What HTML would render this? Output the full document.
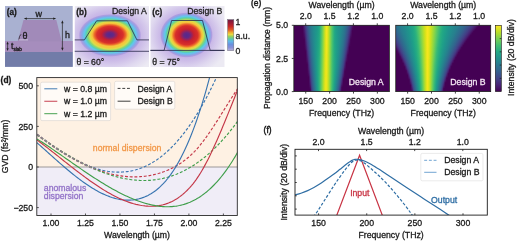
<!DOCTYPE html><html><head><meta charset="utf-8"><title>Figure</title><style>html,body{margin:0;padding:0;background:#fff;width:520px;height:241px;overflow:hidden}svg{display:block}</style></head><body><svg width="520" height="241" viewBox="0 0 520 241"><defs><radialGradient id="bgb" gradientUnits="userSpaceOnUse" cx="0" cy="0" r="1" gradientTransform="translate(110.4 36) scale(52 40)"><stop offset="0" stop-color="#b8a0e2"/><stop offset="0.42" stop-color="#bca6e4"/><stop offset="0.62" stop-color="#ccbce8"/><stop offset="0.82" stop-color="#dfd8ef"/><stop offset="1" stop-color="#eceaf3"/></radialGradient><radialGradient id="mb" gradientUnits="userSpaceOnUse" cx="0" cy="0" r="1" gradientTransform="translate(110.0 35.4) scale(31.5 21.5)"><stop offset="0" stop-color="#f4c83c"/><stop offset="0.58" stop-color="#f4c83c"/><stop offset="0.64" stop-color="#d8e04c"/><stop offset="0.7" stop-color="#8ed470"/><stop offset="0.76" stop-color="#58d0b4"/><stop offset="0.82" stop-color="#62c6ee"/><stop offset="0.89" stop-color="#8aa6e6"/><stop offset="0.95" stop-color="#ac9ce0"/><stop offset="1" stop-color="#b8a0e2" stop-opacity="0"/></radialGradient><radialGradient id="mbi" gradientUnits="userSpaceOnUse" cx="0" cy="0" r="1" gradientTransform="translate(110.0 34.8) scale(19.5 12.4)"><stop offset="0" stop-color="#56288c"/><stop offset="0.18" stop-color="#642884"/><stop offset="0.32" stop-color="#9a2258"/><stop offset="0.44" stop-color="#c8202e"/><stop offset="0.68" stop-color="#d8302a"/><stop offset="0.8" stop-color="#ec6a2a"/><stop offset="0.92" stop-color="#f4c43c"/><stop offset="1" stop-color="#f4c83c" stop-opacity="0"/></radialGradient><clipPath id="cb"><rect x="74.5" y="6.1" width="74.6" height="61"/></clipPath><radialGradient id="bgc" gradientUnits="userSpaceOnUse" cx="0" cy="0" r="1" gradientTransform="translate(186.3 35.5) scale(44 40)"><stop offset="0" stop-color="#b8a0e2"/><stop offset="0.42" stop-color="#bca6e4"/><stop offset="0.62" stop-color="#ccbce8"/><stop offset="0.82" stop-color="#dfd8ef"/><stop offset="1" stop-color="#eceaf3"/></radialGradient><radialGradient id="mc" gradientUnits="userSpaceOnUse" cx="0" cy="0" r="1" gradientTransform="translate(186.5 35.0) scale(26.5 22.8)"><stop offset="0" stop-color="#f4c83c"/><stop offset="0.58" stop-color="#f4c83c"/><stop offset="0.64" stop-color="#d8e04c"/><stop offset="0.7" stop-color="#8ed470"/><stop offset="0.76" stop-color="#58d0b4"/><stop offset="0.82" stop-color="#62c6ee"/><stop offset="0.89" stop-color="#8aa6e6"/><stop offset="0.95" stop-color="#ac9ce0"/><stop offset="1" stop-color="#b8a0e2" stop-opacity="0"/></radialGradient><radialGradient id="mci" gradientUnits="userSpaceOnUse" cx="0" cy="0" r="1" gradientTransform="translate(186.7 35.3) scale(16.5 14)"><stop offset="0" stop-color="#56288c"/><stop offset="0.18" stop-color="#642884"/><stop offset="0.32" stop-color="#9a2258"/><stop offset="0.44" stop-color="#c8202e"/><stop offset="0.68" stop-color="#d8302a"/><stop offset="0.8" stop-color="#ec6a2a"/><stop offset="0.92" stop-color="#f4c43c"/><stop offset="1" stop-color="#f4c83c" stop-opacity="0"/></radialGradient><clipPath id="cc"><rect x="150.3" y="6.1" width="74.4" height="61"/></clipPath><linearGradient id="cbm" x1="0" y1="0" x2="0" y2="1"><stop offset="0" stop-color="#6e1a40"/><stop offset="0.12" stop-color="#a01c34"/><stop offset="0.22" stop-color="#c82828"/><stop offset="0.33" stop-color="#e05a28"/><stop offset="0.42" stop-color="#f0b030"/><stop offset="0.48" stop-color="#e8d840"/><stop offset="0.55" stop-color="#90d060"/><stop offset="0.63" stop-color="#58c8b0"/><stop offset="0.7" stop-color="#60b8e8"/><stop offset="0.8" stop-color="#6890e0"/><stop offset="0.9" stop-color="#8890d8"/><stop offset="1" stop-color="#b8b0dc"/></linearGradient><clipPath id="cd"><rect x="36.8" y="77.6" width="200.5" height="137.9"/></clipPath><clipPath id="hAc"><rect x="293.8" y="25.3" width="95.59999999999997" height="66.3"/></clipPath><linearGradient id="hA0"><stop offset="0.000" stop-color="#440154"/><stop offset="0.078" stop-color="#440154"/><stop offset="0.094" stop-color="#450457"/><stop offset="0.110" stop-color="#482475"/><stop offset="0.126" stop-color="#424086"/><stop offset="0.141" stop-color="#39568c"/><stop offset="0.157" stop-color="#306a8e"/><stop offset="0.173" stop-color="#2a778e"/><stop offset="0.188" stop-color="#26818e"/><stop offset="0.204" stop-color="#23898e"/><stop offset="0.220" stop-color="#218f8d"/><stop offset="0.235" stop-color="#1f958b"/><stop offset="0.251" stop-color="#1e9b8a"/><stop offset="0.267" stop-color="#22a785"/><stop offset="0.282" stop-color="#38b977"/><stop offset="0.298" stop-color="#63cb5f"/><stop offset="0.314" stop-color="#9dd93b"/><stop offset="0.329" stop-color="#d8e219"/><stop offset="0.345" stop-color="#f8e621"/><stop offset="0.361" stop-color="#d0e11c"/><stop offset="0.377" stop-color="#9bd93c"/><stop offset="0.392" stop-color="#67cc5c"/><stop offset="0.408" stop-color="#3fbc73"/><stop offset="0.424" stop-color="#25ac82"/><stop offset="0.439" stop-color="#1f9e89"/><stop offset="0.455" stop-color="#1f988b"/><stop offset="0.471" stop-color="#20928c"/><stop offset="0.486" stop-color="#228d8d"/><stop offset="0.502" stop-color="#23888e"/><stop offset="0.518" stop-color="#27808e"/><stop offset="0.533" stop-color="#2a778e"/><stop offset="0.549" stop-color="#2f6c8e"/><stop offset="0.565" stop-color="#375b8d"/><stop offset="0.581" stop-color="#3f4788"/><stop offset="0.596" stop-color="#472f7d"/><stop offset="0.612" stop-color="#481668"/><stop offset="0.628" stop-color="#440154"/><stop offset="0.988" stop-color="#440154"/></linearGradient><linearGradient id="hA1"><stop offset="0.000" stop-color="#440154"/><stop offset="0.094" stop-color="#440154"/><stop offset="0.110" stop-color="#482173"/><stop offset="0.126" stop-color="#423f85"/><stop offset="0.141" stop-color="#39558c"/><stop offset="0.157" stop-color="#30698e"/><stop offset="0.173" stop-color="#2a768e"/><stop offset="0.188" stop-color="#26818e"/><stop offset="0.204" stop-color="#23898e"/><stop offset="0.220" stop-color="#218f8d"/><stop offset="0.235" stop-color="#1f958b"/><stop offset="0.251" stop-color="#1e9c89"/><stop offset="0.267" stop-color="#22a785"/><stop offset="0.282" stop-color="#3aba76"/><stop offset="0.298" stop-color="#63cb5f"/><stop offset="0.314" stop-color="#9dd93b"/><stop offset="0.329" stop-color="#d8e219"/><stop offset="0.345" stop-color="#f8e621"/><stop offset="0.361" stop-color="#d0e11c"/><stop offset="0.377" stop-color="#98d83e"/><stop offset="0.392" stop-color="#65cb5e"/><stop offset="0.408" stop-color="#3fbc73"/><stop offset="0.424" stop-color="#25ac82"/><stop offset="0.439" stop-color="#1f9e89"/><stop offset="0.455" stop-color="#1f988b"/><stop offset="0.471" stop-color="#20928c"/><stop offset="0.486" stop-color="#228d8d"/><stop offset="0.502" stop-color="#24878e"/><stop offset="0.518" stop-color="#277f8e"/><stop offset="0.533" stop-color="#2a768e"/><stop offset="0.549" stop-color="#2f6b8e"/><stop offset="0.565" stop-color="#38598c"/><stop offset="0.581" stop-color="#404688"/><stop offset="0.596" stop-color="#472d7b"/><stop offset="0.612" stop-color="#471164"/><stop offset="0.628" stop-color="#440154"/><stop offset="0.988" stop-color="#440154"/></linearGradient><linearGradient id="hA2"><stop offset="0.000" stop-color="#440154"/><stop offset="0.094" stop-color="#440154"/><stop offset="0.110" stop-color="#482071"/><stop offset="0.126" stop-color="#433d84"/><stop offset="0.141" stop-color="#3a548c"/><stop offset="0.157" stop-color="#31688e"/><stop offset="0.173" stop-color="#2a768e"/><stop offset="0.188" stop-color="#26818e"/><stop offset="0.204" stop-color="#23898e"/><stop offset="0.220" stop-color="#21908d"/><stop offset="0.235" stop-color="#1f958b"/><stop offset="0.251" stop-color="#1e9c89"/><stop offset="0.267" stop-color="#22a785"/><stop offset="0.282" stop-color="#3aba76"/><stop offset="0.298" stop-color="#65cb5e"/><stop offset="0.314" stop-color="#9dd93b"/><stop offset="0.329" stop-color="#d8e219"/><stop offset="0.345" stop-color="#f8e621"/><stop offset="0.361" stop-color="#d0e11c"/><stop offset="0.377" stop-color="#98d83e"/><stop offset="0.392" stop-color="#65cb5e"/><stop offset="0.408" stop-color="#3fbc73"/><stop offset="0.424" stop-color="#25ac82"/><stop offset="0.439" stop-color="#1f9e89"/><stop offset="0.455" stop-color="#1f988b"/><stop offset="0.471" stop-color="#20928c"/><stop offset="0.486" stop-color="#228d8d"/><stop offset="0.502" stop-color="#24878e"/><stop offset="0.518" stop-color="#277f8e"/><stop offset="0.533" stop-color="#2b758e"/><stop offset="0.549" stop-color="#30698e"/><stop offset="0.565" stop-color="#39568c"/><stop offset="0.581" stop-color="#414487"/><stop offset="0.596" stop-color="#472a7a"/><stop offset="0.612" stop-color="#470e61"/><stop offset="0.628" stop-color="#440154"/><stop offset="0.988" stop-color="#440154"/></linearGradient><linearGradient id="hA3"><stop offset="0.000" stop-color="#440154"/><stop offset="0.094" stop-color="#440154"/><stop offset="0.110" stop-color="#481d6f"/><stop offset="0.126" stop-color="#443b84"/><stop offset="0.141" stop-color="#3b528b"/><stop offset="0.157" stop-color="#31678e"/><stop offset="0.173" stop-color="#2b758e"/><stop offset="0.188" stop-color="#27808e"/><stop offset="0.204" stop-color="#23898e"/><stop offset="0.220" stop-color="#21908d"/><stop offset="0.235" stop-color="#1f968b"/><stop offset="0.251" stop-color="#1e9d89"/><stop offset="0.267" stop-color="#22a785"/><stop offset="0.282" stop-color="#3aba76"/><stop offset="0.298" stop-color="#65cb5e"/><stop offset="0.314" stop-color="#9dd93b"/><stop offset="0.329" stop-color="#d8e219"/><stop offset="0.345" stop-color="#f8e621"/><stop offset="0.361" stop-color="#d0e11c"/><stop offset="0.377" stop-color="#98d83e"/><stop offset="0.392" stop-color="#65cb5e"/><stop offset="0.408" stop-color="#3fbc73"/><stop offset="0.424" stop-color="#25ac82"/><stop offset="0.439" stop-color="#1f9f88"/><stop offset="0.455" stop-color="#1f998a"/><stop offset="0.471" stop-color="#20928c"/><stop offset="0.486" stop-color="#228d8d"/><stop offset="0.502" stop-color="#24878e"/><stop offset="0.518" stop-color="#277e8e"/><stop offset="0.533" stop-color="#2b758e"/><stop offset="0.549" stop-color="#31678e"/><stop offset="0.565" stop-color="#39558c"/><stop offset="0.581" stop-color="#424186"/><stop offset="0.596" stop-color="#482878"/><stop offset="0.612" stop-color="#460a5d"/><stop offset="0.628" stop-color="#440154"/><stop offset="0.988" stop-color="#440154"/></linearGradient><linearGradient id="hA4"><stop offset="0.000" stop-color="#440154"/><stop offset="0.094" stop-color="#440154"/><stop offset="0.110" stop-color="#481b6d"/><stop offset="0.126" stop-color="#443983"/><stop offset="0.141" stop-color="#3b518b"/><stop offset="0.157" stop-color="#31668e"/><stop offset="0.173" stop-color="#2b758e"/><stop offset="0.188" stop-color="#27808e"/><stop offset="0.204" stop-color="#23898e"/><stop offset="0.220" stop-color="#21908d"/><stop offset="0.235" stop-color="#1f968b"/><stop offset="0.251" stop-color="#1e9d89"/><stop offset="0.267" stop-color="#22a884"/><stop offset="0.282" stop-color="#3bbb75"/><stop offset="0.298" stop-color="#65cb5e"/><stop offset="0.314" stop-color="#9dd93b"/><stop offset="0.329" stop-color="#d8e219"/><stop offset="0.345" stop-color="#f8e621"/><stop offset="0.361" stop-color="#d0e11c"/><stop offset="0.377" stop-color="#98d83e"/><stop offset="0.392" stop-color="#65cb5e"/><stop offset="0.408" stop-color="#3fbc73"/><stop offset="0.424" stop-color="#25ac82"/><stop offset="0.439" stop-color="#1f9f88"/><stop offset="0.455" stop-color="#1f998a"/><stop offset="0.471" stop-color="#20928c"/><stop offset="0.486" stop-color="#228d8d"/><stop offset="0.502" stop-color="#24868e"/><stop offset="0.518" stop-color="#277e8e"/><stop offset="0.533" stop-color="#2b748e"/><stop offset="0.549" stop-color="#31668e"/><stop offset="0.565" stop-color="#3a538b"/><stop offset="0.581" stop-color="#423f85"/><stop offset="0.596" stop-color="#482475"/><stop offset="0.612" stop-color="#46075a"/><stop offset="0.628" stop-color="#440154"/><stop offset="0.988" stop-color="#440154"/></linearGradient><linearGradient id="hA5"><stop offset="0.000" stop-color="#440154"/><stop offset="0.094" stop-color="#440154"/><stop offset="0.110" stop-color="#48186a"/><stop offset="0.126" stop-color="#453882"/><stop offset="0.141" stop-color="#3c508b"/><stop offset="0.157" stop-color="#32658e"/><stop offset="0.173" stop-color="#2b748e"/><stop offset="0.188" stop-color="#277f8e"/><stop offset="0.204" stop-color="#23898e"/><stop offset="0.220" stop-color="#21908d"/><stop offset="0.235" stop-color="#1f968b"/><stop offset="0.251" stop-color="#1e9d89"/><stop offset="0.267" stop-color="#22a884"/><stop offset="0.282" stop-color="#3bbb75"/><stop offset="0.298" stop-color="#65cb5e"/><stop offset="0.314" stop-color="#a0da39"/><stop offset="0.329" stop-color="#d8e219"/><stop offset="0.345" stop-color="#f8e621"/><stop offset="0.361" stop-color="#cde11d"/><stop offset="0.377" stop-color="#98d83e"/><stop offset="0.392" stop-color="#65cb5e"/><stop offset="0.408" stop-color="#3fbc73"/><stop offset="0.424" stop-color="#25ac82"/><stop offset="0.439" stop-color="#1f9f88"/><stop offset="0.455" stop-color="#1f998a"/><stop offset="0.471" stop-color="#20928c"/><stop offset="0.486" stop-color="#228d8d"/><stop offset="0.502" stop-color="#24868e"/><stop offset="0.518" stop-color="#287d8e"/><stop offset="0.533" stop-color="#2c738e"/><stop offset="0.549" stop-color="#32648e"/><stop offset="0.565" stop-color="#3b518b"/><stop offset="0.581" stop-color="#433d84"/><stop offset="0.596" stop-color="#482173"/><stop offset="0.612" stop-color="#440256"/><stop offset="0.628" stop-color="#440154"/><stop offset="0.988" stop-color="#440154"/></linearGradient><linearGradient id="hA6"><stop offset="0.000" stop-color="#440154"/><stop offset="0.094" stop-color="#440154"/><stop offset="0.110" stop-color="#481769"/><stop offset="0.126" stop-color="#453581"/><stop offset="0.141" stop-color="#3c4f8a"/><stop offset="0.157" stop-color="#32648e"/><stop offset="0.173" stop-color="#2b748e"/><stop offset="0.188" stop-color="#277f8e"/><stop offset="0.204" stop-color="#23898e"/><stop offset="0.220" stop-color="#21908d"/><stop offset="0.235" stop-color="#1f968b"/><stop offset="0.251" stop-color="#1f9e89"/><stop offset="0.267" stop-color="#22a884"/><stop offset="0.282" stop-color="#3bbb75"/><stop offset="0.298" stop-color="#67cc5c"/><stop offset="0.314" stop-color="#a0da39"/><stop offset="0.329" stop-color="#d8e219"/><stop offset="0.345" stop-color="#f8e621"/><stop offset="0.361" stop-color="#cde11d"/><stop offset="0.377" stop-color="#98d83e"/><stop offset="0.392" stop-color="#65cb5e"/><stop offset="0.408" stop-color="#3dbc74"/><stop offset="0.424" stop-color="#25ab82"/><stop offset="0.439" stop-color="#1fa088"/><stop offset="0.455" stop-color="#1f998a"/><stop offset="0.471" stop-color="#20928c"/><stop offset="0.486" stop-color="#228d8d"/><stop offset="0.502" stop-color="#25858e"/><stop offset="0.518" stop-color="#287c8e"/><stop offset="0.533" stop-color="#2c728e"/><stop offset="0.549" stop-color="#33638d"/><stop offset="0.565" stop-color="#3c508b"/><stop offset="0.581" stop-color="#443983"/><stop offset="0.596" stop-color="#481d6f"/><stop offset="0.612" stop-color="#440154"/><stop offset="0.988" stop-color="#440154"/></linearGradient><linearGradient id="hA7"><stop offset="0.000" stop-color="#440154"/><stop offset="0.094" stop-color="#440154"/><stop offset="0.110" stop-color="#481467"/><stop offset="0.126" stop-color="#463480"/><stop offset="0.141" stop-color="#3d4e8a"/><stop offset="0.157" stop-color="#33638d"/><stop offset="0.173" stop-color="#2c738e"/><stop offset="0.188" stop-color="#277f8e"/><stop offset="0.204" stop-color="#23898e"/><stop offset="0.220" stop-color="#21908d"/><stop offset="0.235" stop-color="#1f978b"/><stop offset="0.251" stop-color="#1f9e89"/><stop offset="0.267" stop-color="#22a884"/><stop offset="0.282" stop-color="#3bbb75"/><stop offset="0.298" stop-color="#67cc5c"/><stop offset="0.314" stop-color="#a0da39"/><stop offset="0.329" stop-color="#dae319"/><stop offset="0.345" stop-color="#f8e621"/><stop offset="0.361" stop-color="#cde11d"/><stop offset="0.377" stop-color="#98d83e"/><stop offset="0.392" stop-color="#65cb5e"/><stop offset="0.408" stop-color="#3dbc74"/><stop offset="0.424" stop-color="#25ab82"/><stop offset="0.439" stop-color="#1fa088"/><stop offset="0.455" stop-color="#1f998a"/><stop offset="0.471" stop-color="#20928c"/><stop offset="0.486" stop-color="#228d8d"/><stop offset="0.502" stop-color="#25858e"/><stop offset="0.518" stop-color="#297b8e"/><stop offset="0.533" stop-color="#2c718e"/><stop offset="0.549" stop-color="#34618d"/><stop offset="0.565" stop-color="#3d4e8a"/><stop offset="0.581" stop-color="#453781"/><stop offset="0.596" stop-color="#481b6d"/><stop offset="0.612" stop-color="#440154"/><stop offset="0.988" stop-color="#440154"/></linearGradient><linearGradient id="hA8"><stop offset="0.000" stop-color="#440154"/><stop offset="0.094" stop-color="#440154"/><stop offset="0.110" stop-color="#471164"/><stop offset="0.126" stop-color="#46327e"/><stop offset="0.141" stop-color="#3d4d8a"/><stop offset="0.157" stop-color="#33628d"/><stop offset="0.173" stop-color="#2c738e"/><stop offset="0.188" stop-color="#277e8e"/><stop offset="0.204" stop-color="#23888e"/><stop offset="0.220" stop-color="#21908d"/><stop offset="0.235" stop-color="#1f978b"/><stop offset="0.251" stop-color="#1f9f88"/><stop offset="0.267" stop-color="#23a983"/><stop offset="0.282" stop-color="#3dbc74"/><stop offset="0.298" stop-color="#67cc5c"/><stop offset="0.314" stop-color="#a0da39"/><stop offset="0.329" stop-color="#dae319"/><stop offset="0.345" stop-color="#f8e621"/><stop offset="0.361" stop-color="#cde11d"/><stop offset="0.377" stop-color="#98d83e"/><stop offset="0.392" stop-color="#65cb5e"/><stop offset="0.408" stop-color="#3dbc74"/><stop offset="0.424" stop-color="#25ab82"/><stop offset="0.439" stop-color="#1fa088"/><stop offset="0.455" stop-color="#1f998a"/><stop offset="0.471" stop-color="#20928c"/><stop offset="0.486" stop-color="#228c8d"/><stop offset="0.502" stop-color="#25848e"/><stop offset="0.518" stop-color="#297b8e"/><stop offset="0.533" stop-color="#2d718e"/><stop offset="0.549" stop-color="#355f8d"/><stop offset="0.565" stop-color="#3e4c8a"/><stop offset="0.581" stop-color="#463480"/><stop offset="0.596" stop-color="#481769"/><stop offset="0.612" stop-color="#440154"/><stop offset="0.988" stop-color="#440154"/></linearGradient><linearGradient id="hA9"><stop offset="0.000" stop-color="#440154"/><stop offset="0.094" stop-color="#440154"/><stop offset="0.110" stop-color="#470e61"/><stop offset="0.126" stop-color="#472f7d"/><stop offset="0.141" stop-color="#3e4c8a"/><stop offset="0.157" stop-color="#34608d"/><stop offset="0.173" stop-color="#2c728e"/><stop offset="0.188" stop-color="#277e8e"/><stop offset="0.204" stop-color="#23888e"/><stop offset="0.220" stop-color="#21908d"/><stop offset="0.235" stop-color="#1f978b"/><stop offset="0.251" stop-color="#1f9f88"/><stop offset="0.267" stop-color="#23a983"/><stop offset="0.282" stop-color="#3dbc74"/><stop offset="0.298" stop-color="#69cd5b"/><stop offset="0.314" stop-color="#a0da39"/><stop offset="0.329" stop-color="#dae319"/><stop offset="0.345" stop-color="#f6e620"/><stop offset="0.361" stop-color="#cde11d"/><stop offset="0.377" stop-color="#95d840"/><stop offset="0.392" stop-color="#65cb5e"/><stop offset="0.408" stop-color="#3dbc74"/><stop offset="0.424" stop-color="#25ab82"/><stop offset="0.439" stop-color="#1fa188"/><stop offset="0.455" stop-color="#1f998a"/><stop offset="0.471" stop-color="#20928c"/><stop offset="0.486" stop-color="#228c8d"/><stop offset="0.502" stop-color="#25838e"/><stop offset="0.518" stop-color="#297a8e"/><stop offset="0.533" stop-color="#2d708e"/><stop offset="0.549" stop-color="#365d8d"/><stop offset="0.565" stop-color="#3e4989"/><stop offset="0.581" stop-color="#46307e"/><stop offset="0.596" stop-color="#481467"/><stop offset="0.612" stop-color="#440154"/><stop offset="0.988" stop-color="#440154"/></linearGradient><linearGradient id="hA10"><stop offset="0.000" stop-color="#440154"/><stop offset="0.094" stop-color="#440154"/><stop offset="0.110" stop-color="#470d60"/><stop offset="0.126" stop-color="#472e7c"/><stop offset="0.141" stop-color="#3e4989"/><stop offset="0.157" stop-color="#355f8d"/><stop offset="0.173" stop-color="#2c728e"/><stop offset="0.188" stop-color="#287d8e"/><stop offset="0.204" stop-color="#23888e"/><stop offset="0.220" stop-color="#21908d"/><stop offset="0.235" stop-color="#1f978b"/><stop offset="0.251" stop-color="#1fa088"/><stop offset="0.267" stop-color="#23a983"/><stop offset="0.282" stop-color="#3dbc74"/><stop offset="0.298" stop-color="#69cd5b"/><stop offset="0.314" stop-color="#a2da37"/><stop offset="0.329" stop-color="#dae319"/><stop offset="0.345" stop-color="#f6e620"/><stop offset="0.361" stop-color="#cde11d"/><stop offset="0.377" stop-color="#95d840"/><stop offset="0.392" stop-color="#65cb5e"/><stop offset="0.408" stop-color="#3dbc74"/><stop offset="0.424" stop-color="#25ab82"/><stop offset="0.439" stop-color="#1fa188"/><stop offset="0.455" stop-color="#1f9a8a"/><stop offset="0.471" stop-color="#20928c"/><stop offset="0.486" stop-color="#228c8d"/><stop offset="0.502" stop-color="#25838e"/><stop offset="0.518" stop-color="#29798e"/><stop offset="0.533" stop-color="#2e6e8e"/><stop offset="0.549" stop-color="#365c8d"/><stop offset="0.565" stop-color="#3f4889"/><stop offset="0.581" stop-color="#472e7c"/><stop offset="0.596" stop-color="#471063"/><stop offset="0.612" stop-color="#440154"/><stop offset="0.988" stop-color="#440154"/></linearGradient><linearGradient id="hA11"><stop offset="0.000" stop-color="#440154"/><stop offset="0.094" stop-color="#440154"/><stop offset="0.110" stop-color="#460a5d"/><stop offset="0.126" stop-color="#472c7a"/><stop offset="0.141" stop-color="#3f4889"/><stop offset="0.157" stop-color="#355e8d"/><stop offset="0.173" stop-color="#2c718e"/><stop offset="0.188" stop-color="#287d8e"/><stop offset="0.204" stop-color="#23888e"/><stop offset="0.220" stop-color="#21908d"/><stop offset="0.235" stop-color="#1f988b"/><stop offset="0.251" stop-color="#1fa088"/><stop offset="0.267" stop-color="#23a983"/><stop offset="0.282" stop-color="#3dbc74"/><stop offset="0.298" stop-color="#69cd5b"/><stop offset="0.314" stop-color="#a2da37"/><stop offset="0.329" stop-color="#dae319"/><stop offset="0.345" stop-color="#f6e620"/><stop offset="0.361" stop-color="#cde11d"/><stop offset="0.377" stop-color="#95d840"/><stop offset="0.392" stop-color="#63cb5f"/><stop offset="0.408" stop-color="#3dbc74"/><stop offset="0.424" stop-color="#25ab82"/><stop offset="0.439" stop-color="#1fa188"/><stop offset="0.455" stop-color="#1f9a8a"/><stop offset="0.471" stop-color="#20928c"/><stop offset="0.486" stop-color="#228c8d"/><stop offset="0.502" stop-color="#26828e"/><stop offset="0.518" stop-color="#2a788e"/><stop offset="0.533" stop-color="#2f6c8e"/><stop offset="0.549" stop-color="#375a8c"/><stop offset="0.565" stop-color="#404688"/><stop offset="0.581" stop-color="#472a7a"/><stop offset="0.596" stop-color="#460b5e"/><stop offset="0.612" stop-color="#440154"/><stop offset="0.988" stop-color="#440154"/></linearGradient><linearGradient id="hA12"><stop offset="0.000" stop-color="#440154"/><stop offset="0.094" stop-color="#440154"/><stop offset="0.110" stop-color="#46075a"/><stop offset="0.126" stop-color="#482979"/><stop offset="0.141" stop-color="#3f4788"/><stop offset="0.157" stop-color="#365d8d"/><stop offset="0.173" stop-color="#2d718e"/><stop offset="0.188" stop-color="#287d8e"/><stop offset="0.204" stop-color="#24878e"/><stop offset="0.220" stop-color="#21908d"/><stop offset="0.235" stop-color="#1f988b"/><stop offset="0.251" stop-color="#1fa088"/><stop offset="0.267" stop-color="#24aa83"/><stop offset="0.282" stop-color="#3fbc73"/><stop offset="0.298" stop-color="#69cd5b"/><stop offset="0.314" stop-color="#a2da37"/><stop offset="0.329" stop-color="#dae319"/><stop offset="0.345" stop-color="#f6e620"/><stop offset="0.361" stop-color="#cde11d"/><stop offset="0.377" stop-color="#95d840"/><stop offset="0.392" stop-color="#63cb5f"/><stop offset="0.408" stop-color="#3dbc74"/><stop offset="0.424" stop-color="#25ab82"/><stop offset="0.439" stop-color="#1fa188"/><stop offset="0.455" stop-color="#1f9a8a"/><stop offset="0.471" stop-color="#20928c"/><stop offset="0.486" stop-color="#228b8d"/><stop offset="0.502" stop-color="#26828e"/><stop offset="0.518" stop-color="#2a778e"/><stop offset="0.533" stop-color="#2f6b8e"/><stop offset="0.549" stop-color="#38588c"/><stop offset="0.565" stop-color="#414487"/><stop offset="0.581" stop-color="#482878"/><stop offset="0.596" stop-color="#46075a"/><stop offset="0.612" stop-color="#440154"/><stop offset="0.988" stop-color="#440154"/></linearGradient><linearGradient id="hA13"><stop offset="0.000" stop-color="#440154"/><stop offset="0.094" stop-color="#440154"/><stop offset="0.110" stop-color="#450457"/><stop offset="0.126" stop-color="#482677"/><stop offset="0.141" stop-color="#404688"/><stop offset="0.157" stop-color="#365c8d"/><stop offset="0.173" stop-color="#2d708e"/><stop offset="0.188" stop-color="#287c8e"/><stop offset="0.204" stop-color="#24878e"/><stop offset="0.220" stop-color="#21908d"/><stop offset="0.235" stop-color="#1f988b"/><stop offset="0.251" stop-color="#1fa188"/><stop offset="0.267" stop-color="#24aa83"/><stop offset="0.282" stop-color="#3fbc73"/><stop offset="0.298" stop-color="#6ccd5a"/><stop offset="0.314" stop-color="#a2da37"/><stop offset="0.329" stop-color="#dae319"/><stop offset="0.345" stop-color="#f6e620"/><stop offset="0.361" stop-color="#cae11f"/><stop offset="0.377" stop-color="#95d840"/><stop offset="0.392" stop-color="#63cb5f"/><stop offset="0.408" stop-color="#3dbc74"/><stop offset="0.424" stop-color="#24aa83"/><stop offset="0.439" stop-color="#1fa187"/><stop offset="0.455" stop-color="#1f9a8a"/><stop offset="0.471" stop-color="#20928c"/><stop offset="0.486" stop-color="#228b8d"/><stop offset="0.502" stop-color="#26828e"/><stop offset="0.518" stop-color="#2a778e"/><stop offset="0.533" stop-color="#30698e"/><stop offset="0.549" stop-color="#39568c"/><stop offset="0.565" stop-color="#424186"/><stop offset="0.581" stop-color="#482475"/><stop offset="0.596" stop-color="#450457"/><stop offset="0.612" stop-color="#440154"/><stop offset="0.988" stop-color="#440154"/></linearGradient><linearGradient id="hA14"><stop offset="0.000" stop-color="#440154"/><stop offset="0.110" stop-color="#440154"/><stop offset="0.126" stop-color="#482576"/><stop offset="0.141" stop-color="#414487"/><stop offset="0.157" stop-color="#375b8d"/><stop offset="0.173" stop-color="#2e6f8e"/><stop offset="0.188" stop-color="#287c8e"/><stop offset="0.204" stop-color="#24878e"/><stop offset="0.220" stop-color="#21908d"/><stop offset="0.235" stop-color="#1f988b"/><stop offset="0.251" stop-color="#1fa188"/><stop offset="0.267" stop-color="#24aa83"/><stop offset="0.282" stop-color="#3fbc73"/><stop offset="0.298" stop-color="#6ccd5a"/><stop offset="0.314" stop-color="#a2da37"/><stop offset="0.329" stop-color="#dde318"/><stop offset="0.345" stop-color="#f6e620"/><stop offset="0.361" stop-color="#cae11f"/><stop offset="0.377" stop-color="#95d840"/><stop offset="0.392" stop-color="#63cb5f"/><stop offset="0.408" stop-color="#3dbc74"/><stop offset="0.424" stop-color="#24aa83"/><stop offset="0.439" stop-color="#1fa187"/><stop offset="0.455" stop-color="#1f9a8a"/><stop offset="0.471" stop-color="#20928c"/><stop offset="0.486" stop-color="#228b8d"/><stop offset="0.502" stop-color="#26818e"/><stop offset="0.518" stop-color="#2a768e"/><stop offset="0.533" stop-color="#31678e"/><stop offset="0.549" stop-color="#3a548c"/><stop offset="0.565" stop-color="#433e85"/><stop offset="0.581" stop-color="#482071"/><stop offset="0.596" stop-color="#440154"/><stop offset="0.988" stop-color="#440154"/></linearGradient><linearGradient id="hA15"><stop offset="0.000" stop-color="#440154"/><stop offset="0.110" stop-color="#440154"/><stop offset="0.126" stop-color="#482374"/><stop offset="0.141" stop-color="#414287"/><stop offset="0.157" stop-color="#375a8c"/><stop offset="0.173" stop-color="#2e6e8e"/><stop offset="0.188" stop-color="#297b8e"/><stop offset="0.204" stop-color="#24868e"/><stop offset="0.220" stop-color="#21908d"/><stop offset="0.235" stop-color="#1f988b"/><stop offset="0.251" stop-color="#1fa188"/><stop offset="0.267" stop-color="#24aa83"/><stop offset="0.282" stop-color="#3fbc73"/><stop offset="0.298" stop-color="#6ccd5a"/><stop offset="0.314" stop-color="#a5db36"/><stop offset="0.329" stop-color="#dde318"/><stop offset="0.345" stop-color="#f6e620"/><stop offset="0.361" stop-color="#cae11f"/><stop offset="0.377" stop-color="#95d840"/><stop offset="0.392" stop-color="#63cb5f"/><stop offset="0.408" stop-color="#3dbc74"/><stop offset="0.424" stop-color="#24aa83"/><stop offset="0.439" stop-color="#1fa187"/><stop offset="0.455" stop-color="#1f9a8a"/><stop offset="0.471" stop-color="#20928c"/><stop offset="0.486" stop-color="#238a8d"/><stop offset="0.502" stop-color="#27808e"/><stop offset="0.518" stop-color="#2b758e"/><stop offset="0.533" stop-color="#31668e"/><stop offset="0.549" stop-color="#3b528b"/><stop offset="0.565" stop-color="#443b84"/><stop offset="0.581" stop-color="#481d6f"/><stop offset="0.596" stop-color="#440154"/><stop offset="0.988" stop-color="#440154"/></linearGradient><linearGradient id="hA16"><stop offset="0.000" stop-color="#440154"/><stop offset="0.110" stop-color="#440154"/><stop offset="0.126" stop-color="#482071"/><stop offset="0.141" stop-color="#424186"/><stop offset="0.157" stop-color="#38588c"/><stop offset="0.173" stop-color="#2e6d8e"/><stop offset="0.188" stop-color="#297a8e"/><stop offset="0.204" stop-color="#24868e"/><stop offset="0.220" stop-color="#21908d"/><stop offset="0.235" stop-color="#1f988b"/><stop offset="0.251" stop-color="#1fa187"/><stop offset="0.267" stop-color="#25ab82"/><stop offset="0.282" stop-color="#40bd72"/><stop offset="0.298" stop-color="#6ccd5a"/><stop offset="0.314" stop-color="#a5db36"/><stop offset="0.329" stop-color="#dde318"/><stop offset="0.345" stop-color="#f6e620"/><stop offset="0.361" stop-color="#cae11f"/><stop offset="0.377" stop-color="#95d840"/><stop offset="0.392" stop-color="#63cb5f"/><stop offset="0.408" stop-color="#3bbb75"/><stop offset="0.424" stop-color="#24aa83"/><stop offset="0.439" stop-color="#1fa187"/><stop offset="0.455" stop-color="#1f9a8a"/><stop offset="0.471" stop-color="#20928c"/><stop offset="0.486" stop-color="#238a8d"/><stop offset="0.502" stop-color="#277f8e"/><stop offset="0.518" stop-color="#2b748e"/><stop offset="0.533" stop-color="#32648e"/><stop offset="0.549" stop-color="#3c508b"/><stop offset="0.565" stop-color="#453882"/><stop offset="0.581" stop-color="#481a6c"/><stop offset="0.596" stop-color="#440154"/><stop offset="0.988" stop-color="#440154"/></linearGradient><linearGradient id="hA17"><stop offset="0.000" stop-color="#440154"/><stop offset="0.110" stop-color="#440154"/><stop offset="0.126" stop-color="#481d6f"/><stop offset="0.141" stop-color="#423f85"/><stop offset="0.157" stop-color="#39568c"/><stop offset="0.173" stop-color="#2f6c8e"/><stop offset="0.188" stop-color="#297a8e"/><stop offset="0.204" stop-color="#24868e"/><stop offset="0.220" stop-color="#21908d"/><stop offset="0.235" stop-color="#1f998a"/><stop offset="0.251" stop-color="#1fa187"/><stop offset="0.267" stop-color="#25ab82"/><stop offset="0.282" stop-color="#40bd72"/><stop offset="0.298" stop-color="#6ece58"/><stop offset="0.314" stop-color="#a5db36"/><stop offset="0.329" stop-color="#dde318"/><stop offset="0.345" stop-color="#f6e620"/><stop offset="0.361" stop-color="#cae11f"/><stop offset="0.377" stop-color="#95d840"/><stop offset="0.392" stop-color="#63cb5f"/><stop offset="0.408" stop-color="#3bbb75"/><stop offset="0.424" stop-color="#24aa83"/><stop offset="0.439" stop-color="#1fa187"/><stop offset="0.455" stop-color="#1f9a8a"/><stop offset="0.471" stop-color="#20928c"/><stop offset="0.486" stop-color="#23898e"/><stop offset="0.502" stop-color="#277f8e"/><stop offset="0.518" stop-color="#2c738e"/><stop offset="0.533" stop-color="#33628d"/><stop offset="0.549" stop-color="#3d4e8a"/><stop offset="0.565" stop-color="#453581"/><stop offset="0.581" stop-color="#481668"/><stop offset="0.596" stop-color="#440154"/><stop offset="0.988" stop-color="#440154"/></linearGradient><linearGradient id="hA18"><stop offset="0.000" stop-color="#440154"/><stop offset="0.110" stop-color="#440154"/><stop offset="0.126" stop-color="#481b6d"/><stop offset="0.141" stop-color="#433d84"/><stop offset="0.157" stop-color="#39558c"/><stop offset="0.173" stop-color="#2f6b8e"/><stop offset="0.188" stop-color="#29798e"/><stop offset="0.204" stop-color="#25858e"/><stop offset="0.220" stop-color="#21908d"/><stop offset="0.235" stop-color="#1f998a"/><stop offset="0.251" stop-color="#1fa187"/><stop offset="0.267" stop-color="#25ab82"/><stop offset="0.282" stop-color="#40bd72"/><stop offset="0.298" stop-color="#6ece58"/><stop offset="0.314" stop-color="#a5db36"/><stop offset="0.329" stop-color="#dde318"/><stop offset="0.345" stop-color="#f6e620"/><stop offset="0.361" stop-color="#cae11f"/><stop offset="0.377" stop-color="#95d840"/><stop offset="0.392" stop-color="#63cb5f"/><stop offset="0.408" stop-color="#3bbb75"/><stop offset="0.424" stop-color="#24aa83"/><stop offset="0.439" stop-color="#1fa187"/><stop offset="0.455" stop-color="#1f9a8a"/><stop offset="0.471" stop-color="#20928c"/><stop offset="0.486" stop-color="#23898e"/><stop offset="0.502" stop-color="#277e8e"/><stop offset="0.518" stop-color="#2c728e"/><stop offset="0.533" stop-color="#34608d"/><stop offset="0.549" stop-color="#3d4d8a"/><stop offset="0.565" stop-color="#46327e"/><stop offset="0.581" stop-color="#471164"/><stop offset="0.596" stop-color="#440154"/><stop offset="0.988" stop-color="#440154"/></linearGradient><linearGradient id="hA19"><stop offset="0.000" stop-color="#440154"/><stop offset="0.110" stop-color="#440154"/><stop offset="0.126" stop-color="#48186a"/><stop offset="0.141" stop-color="#443b84"/><stop offset="0.157" stop-color="#3a548c"/><stop offset="0.173" stop-color="#30698e"/><stop offset="0.188" stop-color="#29798e"/><stop offset="0.204" stop-color="#25858e"/><stop offset="0.220" stop-color="#21908d"/><stop offset="0.235" stop-color="#1f998a"/><stop offset="0.251" stop-color="#1fa287"/><stop offset="0.267" stop-color="#25ab82"/><stop offset="0.282" stop-color="#42be71"/><stop offset="0.298" stop-color="#6ece58"/><stop offset="0.314" stop-color="#a5db36"/><stop offset="0.329" stop-color="#dde318"/><stop offset="0.345" stop-color="#f4e61e"/><stop offset="0.361" stop-color="#cae11f"/><stop offset="0.377" stop-color="#95d840"/><stop offset="0.392" stop-color="#63cb5f"/><stop offset="0.408" stop-color="#3bbb75"/><stop offset="0.424" stop-color="#25ab82"/><stop offset="0.439" stop-color="#1fa287"/><stop offset="0.455" stop-color="#1f998a"/><stop offset="0.471" stop-color="#21918c"/><stop offset="0.486" stop-color="#23888e"/><stop offset="0.502" stop-color="#287d8e"/><stop offset="0.518" stop-color="#2d718e"/><stop offset="0.533" stop-color="#355f8d"/><stop offset="0.549" stop-color="#3e4a89"/><stop offset="0.565" stop-color="#472e7c"/><stop offset="0.581" stop-color="#470d60"/><stop offset="0.596" stop-color="#440154"/><stop offset="0.988" stop-color="#440154"/></linearGradient><linearGradient id="hA20"><stop offset="0.000" stop-color="#440154"/><stop offset="0.110" stop-color="#440154"/><stop offset="0.126" stop-color="#481668"/><stop offset="0.141" stop-color="#443983"/><stop offset="0.157" stop-color="#3a538b"/><stop offset="0.173" stop-color="#31688e"/><stop offset="0.188" stop-color="#2a788e"/><stop offset="0.204" stop-color="#25848e"/><stop offset="0.220" stop-color="#21908d"/><stop offset="0.235" stop-color="#1f998a"/><stop offset="0.251" stop-color="#1fa287"/><stop offset="0.267" stop-color="#25ac82"/><stop offset="0.282" stop-color="#42be71"/><stop offset="0.298" stop-color="#6ece58"/><stop offset="0.314" stop-color="#a8db34"/><stop offset="0.329" stop-color="#dde318"/><stop offset="0.345" stop-color="#f4e61e"/><stop offset="0.361" stop-color="#c8e020"/><stop offset="0.377" stop-color="#93d741"/><stop offset="0.392" stop-color="#63cb5f"/><stop offset="0.408" stop-color="#3bbb75"/><stop offset="0.424" stop-color="#25ab82"/><stop offset="0.439" stop-color="#1fa287"/><stop offset="0.455" stop-color="#1f998a"/><stop offset="0.471" stop-color="#21918c"/><stop offset="0.486" stop-color="#24878e"/><stop offset="0.502" stop-color="#287c8e"/><stop offset="0.518" stop-color="#2d708e"/><stop offset="0.533" stop-color="#365d8d"/><stop offset="0.549" stop-color="#3f4889"/><stop offset="0.565" stop-color="#472c7a"/><stop offset="0.581" stop-color="#46085c"/><stop offset="0.596" stop-color="#440154"/><stop offset="0.988" stop-color="#440154"/></linearGradient><linearGradient id="hA21"><stop offset="0.000" stop-color="#440154"/><stop offset="0.110" stop-color="#440154"/><stop offset="0.126" stop-color="#471365"/><stop offset="0.141" stop-color="#453781"/><stop offset="0.157" stop-color="#3b528b"/><stop offset="0.173" stop-color="#31678e"/><stop offset="0.188" stop-color="#2a788e"/><stop offset="0.204" stop-color="#25848e"/><stop offset="0.220" stop-color="#21908d"/><stop offset="0.235" stop-color="#1f998a"/><stop offset="0.251" stop-color="#1fa287"/><stop offset="0.267" stop-color="#25ac82"/><stop offset="0.282" stop-color="#42be71"/><stop offset="0.298" stop-color="#70cf57"/><stop offset="0.314" stop-color="#a8db34"/><stop offset="0.329" stop-color="#dde318"/><stop offset="0.345" stop-color="#f4e61e"/><stop offset="0.361" stop-color="#c8e020"/><stop offset="0.377" stop-color="#93d741"/><stop offset="0.392" stop-color="#63cb5f"/><stop offset="0.408" stop-color="#3bbb75"/><stop offset="0.424" stop-color="#25ab82"/><stop offset="0.439" stop-color="#1fa287"/><stop offset="0.455" stop-color="#1f998a"/><stop offset="0.471" stop-color="#21918c"/><stop offset="0.486" stop-color="#24868e"/><stop offset="0.502" stop-color="#297b8e"/><stop offset="0.518" stop-color="#2e6e8e"/><stop offset="0.533" stop-color="#375b8d"/><stop offset="0.549" stop-color="#404688"/><stop offset="0.565" stop-color="#482878"/><stop offset="0.581" stop-color="#450457"/><stop offset="0.596" stop-color="#440154"/><stop offset="0.988" stop-color="#440154"/></linearGradient><linearGradient id="hA22"><stop offset="0.000" stop-color="#440154"/><stop offset="0.110" stop-color="#440154"/><stop offset="0.126" stop-color="#471063"/><stop offset="0.141" stop-color="#463480"/><stop offset="0.157" stop-color="#3c508b"/><stop offset="0.173" stop-color="#31668e"/><stop offset="0.188" stop-color="#2a778e"/><stop offset="0.204" stop-color="#25848e"/><stop offset="0.220" stop-color="#21908d"/><stop offset="0.235" stop-color="#1f998a"/><stop offset="0.251" stop-color="#1fa287"/><stop offset="0.267" stop-color="#26ad81"/><stop offset="0.282" stop-color="#42be71"/><stop offset="0.298" stop-color="#70cf57"/><stop offset="0.314" stop-color="#a8db34"/><stop offset="0.329" stop-color="#dfe318"/><stop offset="0.345" stop-color="#f4e61e"/><stop offset="0.361" stop-color="#c8e020"/><stop offset="0.377" stop-color="#93d741"/><stop offset="0.392" stop-color="#60ca60"/><stop offset="0.408" stop-color="#3bbb75"/><stop offset="0.424" stop-color="#25ab82"/><stop offset="0.439" stop-color="#1fa287"/><stop offset="0.455" stop-color="#1f998a"/><stop offset="0.471" stop-color="#21908d"/><stop offset="0.486" stop-color="#24868e"/><stop offset="0.502" stop-color="#297a8e"/><stop offset="0.518" stop-color="#2f6c8e"/><stop offset="0.533" stop-color="#38598c"/><stop offset="0.549" stop-color="#414287"/><stop offset="0.565" stop-color="#482475"/><stop offset="0.581" stop-color="#440154"/><stop offset="0.988" stop-color="#440154"/></linearGradient><linearGradient id="hA23"><stop offset="0.000" stop-color="#440154"/><stop offset="0.110" stop-color="#440154"/><stop offset="0.126" stop-color="#470d60"/><stop offset="0.141" stop-color="#46327e"/><stop offset="0.157" stop-color="#3c4f8a"/><stop offset="0.173" stop-color="#32658e"/><stop offset="0.188" stop-color="#2a768e"/><stop offset="0.204" stop-color="#25838e"/><stop offset="0.220" stop-color="#218f8d"/><stop offset="0.235" stop-color="#1f998a"/><stop offset="0.251" stop-color="#20a386"/><stop offset="0.267" stop-color="#26ad81"/><stop offset="0.282" stop-color="#44bf70"/><stop offset="0.298" stop-color="#70cf57"/><stop offset="0.314" stop-color="#a8db34"/><stop offset="0.329" stop-color="#dfe318"/><stop offset="0.345" stop-color="#f4e61e"/><stop offset="0.361" stop-color="#c8e020"/><stop offset="0.377" stop-color="#93d741"/><stop offset="0.392" stop-color="#60ca60"/><stop offset="0.408" stop-color="#3bbb75"/><stop offset="0.424" stop-color="#25ac82"/><stop offset="0.439" stop-color="#1fa287"/><stop offset="0.455" stop-color="#1f998a"/><stop offset="0.471" stop-color="#21908d"/><stop offset="0.486" stop-color="#25858e"/><stop offset="0.502" stop-color="#29798e"/><stop offset="0.518" stop-color="#2f6b8e"/><stop offset="0.533" stop-color="#39568c"/><stop offset="0.549" stop-color="#424086"/><stop offset="0.565" stop-color="#482071"/><stop offset="0.581" stop-color="#440154"/><stop offset="0.988" stop-color="#440154"/></linearGradient><linearGradient id="hA24"><stop offset="0.000" stop-color="#440154"/><stop offset="0.110" stop-color="#440154"/><stop offset="0.126" stop-color="#460a5d"/><stop offset="0.141" stop-color="#472f7d"/><stop offset="0.157" stop-color="#3d4e8a"/><stop offset="0.173" stop-color="#32648e"/><stop offset="0.188" stop-color="#2a768e"/><stop offset="0.204" stop-color="#25838e"/><stop offset="0.220" stop-color="#218f8d"/><stop offset="0.235" stop-color="#1f998a"/><stop offset="0.251" stop-color="#20a386"/><stop offset="0.267" stop-color="#27ad81"/><stop offset="0.282" stop-color="#44bf70"/><stop offset="0.298" stop-color="#70cf57"/><stop offset="0.314" stop-color="#aadc32"/><stop offset="0.329" stop-color="#dfe318"/><stop offset="0.345" stop-color="#f4e61e"/><stop offset="0.361" stop-color="#c8e020"/><stop offset="0.377" stop-color="#93d741"/><stop offset="0.392" stop-color="#60ca60"/><stop offset="0.408" stop-color="#3aba76"/><stop offset="0.424" stop-color="#25ac82"/><stop offset="0.439" stop-color="#1fa287"/><stop offset="0.455" stop-color="#1f998a"/><stop offset="0.471" stop-color="#21908d"/><stop offset="0.486" stop-color="#25848e"/><stop offset="0.502" stop-color="#2a788e"/><stop offset="0.518" stop-color="#30698e"/><stop offset="0.533" stop-color="#3a548c"/><stop offset="0.549" stop-color="#433e85"/><stop offset="0.565" stop-color="#481c6e"/><stop offset="0.581" stop-color="#440154"/><stop offset="0.988" stop-color="#440154"/></linearGradient><linearGradient id="hA25"><stop offset="0.000" stop-color="#440154"/><stop offset="0.110" stop-color="#440154"/><stop offset="0.126" stop-color="#450559"/><stop offset="0.141" stop-color="#472d7b"/><stop offset="0.157" stop-color="#3d4d8a"/><stop offset="0.173" stop-color="#33638d"/><stop offset="0.188" stop-color="#2b758e"/><stop offset="0.204" stop-color="#26828e"/><stop offset="0.220" stop-color="#218f8d"/><stop offset="0.235" stop-color="#1f998a"/><stop offset="0.251" stop-color="#20a386"/><stop offset="0.267" stop-color="#27ad81"/><stop offset="0.282" stop-color="#44bf70"/><stop offset="0.298" stop-color="#73d056"/><stop offset="0.314" stop-color="#aadc32"/><stop offset="0.329" stop-color="#dfe318"/><stop offset="0.345" stop-color="#f4e61e"/><stop offset="0.361" stop-color="#c8e020"/><stop offset="0.377" stop-color="#93d741"/><stop offset="0.392" stop-color="#60ca60"/><stop offset="0.408" stop-color="#3aba76"/><stop offset="0.424" stop-color="#25ac82"/><stop offset="0.439" stop-color="#1fa287"/><stop offset="0.455" stop-color="#1f988b"/><stop offset="0.471" stop-color="#218f8d"/><stop offset="0.486" stop-color="#25838e"/><stop offset="0.502" stop-color="#2a778e"/><stop offset="0.518" stop-color="#31678e"/><stop offset="0.533" stop-color="#3a538b"/><stop offset="0.549" stop-color="#443a83"/><stop offset="0.565" stop-color="#481769"/><stop offset="0.581" stop-color="#440154"/><stop offset="0.988" stop-color="#440154"/></linearGradient><linearGradient id="hA26"><stop offset="0.000" stop-color="#440154"/><stop offset="0.110" stop-color="#440154"/><stop offset="0.126" stop-color="#440256"/><stop offset="0.141" stop-color="#472a7a"/><stop offset="0.157" stop-color="#3e4a89"/><stop offset="0.173" stop-color="#34618d"/><stop offset="0.188" stop-color="#2b748e"/><stop offset="0.204" stop-color="#26828e"/><stop offset="0.220" stop-color="#218f8d"/><stop offset="0.235" stop-color="#1f998a"/><stop offset="0.251" stop-color="#20a386"/><stop offset="0.267" stop-color="#28ae80"/><stop offset="0.282" stop-color="#44bf70"/><stop offset="0.298" stop-color="#73d056"/><stop offset="0.314" stop-color="#aadc32"/><stop offset="0.329" stop-color="#dfe318"/><stop offset="0.345" stop-color="#f4e61e"/><stop offset="0.361" stop-color="#c8e020"/><stop offset="0.377" stop-color="#93d741"/><stop offset="0.392" stop-color="#60ca60"/><stop offset="0.408" stop-color="#3aba76"/><stop offset="0.424" stop-color="#25ac82"/><stop offset="0.439" stop-color="#1fa287"/><stop offset="0.455" stop-color="#1f988b"/><stop offset="0.471" stop-color="#218f8d"/><stop offset="0.486" stop-color="#26828e"/><stop offset="0.502" stop-color="#2a768e"/><stop offset="0.518" stop-color="#32658e"/><stop offset="0.533" stop-color="#3b518b"/><stop offset="0.549" stop-color="#453781"/><stop offset="0.565" stop-color="#471365"/><stop offset="0.581" stop-color="#440154"/><stop offset="0.988" stop-color="#440154"/></linearGradient><linearGradient id="hA27"><stop offset="0.000" stop-color="#440154"/><stop offset="0.126" stop-color="#440154"/><stop offset="0.141" stop-color="#482878"/><stop offset="0.157" stop-color="#3e4989"/><stop offset="0.173" stop-color="#34608d"/><stop offset="0.188" stop-color="#2c738e"/><stop offset="0.204" stop-color="#26828e"/><stop offset="0.220" stop-color="#218f8d"/><stop offset="0.235" stop-color="#1f998a"/><stop offset="0.251" stop-color="#20a486"/><stop offset="0.267" stop-color="#28ae80"/><stop offset="0.282" stop-color="#46c06f"/><stop offset="0.298" stop-color="#73d056"/><stop offset="0.314" stop-color="#aadc32"/><stop offset="0.329" stop-color="#dfe318"/><stop offset="0.345" stop-color="#f4e61e"/><stop offset="0.361" stop-color="#c5e021"/><stop offset="0.377" stop-color="#93d741"/><stop offset="0.392" stop-color="#60ca60"/><stop offset="0.408" stop-color="#3aba76"/><stop offset="0.424" stop-color="#25ac82"/><stop offset="0.439" stop-color="#1fa187"/><stop offset="0.455" stop-color="#1f988b"/><stop offset="0.471" stop-color="#218e8d"/><stop offset="0.486" stop-color="#26828e"/><stop offset="0.502" stop-color="#2b758e"/><stop offset="0.518" stop-color="#33638d"/><stop offset="0.533" stop-color="#3c4f8a"/><stop offset="0.549" stop-color="#46337f"/><stop offset="0.565" stop-color="#470e61"/><stop offset="0.581" stop-color="#440154"/><stop offset="0.988" stop-color="#440154"/></linearGradient><linearGradient id="hA28"><stop offset="0.000" stop-color="#440154"/><stop offset="0.126" stop-color="#440154"/><stop offset="0.141" stop-color="#482576"/><stop offset="0.157" stop-color="#3f4889"/><stop offset="0.173" stop-color="#355f8d"/><stop offset="0.188" stop-color="#2c738e"/><stop offset="0.204" stop-color="#26828e"/><stop offset="0.220" stop-color="#218e8d"/><stop offset="0.235" stop-color="#1f998a"/><stop offset="0.251" stop-color="#20a486"/><stop offset="0.267" stop-color="#28ae80"/><stop offset="0.282" stop-color="#46c06f"/><stop offset="0.298" stop-color="#73d056"/><stop offset="0.314" stop-color="#aadc32"/><stop offset="0.329" stop-color="#dfe318"/><stop offset="0.345" stop-color="#f4e61e"/><stop offset="0.361" stop-color="#c5e021"/><stop offset="0.377" stop-color="#93d741"/><stop offset="0.392" stop-color="#60ca60"/><stop offset="0.408" stop-color="#3aba76"/><stop offset="0.424" stop-color="#25ac82"/><stop offset="0.439" stop-color="#1fa187"/><stop offset="0.455" stop-color="#1f978b"/><stop offset="0.471" stop-color="#228d8d"/><stop offset="0.486" stop-color="#26818e"/><stop offset="0.502" stop-color="#2c738e"/><stop offset="0.518" stop-color="#33628d"/><stop offset="0.533" stop-color="#3d4d8a"/><stop offset="0.549" stop-color="#472f7d"/><stop offset="0.565" stop-color="#460a5d"/><stop offset="0.581" stop-color="#440154"/><stop offset="0.988" stop-color="#440154"/></linearGradient><linearGradient id="hA29"><stop offset="0.000" stop-color="#440154"/><stop offset="0.126" stop-color="#440154"/><stop offset="0.141" stop-color="#482374"/><stop offset="0.157" stop-color="#404688"/><stop offset="0.173" stop-color="#355e8d"/><stop offset="0.188" stop-color="#2c728e"/><stop offset="0.204" stop-color="#26818e"/><stop offset="0.220" stop-color="#218e8d"/><stop offset="0.235" stop-color="#1f998a"/><stop offset="0.251" stop-color="#20a486"/><stop offset="0.267" stop-color="#29af7f"/><stop offset="0.282" stop-color="#46c06f"/><stop offset="0.298" stop-color="#75d054"/><stop offset="0.314" stop-color="#addc30"/><stop offset="0.329" stop-color="#e2e418"/><stop offset="0.345" stop-color="#f1e51d"/><stop offset="0.361" stop-color="#c5e021"/><stop offset="0.377" stop-color="#93d741"/><stop offset="0.392" stop-color="#60ca60"/><stop offset="0.408" stop-color="#3aba76"/><stop offset="0.424" stop-color="#25ac82"/><stop offset="0.439" stop-color="#1fa187"/><stop offset="0.455" stop-color="#1f978b"/><stop offset="0.471" stop-color="#228d8d"/><stop offset="0.486" stop-color="#27808e"/><stop offset="0.502" stop-color="#2c728e"/><stop offset="0.518" stop-color="#34608d"/><stop offset="0.533" stop-color="#3e4a89"/><stop offset="0.549" stop-color="#472c7a"/><stop offset="0.565" stop-color="#450457"/><stop offset="0.581" stop-color="#440154"/><stop offset="0.988" stop-color="#440154"/></linearGradient><linearGradient id="hA30"><stop offset="0.000" stop-color="#440154"/><stop offset="0.126" stop-color="#440154"/><stop offset="0.141" stop-color="#482071"/><stop offset="0.157" stop-color="#404588"/><stop offset="0.173" stop-color="#365d8d"/><stop offset="0.188" stop-color="#2c718e"/><stop offset="0.204" stop-color="#27808e"/><stop offset="0.220" stop-color="#218e8d"/><stop offset="0.235" stop-color="#1f998a"/><stop offset="0.251" stop-color="#20a486"/><stop offset="0.267" stop-color="#29af7f"/><stop offset="0.282" stop-color="#46c06f"/><stop offset="0.298" stop-color="#75d054"/><stop offset="0.314" stop-color="#addc30"/><stop offset="0.329" stop-color="#e2e418"/><stop offset="0.345" stop-color="#f1e51d"/><stop offset="0.361" stop-color="#c5e021"/><stop offset="0.377" stop-color="#93d741"/><stop offset="0.392" stop-color="#60ca60"/><stop offset="0.408" stop-color="#38b977"/><stop offset="0.424" stop-color="#25ac82"/><stop offset="0.439" stop-color="#1fa187"/><stop offset="0.455" stop-color="#1f978b"/><stop offset="0.471" stop-color="#228c8d"/><stop offset="0.486" stop-color="#277f8e"/><stop offset="0.502" stop-color="#2c718e"/><stop offset="0.518" stop-color="#355e8d"/><stop offset="0.533" stop-color="#3f4889"/><stop offset="0.549" stop-color="#482677"/><stop offset="0.565" stop-color="#440154"/><stop offset="0.988" stop-color="#440154"/></linearGradient><linearGradient id="hA31"><stop offset="0.000" stop-color="#440154"/><stop offset="0.126" stop-color="#440154"/><stop offset="0.141" stop-color="#481d6f"/><stop offset="0.157" stop-color="#414287"/><stop offset="0.173" stop-color="#375b8d"/><stop offset="0.188" stop-color="#2d718e"/><stop offset="0.204" stop-color="#27808e"/><stop offset="0.220" stop-color="#228d8d"/><stop offset="0.235" stop-color="#1f998a"/><stop offset="0.251" stop-color="#20a486"/><stop offset="0.267" stop-color="#2ab07f"/><stop offset="0.282" stop-color="#48c16e"/><stop offset="0.298" stop-color="#75d054"/><stop offset="0.314" stop-color="#addc30"/><stop offset="0.329" stop-color="#e2e418"/><stop offset="0.345" stop-color="#f1e51d"/><stop offset="0.361" stop-color="#c5e021"/><stop offset="0.377" stop-color="#93d741"/><stop offset="0.392" stop-color="#60ca60"/><stop offset="0.408" stop-color="#38b977"/><stop offset="0.424" stop-color="#26ad81"/><stop offset="0.439" stop-color="#1fa187"/><stop offset="0.455" stop-color="#1f968b"/><stop offset="0.471" stop-color="#228b8d"/><stop offset="0.486" stop-color="#277e8e"/><stop offset="0.502" stop-color="#2d708e"/><stop offset="0.518" stop-color="#365c8d"/><stop offset="0.533" stop-color="#404588"/><stop offset="0.549" stop-color="#482374"/><stop offset="0.565" stop-color="#440154"/><stop offset="0.988" stop-color="#440154"/></linearGradient><linearGradient id="hA32"><stop offset="0.000" stop-color="#440154"/><stop offset="0.126" stop-color="#440154"/><stop offset="0.141" stop-color="#481a6c"/><stop offset="0.157" stop-color="#424186"/><stop offset="0.173" stop-color="#375a8c"/><stop offset="0.188" stop-color="#2d708e"/><stop offset="0.204" stop-color="#277f8e"/><stop offset="0.220" stop-color="#228d8d"/><stop offset="0.235" stop-color="#1f998a"/><stop offset="0.251" stop-color="#20a486"/><stop offset="0.267" stop-color="#2ab07f"/><stop offset="0.282" stop-color="#48c16e"/><stop offset="0.298" stop-color="#75d054"/><stop offset="0.314" stop-color="#addc30"/><stop offset="0.329" stop-color="#e2e418"/><stop offset="0.345" stop-color="#f1e51d"/><stop offset="0.361" stop-color="#c5e021"/><stop offset="0.377" stop-color="#90d743"/><stop offset="0.392" stop-color="#5ec962"/><stop offset="0.408" stop-color="#38b977"/><stop offset="0.424" stop-color="#26ad81"/><stop offset="0.439" stop-color="#1fa187"/><stop offset="0.455" stop-color="#1f968b"/><stop offset="0.471" stop-color="#238a8d"/><stop offset="0.486" stop-color="#287d8e"/><stop offset="0.502" stop-color="#2e6e8e"/><stop offset="0.518" stop-color="#375a8c"/><stop offset="0.533" stop-color="#414287"/><stop offset="0.549" stop-color="#481f70"/><stop offset="0.565" stop-color="#440154"/><stop offset="0.988" stop-color="#440154"/></linearGradient><linearGradient id="hA33"><stop offset="0.000" stop-color="#440154"/><stop offset="0.126" stop-color="#440154"/><stop offset="0.141" stop-color="#481769"/><stop offset="0.157" stop-color="#423f85"/><stop offset="0.173" stop-color="#38598c"/><stop offset="0.188" stop-color="#2e6e8e"/><stop offset="0.204" stop-color="#277e8e"/><stop offset="0.220" stop-color="#228d8d"/><stop offset="0.235" stop-color="#1f998a"/><stop offset="0.251" stop-color="#21a585"/><stop offset="0.267" stop-color="#2ab07f"/><stop offset="0.282" stop-color="#48c16e"/><stop offset="0.298" stop-color="#77d153"/><stop offset="0.314" stop-color="#b0dd2f"/><stop offset="0.329" stop-color="#e2e418"/><stop offset="0.345" stop-color="#f1e51d"/><stop offset="0.361" stop-color="#c5e021"/><stop offset="0.377" stop-color="#90d743"/><stop offset="0.392" stop-color="#5ec962"/><stop offset="0.408" stop-color="#38b977"/><stop offset="0.424" stop-color="#26ad81"/><stop offset="0.439" stop-color="#1fa188"/><stop offset="0.455" stop-color="#1f958b"/><stop offset="0.471" stop-color="#238a8d"/><stop offset="0.486" stop-color="#287c8e"/><stop offset="0.502" stop-color="#2f6c8e"/><stop offset="0.518" stop-color="#38588c"/><stop offset="0.533" stop-color="#423f85"/><stop offset="0.549" stop-color="#481a6c"/><stop offset="0.565" stop-color="#440154"/><stop offset="0.988" stop-color="#440154"/></linearGradient><linearGradient id="hA34"><stop offset="0.000" stop-color="#440154"/><stop offset="0.126" stop-color="#440154"/><stop offset="0.141" stop-color="#481467"/><stop offset="0.157" stop-color="#433d84"/><stop offset="0.173" stop-color="#38588c"/><stop offset="0.188" stop-color="#2e6d8e"/><stop offset="0.204" stop-color="#277e8e"/><stop offset="0.220" stop-color="#228c8d"/><stop offset="0.235" stop-color="#1f998a"/><stop offset="0.251" stop-color="#21a585"/><stop offset="0.267" stop-color="#2cb17e"/><stop offset="0.282" stop-color="#48c16e"/><stop offset="0.298" stop-color="#77d153"/><stop offset="0.314" stop-color="#b0dd2f"/><stop offset="0.329" stop-color="#e2e418"/><stop offset="0.345" stop-color="#f1e51d"/><stop offset="0.361" stop-color="#c5e021"/><stop offset="0.377" stop-color="#90d743"/><stop offset="0.392" stop-color="#5ec962"/><stop offset="0.408" stop-color="#38b977"/><stop offset="0.424" stop-color="#26ad81"/><stop offset="0.439" stop-color="#1fa188"/><stop offset="0.455" stop-color="#1f958b"/><stop offset="0.471" stop-color="#23898e"/><stop offset="0.486" stop-color="#297b8e"/><stop offset="0.502" stop-color="#306a8e"/><stop offset="0.518" stop-color="#39558c"/><stop offset="0.533" stop-color="#443b84"/><stop offset="0.549" stop-color="#481668"/><stop offset="0.565" stop-color="#440154"/><stop offset="0.988" stop-color="#440154"/></linearGradient><linearGradient id="hA35"><stop offset="0.000" stop-color="#440154"/><stop offset="0.126" stop-color="#440154"/><stop offset="0.141" stop-color="#471063"/><stop offset="0.157" stop-color="#443a83"/><stop offset="0.173" stop-color="#39558c"/><stop offset="0.188" stop-color="#2f6c8e"/><stop offset="0.204" stop-color="#287d8e"/><stop offset="0.220" stop-color="#228c8d"/><stop offset="0.235" stop-color="#1f988b"/><stop offset="0.251" stop-color="#21a585"/><stop offset="0.267" stop-color="#2cb17e"/><stop offset="0.282" stop-color="#4ac16d"/><stop offset="0.298" stop-color="#77d153"/><stop offset="0.314" stop-color="#b0dd2f"/><stop offset="0.329" stop-color="#e2e418"/><stop offset="0.345" stop-color="#f1e51d"/><stop offset="0.361" stop-color="#c5e021"/><stop offset="0.377" stop-color="#90d743"/><stop offset="0.392" stop-color="#5ec962"/><stop offset="0.408" stop-color="#37b878"/><stop offset="0.424" stop-color="#25ac82"/><stop offset="0.439" stop-color="#1fa188"/><stop offset="0.455" stop-color="#1f948c"/><stop offset="0.471" stop-color="#23888e"/><stop offset="0.486" stop-color="#297a8e"/><stop offset="0.502" stop-color="#30698e"/><stop offset="0.518" stop-color="#3a538b"/><stop offset="0.533" stop-color="#453882"/><stop offset="0.549" stop-color="#471063"/><stop offset="0.565" stop-color="#440154"/><stop offset="0.988" stop-color="#440154"/></linearGradient><linearGradient id="hA36"><stop offset="0.000" stop-color="#440154"/><stop offset="0.126" stop-color="#440154"/><stop offset="0.141" stop-color="#470d60"/><stop offset="0.157" stop-color="#453882"/><stop offset="0.173" stop-color="#3a548c"/><stop offset="0.188" stop-color="#2f6b8e"/><stop offset="0.204" stop-color="#287c8e"/><stop offset="0.220" stop-color="#228b8d"/><stop offset="0.235" stop-color="#1f988b"/><stop offset="0.251" stop-color="#21a585"/><stop offset="0.267" stop-color="#2cb17e"/><stop offset="0.282" stop-color="#4ac16d"/><stop offset="0.298" stop-color="#7ad151"/><stop offset="0.314" stop-color="#b0dd2f"/><stop offset="0.329" stop-color="#e2e418"/><stop offset="0.345" stop-color="#f1e51d"/><stop offset="0.361" stop-color="#c2df23"/><stop offset="0.377" stop-color="#90d743"/><stop offset="0.392" stop-color="#5ec962"/><stop offset="0.408" stop-color="#37b878"/><stop offset="0.424" stop-color="#25ac82"/><stop offset="0.439" stop-color="#1fa088"/><stop offset="0.455" stop-color="#1f948c"/><stop offset="0.471" stop-color="#24878e"/><stop offset="0.486" stop-color="#2a788e"/><stop offset="0.502" stop-color="#31678e"/><stop offset="0.518" stop-color="#3b518b"/><stop offset="0.533" stop-color="#46337f"/><stop offset="0.549" stop-color="#460a5d"/><stop offset="0.565" stop-color="#440154"/><stop offset="0.988" stop-color="#440154"/></linearGradient><linearGradient id="hA37"><stop offset="0.000" stop-color="#440154"/><stop offset="0.126" stop-color="#440154"/><stop offset="0.141" stop-color="#46085c"/><stop offset="0.157" stop-color="#463480"/><stop offset="0.173" stop-color="#3a538b"/><stop offset="0.188" stop-color="#306a8e"/><stop offset="0.204" stop-color="#287c8e"/><stop offset="0.220" stop-color="#228b8d"/><stop offset="0.235" stop-color="#1f988b"/><stop offset="0.251" stop-color="#21a585"/><stop offset="0.267" stop-color="#2db27d"/><stop offset="0.282" stop-color="#4ac16d"/><stop offset="0.298" stop-color="#7ad151"/><stop offset="0.314" stop-color="#b0dd2f"/><stop offset="0.329" stop-color="#e5e419"/><stop offset="0.345" stop-color="#f1e51d"/><stop offset="0.361" stop-color="#c2df23"/><stop offset="0.377" stop-color="#90d743"/><stop offset="0.392" stop-color="#5ec962"/><stop offset="0.408" stop-color="#37b878"/><stop offset="0.424" stop-color="#25ac82"/><stop offset="0.439" stop-color="#1fa088"/><stop offset="0.455" stop-color="#20938c"/><stop offset="0.471" stop-color="#24868e"/><stop offset="0.486" stop-color="#2a778e"/><stop offset="0.502" stop-color="#32658e"/><stop offset="0.518" stop-color="#3c4f8a"/><stop offset="0.533" stop-color="#472f7d"/><stop offset="0.549" stop-color="#450457"/><stop offset="0.565" stop-color="#440154"/><stop offset="0.988" stop-color="#440154"/></linearGradient><linearGradient id="hA38"><stop offset="0.000" stop-color="#440154"/><stop offset="0.126" stop-color="#440154"/><stop offset="0.141" stop-color="#450559"/><stop offset="0.157" stop-color="#46327e"/><stop offset="0.173" stop-color="#3b528b"/><stop offset="0.188" stop-color="#31688e"/><stop offset="0.204" stop-color="#297b8e"/><stop offset="0.220" stop-color="#238a8d"/><stop offset="0.235" stop-color="#1f988b"/><stop offset="0.251" stop-color="#21a585"/><stop offset="0.267" stop-color="#2db27d"/><stop offset="0.282" stop-color="#4ac16d"/><stop offset="0.298" stop-color="#7ad151"/><stop offset="0.314" stop-color="#b2dd2d"/><stop offset="0.329" stop-color="#e5e419"/><stop offset="0.345" stop-color="#f1e51d"/><stop offset="0.361" stop-color="#c2df23"/><stop offset="0.377" stop-color="#90d743"/><stop offset="0.392" stop-color="#5ec962"/><stop offset="0.408" stop-color="#37b878"/><stop offset="0.424" stop-color="#25ac82"/><stop offset="0.439" stop-color="#1fa088"/><stop offset="0.455" stop-color="#20928c"/><stop offset="0.471" stop-color="#25858e"/><stop offset="0.486" stop-color="#2a768e"/><stop offset="0.502" stop-color="#33638d"/><stop offset="0.518" stop-color="#3d4d8a"/><stop offset="0.533" stop-color="#472a7a"/><stop offset="0.549" stop-color="#440154"/><stop offset="0.988" stop-color="#440154"/></linearGradient><linearGradient id="hA39"><stop offset="0.000" stop-color="#440154"/><stop offset="0.141" stop-color="#440154"/><stop offset="0.157" stop-color="#472f7d"/><stop offset="0.173" stop-color="#3c508b"/><stop offset="0.188" stop-color="#31678e"/><stop offset="0.204" stop-color="#297a8e"/><stop offset="0.220" stop-color="#238a8d"/><stop offset="0.235" stop-color="#1f988b"/><stop offset="0.251" stop-color="#21a585"/><stop offset="0.267" stop-color="#2db27d"/><stop offset="0.282" stop-color="#4cc26c"/><stop offset="0.298" stop-color="#7ad151"/><stop offset="0.314" stop-color="#b2dd2d"/><stop offset="0.329" stop-color="#e5e419"/><stop offset="0.345" stop-color="#f1e51d"/><stop offset="0.361" stop-color="#c2df23"/><stop offset="0.377" stop-color="#90d743"/><stop offset="0.392" stop-color="#5cc863"/><stop offset="0.408" stop-color="#37b878"/><stop offset="0.424" stop-color="#25ac82"/><stop offset="0.439" stop-color="#1f9f88"/><stop offset="0.455" stop-color="#20928c"/><stop offset="0.471" stop-color="#25838e"/><stop offset="0.486" stop-color="#2b748e"/><stop offset="0.502" stop-color="#34618d"/><stop offset="0.518" stop-color="#3e4a89"/><stop offset="0.533" stop-color="#482677"/><stop offset="0.549" stop-color="#440154"/><stop offset="0.988" stop-color="#440154"/></linearGradient><linearGradient id="hA40"><stop offset="0.000" stop-color="#440154"/><stop offset="0.141" stop-color="#440154"/><stop offset="0.157" stop-color="#472c7a"/><stop offset="0.173" stop-color="#3c4f8a"/><stop offset="0.188" stop-color="#31668e"/><stop offset="0.204" stop-color="#29798e"/><stop offset="0.220" stop-color="#23898e"/><stop offset="0.235" stop-color="#1f978b"/><stop offset="0.251" stop-color="#21a585"/><stop offset="0.267" stop-color="#2eb37c"/><stop offset="0.282" stop-color="#4cc26c"/><stop offset="0.298" stop-color="#7cd250"/><stop offset="0.314" stop-color="#b2dd2d"/><stop offset="0.329" stop-color="#e5e419"/><stop offset="0.345" stop-color="#efe51c"/><stop offset="0.361" stop-color="#c2df23"/><stop offset="0.377" stop-color="#8ed645"/><stop offset="0.392" stop-color="#5cc863"/><stop offset="0.408" stop-color="#37b878"/><stop offset="0.424" stop-color="#25ac82"/><stop offset="0.439" stop-color="#1f9f88"/><stop offset="0.455" stop-color="#20928c"/><stop offset="0.471" stop-color="#26828e"/><stop offset="0.486" stop-color="#2c738e"/><stop offset="0.502" stop-color="#355f8d"/><stop offset="0.518" stop-color="#3f4788"/><stop offset="0.533" stop-color="#482173"/><stop offset="0.549" stop-color="#440154"/><stop offset="0.988" stop-color="#440154"/></linearGradient><linearGradient id="hA41"><stop offset="0.000" stop-color="#440154"/><stop offset="0.141" stop-color="#440154"/><stop offset="0.157" stop-color="#482979"/><stop offset="0.173" stop-color="#3d4e8a"/><stop offset="0.188" stop-color="#32658e"/><stop offset="0.204" stop-color="#2a788e"/><stop offset="0.220" stop-color="#23898e"/><stop offset="0.235" stop-color="#1f978b"/><stop offset="0.251" stop-color="#21a585"/><stop offset="0.267" stop-color="#2eb37c"/><stop offset="0.282" stop-color="#4cc26c"/><stop offset="0.298" stop-color="#7cd250"/><stop offset="0.314" stop-color="#b2dd2d"/><stop offset="0.329" stop-color="#e5e419"/><stop offset="0.345" stop-color="#efe51c"/><stop offset="0.361" stop-color="#c2df23"/><stop offset="0.377" stop-color="#8ed645"/><stop offset="0.392" stop-color="#5cc863"/><stop offset="0.408" stop-color="#37b878"/><stop offset="0.424" stop-color="#25ac82"/><stop offset="0.439" stop-color="#1f9e89"/><stop offset="0.455" stop-color="#21918c"/><stop offset="0.471" stop-color="#26828e"/><stop offset="0.486" stop-color="#2c718e"/><stop offset="0.502" stop-color="#365d8d"/><stop offset="0.518" stop-color="#404588"/><stop offset="0.533" stop-color="#481c6e"/><stop offset="0.549" stop-color="#440154"/><stop offset="0.988" stop-color="#440154"/></linearGradient><linearGradient id="hA42"><stop offset="0.000" stop-color="#440154"/><stop offset="0.141" stop-color="#440154"/><stop offset="0.157" stop-color="#482677"/><stop offset="0.173" stop-color="#3e4c8a"/><stop offset="0.188" stop-color="#32648e"/><stop offset="0.204" stop-color="#2a778e"/><stop offset="0.220" stop-color="#23888e"/><stop offset="0.235" stop-color="#1f978b"/><stop offset="0.251" stop-color="#21a585"/><stop offset="0.267" stop-color="#2eb37c"/><stop offset="0.282" stop-color="#4cc26c"/><stop offset="0.298" stop-color="#7cd250"/><stop offset="0.314" stop-color="#b5de2b"/><stop offset="0.329" stop-color="#e5e419"/><stop offset="0.345" stop-color="#efe51c"/><stop offset="0.361" stop-color="#c2df23"/><stop offset="0.377" stop-color="#8ed645"/><stop offset="0.392" stop-color="#5cc863"/><stop offset="0.408" stop-color="#37b878"/><stop offset="0.424" stop-color="#25ab82"/><stop offset="0.439" stop-color="#1f9e89"/><stop offset="0.455" stop-color="#21908d"/><stop offset="0.471" stop-color="#26818e"/><stop offset="0.486" stop-color="#2d708e"/><stop offset="0.502" stop-color="#375b8d"/><stop offset="0.518" stop-color="#424186"/><stop offset="0.533" stop-color="#481769"/><stop offset="0.549" stop-color="#440154"/><stop offset="0.988" stop-color="#440154"/></linearGradient><linearGradient id="hA43"><stop offset="0.000" stop-color="#440154"/><stop offset="0.141" stop-color="#440154"/><stop offset="0.157" stop-color="#482374"/><stop offset="0.173" stop-color="#3e4a89"/><stop offset="0.188" stop-color="#33628d"/><stop offset="0.204" stop-color="#2a778e"/><stop offset="0.220" stop-color="#24878e"/><stop offset="0.235" stop-color="#1f978b"/><stop offset="0.251" stop-color="#21a585"/><stop offset="0.267" stop-color="#2eb37c"/><stop offset="0.282" stop-color="#4ec36b"/><stop offset="0.298" stop-color="#7cd250"/><stop offset="0.314" stop-color="#b5de2b"/><stop offset="0.329" stop-color="#e5e419"/><stop offset="0.345" stop-color="#efe51c"/><stop offset="0.361" stop-color="#c2df23"/><stop offset="0.377" stop-color="#8ed645"/><stop offset="0.392" stop-color="#5cc863"/><stop offset="0.408" stop-color="#37b878"/><stop offset="0.424" stop-color="#25ab82"/><stop offset="0.439" stop-color="#1e9d89"/><stop offset="0.455" stop-color="#218f8d"/><stop offset="0.471" stop-color="#27808e"/><stop offset="0.486" stop-color="#2e6e8e"/><stop offset="0.502" stop-color="#38598c"/><stop offset="0.518" stop-color="#433d84"/><stop offset="0.533" stop-color="#471164"/><stop offset="0.549" stop-color="#440154"/><stop offset="0.988" stop-color="#440154"/></linearGradient><linearGradient id="hA44"><stop offset="0.000" stop-color="#440154"/><stop offset="0.141" stop-color="#440154"/><stop offset="0.157" stop-color="#482071"/><stop offset="0.173" stop-color="#3f4889"/><stop offset="0.188" stop-color="#34618d"/><stop offset="0.204" stop-color="#2a768e"/><stop offset="0.220" stop-color="#24878e"/><stop offset="0.235" stop-color="#1f968b"/><stop offset="0.251" stop-color="#21a585"/><stop offset="0.267" stop-color="#2eb37c"/><stop offset="0.282" stop-color="#4ec36b"/><stop offset="0.298" stop-color="#7fd34e"/><stop offset="0.314" stop-color="#b5de2b"/><stop offset="0.329" stop-color="#e5e419"/><stop offset="0.345" stop-color="#efe51c"/><stop offset="0.361" stop-color="#c2df23"/><stop offset="0.377" stop-color="#8ed645"/><stop offset="0.392" stop-color="#5cc863"/><stop offset="0.408" stop-color="#37b878"/><stop offset="0.424" stop-color="#25ab82"/><stop offset="0.439" stop-color="#1e9c89"/><stop offset="0.455" stop-color="#218e8d"/><stop offset="0.471" stop-color="#277e8e"/><stop offset="0.486" stop-color="#2f6c8e"/><stop offset="0.502" stop-color="#39558c"/><stop offset="0.518" stop-color="#443983"/><stop offset="0.533" stop-color="#460b5e"/><stop offset="0.549" stop-color="#440154"/><stop offset="0.988" stop-color="#440154"/></linearGradient><linearGradient id="hA45"><stop offset="0.000" stop-color="#440154"/><stop offset="0.141" stop-color="#440154"/><stop offset="0.157" stop-color="#481c6e"/><stop offset="0.173" stop-color="#3f4788"/><stop offset="0.188" stop-color="#34608d"/><stop offset="0.204" stop-color="#2b758e"/><stop offset="0.220" stop-color="#24868e"/><stop offset="0.235" stop-color="#1f968b"/><stop offset="0.251" stop-color="#21a585"/><stop offset="0.267" stop-color="#2fb47c"/><stop offset="0.282" stop-color="#4ec36b"/><stop offset="0.298" stop-color="#7fd34e"/><stop offset="0.314" stop-color="#b5de2b"/><stop offset="0.329" stop-color="#e7e419"/><stop offset="0.345" stop-color="#efe51c"/><stop offset="0.361" stop-color="#c2df23"/><stop offset="0.377" stop-color="#8ed645"/><stop offset="0.392" stop-color="#5ac864"/><stop offset="0.408" stop-color="#37b878"/><stop offset="0.424" stop-color="#24aa83"/><stop offset="0.439" stop-color="#1e9c89"/><stop offset="0.455" stop-color="#228d8d"/><stop offset="0.471" stop-color="#287d8e"/><stop offset="0.486" stop-color="#306a8e"/><stop offset="0.502" stop-color="#3a538b"/><stop offset="0.518" stop-color="#463480"/><stop offset="0.533" stop-color="#450559"/><stop offset="0.549" stop-color="#440154"/><stop offset="0.988" stop-color="#440154"/></linearGradient><linearGradient id="hA46"><stop offset="0.000" stop-color="#440154"/><stop offset="0.141" stop-color="#440154"/><stop offset="0.157" stop-color="#48186a"/><stop offset="0.173" stop-color="#404588"/><stop offset="0.188" stop-color="#355e8d"/><stop offset="0.204" stop-color="#2b748e"/><stop offset="0.220" stop-color="#25858e"/><stop offset="0.235" stop-color="#1f958b"/><stop offset="0.251" stop-color="#21a585"/><stop offset="0.267" stop-color="#2fb47c"/><stop offset="0.282" stop-color="#4ec36b"/><stop offset="0.298" stop-color="#7fd34e"/><stop offset="0.314" stop-color="#b8de29"/><stop offset="0.329" stop-color="#e7e419"/><stop offset="0.345" stop-color="#efe51c"/><stop offset="0.361" stop-color="#c2df23"/><stop offset="0.377" stop-color="#8ed645"/><stop offset="0.392" stop-color="#5ac864"/><stop offset="0.408" stop-color="#37b878"/><stop offset="0.424" stop-color="#24aa83"/><stop offset="0.439" stop-color="#1e9b8a"/><stop offset="0.455" stop-color="#228c8d"/><stop offset="0.471" stop-color="#297b8e"/><stop offset="0.486" stop-color="#31688e"/><stop offset="0.502" stop-color="#3b518b"/><stop offset="0.518" stop-color="#472f7d"/><stop offset="0.533" stop-color="#440154"/><stop offset="0.988" stop-color="#440154"/></linearGradient><linearGradient id="hA47"><stop offset="0.000" stop-color="#440154"/><stop offset="0.141" stop-color="#440154"/><stop offset="0.157" stop-color="#481668"/><stop offset="0.173" stop-color="#414287"/><stop offset="0.188" stop-color="#365d8d"/><stop offset="0.204" stop-color="#2c738e"/><stop offset="0.220" stop-color="#25858e"/><stop offset="0.235" stop-color="#1f958b"/><stop offset="0.251" stop-color="#21a585"/><stop offset="0.267" stop-color="#2fb47c"/><stop offset="0.282" stop-color="#50c46a"/><stop offset="0.298" stop-color="#81d34d"/><stop offset="0.314" stop-color="#b8de29"/><stop offset="0.329" stop-color="#e7e419"/><stop offset="0.345" stop-color="#efe51c"/><stop offset="0.361" stop-color="#c2df23"/><stop offset="0.377" stop-color="#8bd646"/><stop offset="0.392" stop-color="#5ac864"/><stop offset="0.408" stop-color="#35b779"/><stop offset="0.424" stop-color="#23a983"/><stop offset="0.439" stop-color="#1f9a8a"/><stop offset="0.455" stop-color="#228b8d"/><stop offset="0.471" stop-color="#297a8e"/><stop offset="0.486" stop-color="#31668e"/><stop offset="0.502" stop-color="#3c4f8a"/><stop offset="0.518" stop-color="#472a7a"/><stop offset="0.533" stop-color="#440154"/><stop offset="0.988" stop-color="#440154"/></linearGradient><linearGradient id="hA48"><stop offset="0.000" stop-color="#440154"/><stop offset="0.141" stop-color="#440154"/><stop offset="0.157" stop-color="#471164"/><stop offset="0.173" stop-color="#424086"/><stop offset="0.188" stop-color="#365c8d"/><stop offset="0.204" stop-color="#2c728e"/><stop offset="0.220" stop-color="#25848e"/><stop offset="0.235" stop-color="#1f958b"/><stop offset="0.251" stop-color="#20a486"/><stop offset="0.267" stop-color="#2fb47c"/><stop offset="0.282" stop-color="#50c46a"/><stop offset="0.298" stop-color="#81d34d"/><stop offset="0.314" stop-color="#b8de29"/><stop offset="0.329" stop-color="#e7e419"/><stop offset="0.345" stop-color="#efe51c"/><stop offset="0.361" stop-color="#c0df25"/><stop offset="0.377" stop-color="#8bd646"/><stop offset="0.392" stop-color="#5ac864"/><stop offset="0.408" stop-color="#35b779"/><stop offset="0.424" stop-color="#23a983"/><stop offset="0.439" stop-color="#1f9a8a"/><stop offset="0.455" stop-color="#238a8d"/><stop offset="0.471" stop-color="#2a788e"/><stop offset="0.486" stop-color="#32648e"/><stop offset="0.502" stop-color="#3d4d8a"/><stop offset="0.518" stop-color="#482576"/><stop offset="0.533" stop-color="#440154"/><stop offset="0.988" stop-color="#440154"/></linearGradient><linearGradient id="hA49"><stop offset="0.000" stop-color="#440154"/><stop offset="0.141" stop-color="#440154"/><stop offset="0.157" stop-color="#470d60"/><stop offset="0.173" stop-color="#433d84"/><stop offset="0.188" stop-color="#375a8c"/><stop offset="0.204" stop-color="#2d718e"/><stop offset="0.220" stop-color="#25838e"/><stop offset="0.235" stop-color="#1f948c"/><stop offset="0.251" stop-color="#20a486"/><stop offset="0.267" stop-color="#2fb47c"/><stop offset="0.282" stop-color="#50c46a"/><stop offset="0.298" stop-color="#81d34d"/><stop offset="0.314" stop-color="#b8de29"/><stop offset="0.329" stop-color="#e7e419"/><stop offset="0.345" stop-color="#efe51c"/><stop offset="0.361" stop-color="#c0df25"/><stop offset="0.377" stop-color="#8bd646"/><stop offset="0.392" stop-color="#5ac864"/><stop offset="0.408" stop-color="#35b779"/><stop offset="0.424" stop-color="#22a884"/><stop offset="0.439" stop-color="#1f998a"/><stop offset="0.455" stop-color="#23888e"/><stop offset="0.471" stop-color="#2a778e"/><stop offset="0.486" stop-color="#33628d"/><stop offset="0.502" stop-color="#3e4989"/><stop offset="0.518" stop-color="#481f70"/><stop offset="0.533" stop-color="#440154"/><stop offset="0.988" stop-color="#440154"/></linearGradient><linearGradient id="hA50"><stop offset="0.000" stop-color="#440154"/><stop offset="0.141" stop-color="#440154"/><stop offset="0.157" stop-color="#46085c"/><stop offset="0.173" stop-color="#443a83"/><stop offset="0.188" stop-color="#38598c"/><stop offset="0.204" stop-color="#2d708e"/><stop offset="0.220" stop-color="#26828e"/><stop offset="0.235" stop-color="#1f948c"/><stop offset="0.251" stop-color="#20a486"/><stop offset="0.267" stop-color="#2fb47c"/><stop offset="0.282" stop-color="#50c46a"/><stop offset="0.298" stop-color="#81d34d"/><stop offset="0.314" stop-color="#bade28"/><stop offset="0.329" stop-color="#e7e419"/><stop offset="0.345" stop-color="#ece51b"/><stop offset="0.361" stop-color="#c0df25"/><stop offset="0.377" stop-color="#8bd646"/><stop offset="0.392" stop-color="#58c765"/><stop offset="0.408" stop-color="#35b779"/><stop offset="0.424" stop-color="#22a884"/><stop offset="0.439" stop-color="#1f988b"/><stop offset="0.455" stop-color="#24878e"/><stop offset="0.471" stop-color="#2b758e"/><stop offset="0.486" stop-color="#34608d"/><stop offset="0.502" stop-color="#3f4788"/><stop offset="0.518" stop-color="#481a6c"/><stop offset="0.533" stop-color="#440154"/><stop offset="0.988" stop-color="#440154"/></linearGradient><linearGradient id="hA51"><stop offset="0.000" stop-color="#440154"/><stop offset="0.141" stop-color="#440154"/><stop offset="0.157" stop-color="#450457"/><stop offset="0.173" stop-color="#453781"/><stop offset="0.188" stop-color="#38588c"/><stop offset="0.204" stop-color="#2e6f8e"/><stop offset="0.220" stop-color="#26828e"/><stop offset="0.235" stop-color="#20938c"/><stop offset="0.251" stop-color="#20a486"/><stop offset="0.267" stop-color="#31b57b"/><stop offset="0.282" stop-color="#50c46a"/><stop offset="0.298" stop-color="#84d44b"/><stop offset="0.314" stop-color="#bade28"/><stop offset="0.329" stop-color="#e7e419"/><stop offset="0.345" stop-color="#ece51b"/><stop offset="0.361" stop-color="#c0df25"/><stop offset="0.377" stop-color="#8bd646"/><stop offset="0.392" stop-color="#58c765"/><stop offset="0.408" stop-color="#35b779"/><stop offset="0.424" stop-color="#22a785"/><stop offset="0.439" stop-color="#1f978b"/><stop offset="0.455" stop-color="#24868e"/><stop offset="0.471" stop-color="#2c738e"/><stop offset="0.486" stop-color="#355e8d"/><stop offset="0.502" stop-color="#414287"/><stop offset="0.518" stop-color="#481467"/><stop offset="0.533" stop-color="#440154"/><stop offset="0.988" stop-color="#440154"/></linearGradient><linearGradient id="hA52"><stop offset="0.000" stop-color="#440154"/><stop offset="0.157" stop-color="#440154"/><stop offset="0.173" stop-color="#463480"/><stop offset="0.188" stop-color="#39558c"/><stop offset="0.204" stop-color="#2e6e8e"/><stop offset="0.220" stop-color="#26828e"/><stop offset="0.235" stop-color="#20938c"/><stop offset="0.251" stop-color="#20a486"/><stop offset="0.267" stop-color="#31b57b"/><stop offset="0.282" stop-color="#52c569"/><stop offset="0.298" stop-color="#84d44b"/><stop offset="0.314" stop-color="#bade28"/><stop offset="0.329" stop-color="#eae51a"/><stop offset="0.345" stop-color="#ece51b"/><stop offset="0.361" stop-color="#c0df25"/><stop offset="0.377" stop-color="#8bd646"/><stop offset="0.392" stop-color="#58c765"/><stop offset="0.408" stop-color="#34b679"/><stop offset="0.424" stop-color="#22a785"/><stop offset="0.439" stop-color="#1f968b"/><stop offset="0.455" stop-color="#25848e"/><stop offset="0.471" stop-color="#2c718e"/><stop offset="0.486" stop-color="#375b8d"/><stop offset="0.502" stop-color="#433e85"/><stop offset="0.518" stop-color="#470d60"/><stop offset="0.533" stop-color="#440154"/><stop offset="0.988" stop-color="#440154"/></linearGradient><linearGradient id="hA53"><stop offset="0.000" stop-color="#440154"/><stop offset="0.157" stop-color="#440154"/><stop offset="0.173" stop-color="#46307e"/><stop offset="0.188" stop-color="#3a548c"/><stop offset="0.204" stop-color="#2f6c8e"/><stop offset="0.220" stop-color="#26818e"/><stop offset="0.235" stop-color="#20928c"/><stop offset="0.251" stop-color="#20a386"/><stop offset="0.267" stop-color="#31b57b"/><stop offset="0.282" stop-color="#52c569"/><stop offset="0.298" stop-color="#84d44b"/><stop offset="0.314" stop-color="#bade28"/><stop offset="0.329" stop-color="#eae51a"/><stop offset="0.345" stop-color="#ece51b"/><stop offset="0.361" stop-color="#c0df25"/><stop offset="0.377" stop-color="#8bd646"/><stop offset="0.392" stop-color="#58c765"/><stop offset="0.408" stop-color="#34b679"/><stop offset="0.424" stop-color="#21a685"/><stop offset="0.439" stop-color="#1f958b"/><stop offset="0.455" stop-color="#25838e"/><stop offset="0.471" stop-color="#2d708e"/><stop offset="0.486" stop-color="#38598c"/><stop offset="0.502" stop-color="#443983"/><stop offset="0.518" stop-color="#450559"/><stop offset="0.533" stop-color="#440154"/><stop offset="0.988" stop-color="#440154"/></linearGradient><linearGradient id="hA54"><stop offset="0.000" stop-color="#440154"/><stop offset="0.157" stop-color="#440154"/><stop offset="0.173" stop-color="#472d7b"/><stop offset="0.188" stop-color="#3a538b"/><stop offset="0.204" stop-color="#2f6b8e"/><stop offset="0.220" stop-color="#27808e"/><stop offset="0.235" stop-color="#20928c"/><stop offset="0.251" stop-color="#20a386"/><stop offset="0.267" stop-color="#31b57b"/><stop offset="0.282" stop-color="#52c569"/><stop offset="0.298" stop-color="#84d44b"/><stop offset="0.314" stop-color="#bddf26"/><stop offset="0.329" stop-color="#eae51a"/><stop offset="0.345" stop-color="#ece51b"/><stop offset="0.361" stop-color="#c0df25"/><stop offset="0.377" stop-color="#89d548"/><stop offset="0.392" stop-color="#56c667"/><stop offset="0.408" stop-color="#34b679"/><stop offset="0.424" stop-color="#21a585"/><stop offset="0.439" stop-color="#1f948c"/><stop offset="0.455" stop-color="#26828e"/><stop offset="0.471" stop-color="#2e6e8e"/><stop offset="0.486" stop-color="#39568c"/><stop offset="0.502" stop-color="#463480"/><stop offset="0.518" stop-color="#440154"/><stop offset="0.988" stop-color="#440154"/></linearGradient><linearGradient id="hA55"><stop offset="0.000" stop-color="#440154"/><stop offset="0.157" stop-color="#440154"/><stop offset="0.173" stop-color="#482979"/><stop offset="0.188" stop-color="#3b518b"/><stop offset="0.204" stop-color="#306a8e"/><stop offset="0.220" stop-color="#277f8e"/><stop offset="0.235" stop-color="#20928c"/><stop offset="0.251" stop-color="#20a386"/><stop offset="0.267" stop-color="#31b57b"/><stop offset="0.282" stop-color="#52c569"/><stop offset="0.298" stop-color="#86d549"/><stop offset="0.314" stop-color="#bddf26"/><stop offset="0.329" stop-color="#eae51a"/><stop offset="0.345" stop-color="#ece51b"/><stop offset="0.361" stop-color="#c0df25"/><stop offset="0.377" stop-color="#89d548"/><stop offset="0.392" stop-color="#56c667"/><stop offset="0.408" stop-color="#32b67a"/><stop offset="0.424" stop-color="#21a585"/><stop offset="0.439" stop-color="#20938c"/><stop offset="0.455" stop-color="#26818e"/><stop offset="0.471" stop-color="#2f6c8e"/><stop offset="0.486" stop-color="#3a538b"/><stop offset="0.502" stop-color="#472e7c"/><stop offset="0.518" stop-color="#440154"/><stop offset="0.988" stop-color="#440154"/></linearGradient><linearGradient id="hA56"><stop offset="0.000" stop-color="#440154"/><stop offset="0.157" stop-color="#440154"/><stop offset="0.173" stop-color="#482677"/><stop offset="0.188" stop-color="#3c508b"/><stop offset="0.204" stop-color="#31688e"/><stop offset="0.220" stop-color="#277e8e"/><stop offset="0.235" stop-color="#21918c"/><stop offset="0.251" stop-color="#20a386"/><stop offset="0.267" stop-color="#31b57b"/><stop offset="0.282" stop-color="#54c568"/><stop offset="0.298" stop-color="#86d549"/><stop offset="0.314" stop-color="#bddf26"/><stop offset="0.329" stop-color="#eae51a"/><stop offset="0.345" stop-color="#ece51b"/><stop offset="0.361" stop-color="#c0df25"/><stop offset="0.377" stop-color="#89d548"/><stop offset="0.392" stop-color="#56c667"/><stop offset="0.408" stop-color="#32b67a"/><stop offset="0.424" stop-color="#20a486"/><stop offset="0.439" stop-color="#20928c"/><stop offset="0.455" stop-color="#277f8e"/><stop offset="0.471" stop-color="#306a8e"/><stop offset="0.486" stop-color="#3b518b"/><stop offset="0.502" stop-color="#482979"/><stop offset="0.518" stop-color="#440154"/><stop offset="0.988" stop-color="#440154"/></linearGradient><linearGradient id="hA57"><stop offset="0.000" stop-color="#440154"/><stop offset="0.157" stop-color="#440154"/><stop offset="0.173" stop-color="#482374"/><stop offset="0.188" stop-color="#3d4e8a"/><stop offset="0.204" stop-color="#31678e"/><stop offset="0.220" stop-color="#287d8e"/><stop offset="0.235" stop-color="#21918c"/><stop offset="0.251" stop-color="#1fa287"/><stop offset="0.267" stop-color="#31b57b"/><stop offset="0.282" stop-color="#54c568"/><stop offset="0.298" stop-color="#86d549"/><stop offset="0.314" stop-color="#bddf26"/><stop offset="0.329" stop-color="#eae51a"/><stop offset="0.345" stop-color="#ece51b"/><stop offset="0.361" stop-color="#c0df25"/><stop offset="0.377" stop-color="#89d548"/><stop offset="0.392" stop-color="#56c667"/><stop offset="0.408" stop-color="#31b57b"/><stop offset="0.424" stop-color="#20a386"/><stop offset="0.439" stop-color="#21918c"/><stop offset="0.455" stop-color="#287d8e"/><stop offset="0.471" stop-color="#31688e"/><stop offset="0.486" stop-color="#3c4f8a"/><stop offset="0.502" stop-color="#482374"/><stop offset="0.518" stop-color="#440154"/><stop offset="0.988" stop-color="#440154"/></linearGradient><linearGradient id="hA58"><stop offset="0.000" stop-color="#440154"/><stop offset="0.157" stop-color="#440154"/><stop offset="0.173" stop-color="#481f70"/><stop offset="0.188" stop-color="#3d4d8a"/><stop offset="0.204" stop-color="#31668e"/><stop offset="0.220" stop-color="#287c8e"/><stop offset="0.235" stop-color="#21908d"/><stop offset="0.251" stop-color="#1fa287"/><stop offset="0.267" stop-color="#31b57b"/><stop offset="0.282" stop-color="#54c568"/><stop offset="0.298" stop-color="#86d549"/><stop offset="0.314" stop-color="#c0df25"/><stop offset="0.329" stop-color="#eae51a"/><stop offset="0.345" stop-color="#ece51b"/><stop offset="0.361" stop-color="#c0df25"/><stop offset="0.377" stop-color="#89d548"/><stop offset="0.392" stop-color="#54c568"/><stop offset="0.408" stop-color="#31b57b"/><stop offset="0.424" stop-color="#1fa287"/><stop offset="0.439" stop-color="#21908d"/><stop offset="0.455" stop-color="#287c8e"/><stop offset="0.471" stop-color="#32658e"/><stop offset="0.486" stop-color="#3e4c8a"/><stop offset="0.502" stop-color="#481c6e"/><stop offset="0.518" stop-color="#440154"/><stop offset="0.988" stop-color="#440154"/></linearGradient><linearGradient id="hA59"><stop offset="0.000" stop-color="#440154"/><stop offset="0.157" stop-color="#440154"/><stop offset="0.173" stop-color="#481b6d"/><stop offset="0.188" stop-color="#3e4a89"/><stop offset="0.204" stop-color="#32648e"/><stop offset="0.220" stop-color="#297b8e"/><stop offset="0.235" stop-color="#218f8d"/><stop offset="0.251" stop-color="#1fa287"/><stop offset="0.267" stop-color="#31b57b"/><stop offset="0.282" stop-color="#54c568"/><stop offset="0.298" stop-color="#89d548"/><stop offset="0.314" stop-color="#c0df25"/><stop offset="0.329" stop-color="#eae51a"/><stop offset="0.345" stop-color="#ece51b"/><stop offset="0.361" stop-color="#c0df25"/><stop offset="0.377" stop-color="#89d548"/><stop offset="0.392" stop-color="#54c568"/><stop offset="0.408" stop-color="#2fb47c"/><stop offset="0.424" stop-color="#1fa187"/><stop offset="0.439" stop-color="#218e8d"/><stop offset="0.455" stop-color="#297a8e"/><stop offset="0.471" stop-color="#33638d"/><stop offset="0.486" stop-color="#3e4989"/><stop offset="0.502" stop-color="#481668"/><stop offset="0.518" stop-color="#440154"/><stop offset="0.988" stop-color="#440154"/></linearGradient><linearGradient id="hA60"><stop offset="0.000" stop-color="#440154"/><stop offset="0.157" stop-color="#440154"/><stop offset="0.173" stop-color="#481668"/><stop offset="0.188" stop-color="#3e4989"/><stop offset="0.204" stop-color="#33638d"/><stop offset="0.220" stop-color="#297a8e"/><stop offset="0.235" stop-color="#218f8d"/><stop offset="0.251" stop-color="#1fa187"/><stop offset="0.267" stop-color="#31b57b"/><stop offset="0.282" stop-color="#54c568"/><stop offset="0.298" stop-color="#89d548"/><stop offset="0.314" stop-color="#c0df25"/><stop offset="0.329" stop-color="#ece51b"/><stop offset="0.345" stop-color="#ece51b"/><stop offset="0.361" stop-color="#c0df25"/><stop offset="0.377" stop-color="#86d549"/><stop offset="0.392" stop-color="#54c568"/><stop offset="0.408" stop-color="#2fb47c"/><stop offset="0.424" stop-color="#1fa188"/><stop offset="0.439" stop-color="#228d8d"/><stop offset="0.455" stop-color="#2a788e"/><stop offset="0.471" stop-color="#34618d"/><stop offset="0.486" stop-color="#404588"/><stop offset="0.502" stop-color="#470e61"/><stop offset="0.518" stop-color="#440154"/><stop offset="0.988" stop-color="#440154"/></linearGradient><linearGradient id="hA61"><stop offset="0.000" stop-color="#440154"/><stop offset="0.157" stop-color="#440154"/><stop offset="0.173" stop-color="#471164"/><stop offset="0.188" stop-color="#3f4788"/><stop offset="0.204" stop-color="#33628d"/><stop offset="0.220" stop-color="#29798e"/><stop offset="0.235" stop-color="#218e8d"/><stop offset="0.251" stop-color="#1fa187"/><stop offset="0.267" stop-color="#31b57b"/><stop offset="0.282" stop-color="#56c667"/><stop offset="0.298" stop-color="#89d548"/><stop offset="0.314" stop-color="#c0df25"/><stop offset="0.329" stop-color="#ece51b"/><stop offset="0.345" stop-color="#eae51a"/><stop offset="0.361" stop-color="#c0df25"/><stop offset="0.377" stop-color="#86d549"/><stop offset="0.392" stop-color="#52c569"/><stop offset="0.408" stop-color="#2eb37c"/><stop offset="0.424" stop-color="#1fa088"/><stop offset="0.439" stop-color="#228b8d"/><stop offset="0.455" stop-color="#2a768e"/><stop offset="0.471" stop-color="#355e8d"/><stop offset="0.486" stop-color="#423f85"/><stop offset="0.502" stop-color="#46075a"/><stop offset="0.518" stop-color="#440154"/><stop offset="0.988" stop-color="#440154"/></linearGradient><linearGradient id="hA62"><stop offset="0.000" stop-color="#440154"/><stop offset="0.157" stop-color="#440154"/><stop offset="0.173" stop-color="#470d60"/><stop offset="0.188" stop-color="#414487"/><stop offset="0.204" stop-color="#34608d"/><stop offset="0.220" stop-color="#2a778e"/><stop offset="0.235" stop-color="#228d8d"/><stop offset="0.251" stop-color="#1fa188"/><stop offset="0.267" stop-color="#31b57b"/><stop offset="0.282" stop-color="#56c667"/><stop offset="0.298" stop-color="#89d548"/><stop offset="0.314" stop-color="#c2df23"/><stop offset="0.329" stop-color="#ece51b"/><stop offset="0.345" stop-color="#eae51a"/><stop offset="0.361" stop-color="#c0df25"/><stop offset="0.377" stop-color="#86d549"/><stop offset="0.392" stop-color="#52c569"/><stop offset="0.408" stop-color="#2db27d"/><stop offset="0.424" stop-color="#1f9f88"/><stop offset="0.439" stop-color="#238a8d"/><stop offset="0.455" stop-color="#2b748e"/><stop offset="0.471" stop-color="#365c8d"/><stop offset="0.486" stop-color="#443a83"/><stop offset="0.502" stop-color="#440154"/><stop offset="0.988" stop-color="#440154"/></linearGradient><linearGradient id="hA63"><stop offset="0.000" stop-color="#440154"/><stop offset="0.157" stop-color="#440154"/><stop offset="0.173" stop-color="#46075a"/><stop offset="0.188" stop-color="#424086"/><stop offset="0.204" stop-color="#355f8d"/><stop offset="0.220" stop-color="#2a768e"/><stop offset="0.235" stop-color="#228c8d"/><stop offset="0.251" stop-color="#1fa188"/><stop offset="0.267" stop-color="#2fb47c"/><stop offset="0.282" stop-color="#56c667"/><stop offset="0.298" stop-color="#8bd646"/><stop offset="0.314" stop-color="#c2df23"/><stop offset="0.329" stop-color="#ece51b"/><stop offset="0.345" stop-color="#eae51a"/><stop offset="0.361" stop-color="#c0df25"/><stop offset="0.377" stop-color="#86d549"/><stop offset="0.392" stop-color="#52c569"/><stop offset="0.408" stop-color="#2db27d"/><stop offset="0.424" stop-color="#1f9e89"/><stop offset="0.439" stop-color="#23888e"/><stop offset="0.455" stop-color="#2c718e"/><stop offset="0.471" stop-color="#38598c"/><stop offset="0.486" stop-color="#463480"/><stop offset="0.502" stop-color="#440154"/><stop offset="0.988" stop-color="#440154"/></linearGradient><linearGradient id="hA64"><stop offset="0.000" stop-color="#440154"/><stop offset="0.157" stop-color="#440154"/><stop offset="0.173" stop-color="#440256"/><stop offset="0.188" stop-color="#433d84"/><stop offset="0.204" stop-color="#365d8d"/><stop offset="0.220" stop-color="#2b758e"/><stop offset="0.235" stop-color="#228b8d"/><stop offset="0.251" stop-color="#1fa088"/><stop offset="0.267" stop-color="#2fb47c"/><stop offset="0.282" stop-color="#56c667"/><stop offset="0.298" stop-color="#8bd646"/><stop offset="0.314" stop-color="#c2df23"/><stop offset="0.329" stop-color="#ece51b"/><stop offset="0.345" stop-color="#eae51a"/><stop offset="0.361" stop-color="#c0df25"/><stop offset="0.377" stop-color="#86d549"/><stop offset="0.392" stop-color="#50c46a"/><stop offset="0.408" stop-color="#2cb17e"/><stop offset="0.424" stop-color="#1e9c89"/><stop offset="0.439" stop-color="#24878e"/><stop offset="0.455" stop-color="#2d708e"/><stop offset="0.471" stop-color="#39568c"/><stop offset="0.486" stop-color="#472e7c"/><stop offset="0.502" stop-color="#440154"/><stop offset="0.988" stop-color="#440154"/></linearGradient><linearGradient id="hA65"><stop offset="0.000" stop-color="#440154"/><stop offset="0.173" stop-color="#440154"/><stop offset="0.188" stop-color="#443983"/><stop offset="0.204" stop-color="#365c8d"/><stop offset="0.220" stop-color="#2b748e"/><stop offset="0.235" stop-color="#238a8d"/><stop offset="0.251" stop-color="#1fa088"/><stop offset="0.267" stop-color="#2fb47c"/><stop offset="0.282" stop-color="#58c765"/><stop offset="0.298" stop-color="#8bd646"/><stop offset="0.314" stop-color="#c2df23"/><stop offset="0.329" stop-color="#ece51b"/><stop offset="0.345" stop-color="#eae51a"/><stop offset="0.361" stop-color="#c0df25"/><stop offset="0.377" stop-color="#84d44b"/><stop offset="0.392" stop-color="#50c46a"/><stop offset="0.408" stop-color="#2ab07f"/><stop offset="0.424" stop-color="#1e9b8a"/><stop offset="0.439" stop-color="#25858e"/><stop offset="0.455" stop-color="#2e6e8e"/><stop offset="0.471" stop-color="#3a538b"/><stop offset="0.486" stop-color="#482677"/><stop offset="0.502" stop-color="#440154"/><stop offset="0.988" stop-color="#440154"/></linearGradient><linearGradient id="hA66"><stop offset="0.000" stop-color="#440154"/><stop offset="0.173" stop-color="#440154"/><stop offset="0.188" stop-color="#453581"/><stop offset="0.204" stop-color="#375a8c"/><stop offset="0.220" stop-color="#2c728e"/><stop offset="0.235" stop-color="#23898e"/><stop offset="0.251" stop-color="#1f9f88"/><stop offset="0.267" stop-color="#2fb47c"/><stop offset="0.282" stop-color="#58c765"/><stop offset="0.298" stop-color="#8bd646"/><stop offset="0.314" stop-color="#c5e021"/><stop offset="0.329" stop-color="#ece51b"/><stop offset="0.345" stop-color="#eae51a"/><stop offset="0.361" stop-color="#c0df25"/><stop offset="0.377" stop-color="#84d44b"/><stop offset="0.392" stop-color="#50c46a"/><stop offset="0.408" stop-color="#29af7f"/><stop offset="0.424" stop-color="#1f9a8a"/><stop offset="0.439" stop-color="#25838e"/><stop offset="0.455" stop-color="#2f6b8e"/><stop offset="0.471" stop-color="#3b518b"/><stop offset="0.486" stop-color="#482071"/><stop offset="0.502" stop-color="#440154"/><stop offset="0.988" stop-color="#440154"/></linearGradient><clipPath id="hBc"><rect x="395.7" y="25.3" width="95.0" height="66.3"/></clipPath><linearGradient id="hB0"><stop offset="0.000" stop-color="#2e6f8e"/><stop offset="0.016" stop-color="#2b748e"/><stop offset="0.032" stop-color="#297b8e"/><stop offset="0.047" stop-color="#27808e"/><stop offset="0.063" stop-color="#25838e"/><stop offset="0.079" stop-color="#23888e"/><stop offset="0.095" stop-color="#228c8d"/><stop offset="0.111" stop-color="#21908d"/><stop offset="0.126" stop-color="#1f958b"/><stop offset="0.142" stop-color="#1f9a8a"/><stop offset="0.158" stop-color="#1f9f88"/><stop offset="0.174" stop-color="#20a486"/><stop offset="0.189" stop-color="#24aa83"/><stop offset="0.205" stop-color="#31b57b"/><stop offset="0.221" stop-color="#42be71"/><stop offset="0.237" stop-color="#58c765"/><stop offset="0.253" stop-color="#73d056"/><stop offset="0.268" stop-color="#8ed645"/><stop offset="0.284" stop-color="#aadc32"/><stop offset="0.300" stop-color="#c8e020"/><stop offset="0.316" stop-color="#e2e418"/><stop offset="0.332" stop-color="#f8e621"/><stop offset="0.347" stop-color="#efe51c"/><stop offset="0.363" stop-color="#dae319"/><stop offset="0.379" stop-color="#c0df25"/><stop offset="0.395" stop-color="#a5db36"/><stop offset="0.411" stop-color="#8bd646"/><stop offset="0.426" stop-color="#70cf57"/><stop offset="0.442" stop-color="#5ac864"/><stop offset="0.458" stop-color="#46c06f"/><stop offset="0.474" stop-color="#34b679"/><stop offset="0.489" stop-color="#27ad81"/><stop offset="0.505" stop-color="#21a685"/><stop offset="0.521" stop-color="#1fa187"/><stop offset="0.537" stop-color="#1e9d89"/><stop offset="0.553" stop-color="#1f988b"/><stop offset="0.568" stop-color="#20938c"/><stop offset="0.584" stop-color="#218f8d"/><stop offset="0.600" stop-color="#228b8d"/><stop offset="0.616" stop-color="#24878e"/><stop offset="0.632" stop-color="#25838e"/><stop offset="0.647" stop-color="#27808e"/><stop offset="0.663" stop-color="#287c8e"/><stop offset="0.679" stop-color="#2a768e"/><stop offset="0.695" stop-color="#2d718e"/><stop offset="0.711" stop-color="#2f6b8e"/><stop offset="0.726" stop-color="#32658e"/><stop offset="0.742" stop-color="#355e8d"/><stop offset="0.758" stop-color="#39558c"/><stop offset="0.774" stop-color="#3d4d8a"/><stop offset="0.789" stop-color="#414487"/><stop offset="0.805" stop-color="#443a83"/><stop offset="0.821" stop-color="#472f7d"/><stop offset="0.837" stop-color="#482475"/><stop offset="0.853" stop-color="#481769"/><stop offset="0.868" stop-color="#46075a"/><stop offset="0.884" stop-color="#440154"/><stop offset="0.995" stop-color="#440154"/></linearGradient><linearGradient id="hB1"><stop offset="0.000" stop-color="#2e6d8e"/><stop offset="0.016" stop-color="#2c728e"/><stop offset="0.032" stop-color="#29798e"/><stop offset="0.047" stop-color="#277f8e"/><stop offset="0.063" stop-color="#26828e"/><stop offset="0.079" stop-color="#24878e"/><stop offset="0.095" stop-color="#228b8d"/><stop offset="0.111" stop-color="#21908d"/><stop offset="0.126" stop-color="#1f948c"/><stop offset="0.142" stop-color="#1f998a"/><stop offset="0.158" stop-color="#1f9f88"/><stop offset="0.174" stop-color="#20a486"/><stop offset="0.189" stop-color="#23a983"/><stop offset="0.205" stop-color="#2fb47c"/><stop offset="0.221" stop-color="#40bd72"/><stop offset="0.237" stop-color="#58c765"/><stop offset="0.253" stop-color="#70cf57"/><stop offset="0.268" stop-color="#8bd646"/><stop offset="0.284" stop-color="#aadc32"/><stop offset="0.300" stop-color="#c8e020"/><stop offset="0.316" stop-color="#e2e418"/><stop offset="0.332" stop-color="#f8e621"/><stop offset="0.347" stop-color="#efe51c"/><stop offset="0.363" stop-color="#dae319"/><stop offset="0.379" stop-color="#c0df25"/><stop offset="0.395" stop-color="#a5db36"/><stop offset="0.411" stop-color="#89d548"/><stop offset="0.426" stop-color="#70cf57"/><stop offset="0.442" stop-color="#58c765"/><stop offset="0.458" stop-color="#44bf70"/><stop offset="0.474" stop-color="#32b67a"/><stop offset="0.489" stop-color="#25ac82"/><stop offset="0.505" stop-color="#21a585"/><stop offset="0.521" stop-color="#1fa188"/><stop offset="0.537" stop-color="#1e9c89"/><stop offset="0.553" stop-color="#1f978b"/><stop offset="0.568" stop-color="#20928c"/><stop offset="0.584" stop-color="#218f8d"/><stop offset="0.600" stop-color="#238a8d"/><stop offset="0.616" stop-color="#24868e"/><stop offset="0.632" stop-color="#26828e"/><stop offset="0.647" stop-color="#277f8e"/><stop offset="0.663" stop-color="#297a8e"/><stop offset="0.679" stop-color="#2b748e"/><stop offset="0.695" stop-color="#2e6e8e"/><stop offset="0.711" stop-color="#31688e"/><stop offset="0.726" stop-color="#33628d"/><stop offset="0.742" stop-color="#375b8d"/><stop offset="0.758" stop-color="#3b528b"/><stop offset="0.774" stop-color="#3e4989"/><stop offset="0.789" stop-color="#423f85"/><stop offset="0.805" stop-color="#453581"/><stop offset="0.821" stop-color="#482979"/><stop offset="0.837" stop-color="#481d6f"/><stop offset="0.853" stop-color="#470e61"/><stop offset="0.868" stop-color="#440154"/><stop offset="0.995" stop-color="#440154"/></linearGradient><linearGradient id="hB2"><stop offset="0.000" stop-color="#2f6b8e"/><stop offset="0.016" stop-color="#2d718e"/><stop offset="0.032" stop-color="#2a778e"/><stop offset="0.047" stop-color="#277e8e"/><stop offset="0.063" stop-color="#26828e"/><stop offset="0.079" stop-color="#24868e"/><stop offset="0.095" stop-color="#228b8d"/><stop offset="0.111" stop-color="#218f8d"/><stop offset="0.126" stop-color="#20938c"/><stop offset="0.142" stop-color="#1f998a"/><stop offset="0.158" stop-color="#1f9f88"/><stop offset="0.174" stop-color="#20a386"/><stop offset="0.189" stop-color="#23a983"/><stop offset="0.205" stop-color="#2eb37c"/><stop offset="0.221" stop-color="#3fbc73"/><stop offset="0.237" stop-color="#56c667"/><stop offset="0.253" stop-color="#70cf57"/><stop offset="0.268" stop-color="#8bd646"/><stop offset="0.284" stop-color="#a8db34"/><stop offset="0.300" stop-color="#c8e020"/><stop offset="0.316" stop-color="#e2e418"/><stop offset="0.332" stop-color="#f8e621"/><stop offset="0.347" stop-color="#efe51c"/><stop offset="0.363" stop-color="#d8e219"/><stop offset="0.379" stop-color="#c0df25"/><stop offset="0.395" stop-color="#a2da37"/><stop offset="0.411" stop-color="#89d548"/><stop offset="0.426" stop-color="#6ece58"/><stop offset="0.442" stop-color="#58c765"/><stop offset="0.458" stop-color="#42be71"/><stop offset="0.474" stop-color="#31b57b"/><stop offset="0.489" stop-color="#25ab82"/><stop offset="0.505" stop-color="#21a585"/><stop offset="0.521" stop-color="#1fa188"/><stop offset="0.537" stop-color="#1e9c89"/><stop offset="0.553" stop-color="#1f968b"/><stop offset="0.568" stop-color="#20928c"/><stop offset="0.584" stop-color="#218e8d"/><stop offset="0.600" stop-color="#238a8d"/><stop offset="0.616" stop-color="#25858e"/><stop offset="0.632" stop-color="#26828e"/><stop offset="0.647" stop-color="#277e8e"/><stop offset="0.663" stop-color="#2a788e"/><stop offset="0.679" stop-color="#2c728e"/><stop offset="0.695" stop-color="#2f6c8e"/><stop offset="0.711" stop-color="#31668e"/><stop offset="0.726" stop-color="#34608d"/><stop offset="0.742" stop-color="#39568c"/><stop offset="0.758" stop-color="#3d4e8a"/><stop offset="0.774" stop-color="#404588"/><stop offset="0.789" stop-color="#443a83"/><stop offset="0.805" stop-color="#472f7d"/><stop offset="0.821" stop-color="#482374"/><stop offset="0.837" stop-color="#481668"/><stop offset="0.853" stop-color="#450457"/><stop offset="0.868" stop-color="#440154"/><stop offset="0.995" stop-color="#440154"/></linearGradient><linearGradient id="hB3"><stop offset="0.000" stop-color="#31688e"/><stop offset="0.016" stop-color="#2e6f8e"/><stop offset="0.032" stop-color="#2b758e"/><stop offset="0.047" stop-color="#287c8e"/><stop offset="0.063" stop-color="#26818e"/><stop offset="0.079" stop-color="#25858e"/><stop offset="0.095" stop-color="#238a8d"/><stop offset="0.111" stop-color="#218f8d"/><stop offset="0.126" stop-color="#20928c"/><stop offset="0.142" stop-color="#1f988b"/><stop offset="0.158" stop-color="#1f9e89"/><stop offset="0.174" stop-color="#20a386"/><stop offset="0.189" stop-color="#23a983"/><stop offset="0.205" stop-color="#2db27d"/><stop offset="0.221" stop-color="#3fbc73"/><stop offset="0.237" stop-color="#54c568"/><stop offset="0.253" stop-color="#6ece58"/><stop offset="0.268" stop-color="#8bd646"/><stop offset="0.284" stop-color="#a8db34"/><stop offset="0.300" stop-color="#c8e020"/><stop offset="0.316" stop-color="#dfe318"/><stop offset="0.332" stop-color="#f8e621"/><stop offset="0.347" stop-color="#efe51c"/><stop offset="0.363" stop-color="#d8e219"/><stop offset="0.379" stop-color="#c0df25"/><stop offset="0.395" stop-color="#a2da37"/><stop offset="0.411" stop-color="#86d549"/><stop offset="0.426" stop-color="#6ece58"/><stop offset="0.442" stop-color="#56c667"/><stop offset="0.458" stop-color="#40bd72"/><stop offset="0.474" stop-color="#2fb47c"/><stop offset="0.489" stop-color="#24aa83"/><stop offset="0.505" stop-color="#21a585"/><stop offset="0.521" stop-color="#1fa088"/><stop offset="0.537" stop-color="#1e9b8a"/><stop offset="0.553" stop-color="#1f968b"/><stop offset="0.568" stop-color="#20928c"/><stop offset="0.584" stop-color="#228d8d"/><stop offset="0.600" stop-color="#23898e"/><stop offset="0.616" stop-color="#25848e"/><stop offset="0.632" stop-color="#26818e"/><stop offset="0.647" stop-color="#287c8e"/><stop offset="0.663" stop-color="#2a768e"/><stop offset="0.679" stop-color="#2d708e"/><stop offset="0.695" stop-color="#306a8e"/><stop offset="0.711" stop-color="#32648e"/><stop offset="0.726" stop-color="#365c8d"/><stop offset="0.742" stop-color="#3a538b"/><stop offset="0.758" stop-color="#3e4989"/><stop offset="0.774" stop-color="#424086"/><stop offset="0.789" stop-color="#453581"/><stop offset="0.805" stop-color="#482979"/><stop offset="0.821" stop-color="#481c6e"/><stop offset="0.837" stop-color="#470d60"/><stop offset="0.853" stop-color="#440154"/><stop offset="0.995" stop-color="#440154"/></linearGradient><linearGradient id="hB4"><stop offset="0.000" stop-color="#31668e"/><stop offset="0.016" stop-color="#2e6d8e"/><stop offset="0.032" stop-color="#2c738e"/><stop offset="0.047" stop-color="#297a8e"/><stop offset="0.063" stop-color="#27808e"/><stop offset="0.079" stop-color="#25848e"/><stop offset="0.095" stop-color="#23898e"/><stop offset="0.111" stop-color="#218e8d"/><stop offset="0.126" stop-color="#20928c"/><stop offset="0.142" stop-color="#1f988b"/><stop offset="0.158" stop-color="#1f9e89"/><stop offset="0.174" stop-color="#1fa287"/><stop offset="0.189" stop-color="#22a884"/><stop offset="0.205" stop-color="#2cb17e"/><stop offset="0.221" stop-color="#3dbc74"/><stop offset="0.237" stop-color="#54c568"/><stop offset="0.253" stop-color="#6ccd5a"/><stop offset="0.268" stop-color="#89d548"/><stop offset="0.284" stop-color="#a8db34"/><stop offset="0.300" stop-color="#c5e021"/><stop offset="0.316" stop-color="#dfe318"/><stop offset="0.332" stop-color="#f8e621"/><stop offset="0.347" stop-color="#efe51c"/><stop offset="0.363" stop-color="#d8e219"/><stop offset="0.379" stop-color="#bddf26"/><stop offset="0.395" stop-color="#a0da39"/><stop offset="0.411" stop-color="#86d549"/><stop offset="0.426" stop-color="#6ccd5a"/><stop offset="0.442" stop-color="#54c568"/><stop offset="0.458" stop-color="#3fbc73"/><stop offset="0.474" stop-color="#2eb37c"/><stop offset="0.489" stop-color="#24aa83"/><stop offset="0.505" stop-color="#20a486"/><stop offset="0.521" stop-color="#1fa088"/><stop offset="0.537" stop-color="#1f9a8a"/><stop offset="0.553" stop-color="#1f958b"/><stop offset="0.568" stop-color="#21918c"/><stop offset="0.584" stop-color="#228c8d"/><stop offset="0.600" stop-color="#23888e"/><stop offset="0.616" stop-color="#25838e"/><stop offset="0.632" stop-color="#27808e"/><stop offset="0.647" stop-color="#297a8e"/><stop offset="0.663" stop-color="#2b748e"/><stop offset="0.679" stop-color="#2e6e8e"/><stop offset="0.695" stop-color="#31688e"/><stop offset="0.711" stop-color="#34618d"/><stop offset="0.726" stop-color="#38598c"/><stop offset="0.742" stop-color="#3c4f8a"/><stop offset="0.758" stop-color="#404688"/><stop offset="0.774" stop-color="#443b84"/><stop offset="0.789" stop-color="#472f7d"/><stop offset="0.805" stop-color="#482374"/><stop offset="0.821" stop-color="#481467"/><stop offset="0.837" stop-color="#440256"/><stop offset="0.853" stop-color="#440154"/><stop offset="0.995" stop-color="#440154"/></linearGradient><linearGradient id="hB5"><stop offset="0.000" stop-color="#32648e"/><stop offset="0.016" stop-color="#2f6b8e"/><stop offset="0.032" stop-color="#2c718e"/><stop offset="0.047" stop-color="#2a788e"/><stop offset="0.063" stop-color="#277f8e"/><stop offset="0.079" stop-color="#25838e"/><stop offset="0.095" stop-color="#23888e"/><stop offset="0.111" stop-color="#228d8d"/><stop offset="0.126" stop-color="#20928c"/><stop offset="0.142" stop-color="#1f978b"/><stop offset="0.158" stop-color="#1e9d89"/><stop offset="0.174" stop-color="#1fa287"/><stop offset="0.189" stop-color="#22a884"/><stop offset="0.205" stop-color="#2ab07f"/><stop offset="0.221" stop-color="#3bbb75"/><stop offset="0.237" stop-color="#52c569"/><stop offset="0.253" stop-color="#6ccd5a"/><stop offset="0.268" stop-color="#89d548"/><stop offset="0.284" stop-color="#a5db36"/><stop offset="0.300" stop-color="#c5e021"/><stop offset="0.316" stop-color="#dfe318"/><stop offset="0.332" stop-color="#f8e621"/><stop offset="0.347" stop-color="#efe51c"/><stop offset="0.363" stop-color="#d8e219"/><stop offset="0.379" stop-color="#bddf26"/><stop offset="0.395" stop-color="#a0da39"/><stop offset="0.411" stop-color="#84d44b"/><stop offset="0.426" stop-color="#69cd5b"/><stop offset="0.442" stop-color="#52c569"/><stop offset="0.458" stop-color="#3dbc74"/><stop offset="0.474" stop-color="#2db27d"/><stop offset="0.489" stop-color="#24aa83"/><stop offset="0.505" stop-color="#20a486"/><stop offset="0.521" stop-color="#1f9f88"/><stop offset="0.537" stop-color="#1f9a8a"/><stop offset="0.553" stop-color="#1f948c"/><stop offset="0.568" stop-color="#21908d"/><stop offset="0.584" stop-color="#228c8d"/><stop offset="0.600" stop-color="#24878e"/><stop offset="0.616" stop-color="#26828e"/><stop offset="0.632" stop-color="#277f8e"/><stop offset="0.647" stop-color="#2a788e"/><stop offset="0.663" stop-color="#2c728e"/><stop offset="0.679" stop-color="#2f6c8e"/><stop offset="0.695" stop-color="#32658e"/><stop offset="0.711" stop-color="#355e8d"/><stop offset="0.726" stop-color="#3a548c"/><stop offset="0.742" stop-color="#3e4a89"/><stop offset="0.758" stop-color="#424186"/><stop offset="0.774" stop-color="#453581"/><stop offset="0.789" stop-color="#482979"/><stop offset="0.805" stop-color="#481b6d"/><stop offset="0.821" stop-color="#460a5d"/><stop offset="0.837" stop-color="#440154"/><stop offset="0.995" stop-color="#440154"/></linearGradient><linearGradient id="hB6"><stop offset="0.000" stop-color="#34618d"/><stop offset="0.016" stop-color="#30698e"/><stop offset="0.032" stop-color="#2d708e"/><stop offset="0.047" stop-color="#2a778e"/><stop offset="0.063" stop-color="#277e8e"/><stop offset="0.079" stop-color="#26828e"/><stop offset="0.095" stop-color="#24878e"/><stop offset="0.111" stop-color="#228c8d"/><stop offset="0.126" stop-color="#20928c"/><stop offset="0.142" stop-color="#1f968b"/><stop offset="0.158" stop-color="#1e9c89"/><stop offset="0.174" stop-color="#1fa287"/><stop offset="0.189" stop-color="#22a884"/><stop offset="0.205" stop-color="#29af7f"/><stop offset="0.221" stop-color="#3aba76"/><stop offset="0.237" stop-color="#50c46a"/><stop offset="0.253" stop-color="#69cd5b"/><stop offset="0.268" stop-color="#86d549"/><stop offset="0.284" stop-color="#a5db36"/><stop offset="0.300" stop-color="#c5e021"/><stop offset="0.316" stop-color="#dfe318"/><stop offset="0.332" stop-color="#f8e621"/><stop offset="0.347" stop-color="#efe51c"/><stop offset="0.363" stop-color="#d8e219"/><stop offset="0.379" stop-color="#bddf26"/><stop offset="0.395" stop-color="#a0da39"/><stop offset="0.411" stop-color="#84d44b"/><stop offset="0.426" stop-color="#67cc5c"/><stop offset="0.442" stop-color="#50c46a"/><stop offset="0.458" stop-color="#3bbb75"/><stop offset="0.474" stop-color="#2cb17e"/><stop offset="0.489" stop-color="#23a983"/><stop offset="0.505" stop-color="#20a486"/><stop offset="0.521" stop-color="#1f9f88"/><stop offset="0.537" stop-color="#1f998a"/><stop offset="0.553" stop-color="#20938c"/><stop offset="0.568" stop-color="#218f8d"/><stop offset="0.584" stop-color="#228b8d"/><stop offset="0.600" stop-color="#24868e"/><stop offset="0.616" stop-color="#26828e"/><stop offset="0.632" stop-color="#287d8e"/><stop offset="0.647" stop-color="#2a768e"/><stop offset="0.663" stop-color="#2d708e"/><stop offset="0.679" stop-color="#30698e"/><stop offset="0.695" stop-color="#33638d"/><stop offset="0.711" stop-color="#375a8c"/><stop offset="0.726" stop-color="#3c508b"/><stop offset="0.742" stop-color="#3f4788"/><stop offset="0.758" stop-color="#433d84"/><stop offset="0.774" stop-color="#472f7d"/><stop offset="0.789" stop-color="#482374"/><stop offset="0.805" stop-color="#471365"/><stop offset="0.821" stop-color="#440154"/><stop offset="0.995" stop-color="#440154"/></linearGradient><linearGradient id="hB7"><stop offset="0.000" stop-color="#355f8d"/><stop offset="0.016" stop-color="#31678e"/><stop offset="0.032" stop-color="#2e6e8e"/><stop offset="0.047" stop-color="#2b758e"/><stop offset="0.063" stop-color="#287c8e"/><stop offset="0.079" stop-color="#26828e"/><stop offset="0.095" stop-color="#24868e"/><stop offset="0.111" stop-color="#228c8d"/><stop offset="0.126" stop-color="#21918c"/><stop offset="0.142" stop-color="#1f968b"/><stop offset="0.158" stop-color="#1e9c89"/><stop offset="0.174" stop-color="#1fa187"/><stop offset="0.189" stop-color="#22a884"/><stop offset="0.205" stop-color="#28ae80"/><stop offset="0.221" stop-color="#38b977"/><stop offset="0.237" stop-color="#4ec36b"/><stop offset="0.253" stop-color="#69cd5b"/><stop offset="0.268" stop-color="#86d549"/><stop offset="0.284" stop-color="#a5db36"/><stop offset="0.300" stop-color="#c2df23"/><stop offset="0.316" stop-color="#dfe318"/><stop offset="0.332" stop-color="#f8e621"/><stop offset="0.347" stop-color="#efe51c"/><stop offset="0.363" stop-color="#d8e219"/><stop offset="0.379" stop-color="#bade28"/><stop offset="0.395" stop-color="#9dd93b"/><stop offset="0.411" stop-color="#81d34d"/><stop offset="0.426" stop-color="#67cc5c"/><stop offset="0.442" stop-color="#4ec36b"/><stop offset="0.458" stop-color="#3aba76"/><stop offset="0.474" stop-color="#2ab07f"/><stop offset="0.489" stop-color="#23a983"/><stop offset="0.505" stop-color="#20a386"/><stop offset="0.521" stop-color="#1f9e89"/><stop offset="0.537" stop-color="#1f988b"/><stop offset="0.553" stop-color="#20928c"/><stop offset="0.568" stop-color="#218f8d"/><stop offset="0.584" stop-color="#238a8d"/><stop offset="0.600" stop-color="#25858e"/><stop offset="0.616" stop-color="#26818e"/><stop offset="0.632" stop-color="#297b8e"/><stop offset="0.647" stop-color="#2b748e"/><stop offset="0.663" stop-color="#2e6e8e"/><stop offset="0.679" stop-color="#31678e"/><stop offset="0.695" stop-color="#34608d"/><stop offset="0.711" stop-color="#39568c"/><stop offset="0.726" stop-color="#3d4d8a"/><stop offset="0.742" stop-color="#414287"/><stop offset="0.758" stop-color="#453781"/><stop offset="0.774" stop-color="#482979"/><stop offset="0.789" stop-color="#481b6d"/><stop offset="0.805" stop-color="#46085c"/><stop offset="0.821" stop-color="#440154"/><stop offset="0.995" stop-color="#440154"/></linearGradient><linearGradient id="hB8"><stop offset="0.000" stop-color="#375b8d"/><stop offset="0.016" stop-color="#32648e"/><stop offset="0.032" stop-color="#2f6c8e"/><stop offset="0.047" stop-color="#2c728e"/><stop offset="0.063" stop-color="#297a8e"/><stop offset="0.079" stop-color="#26818e"/><stop offset="0.095" stop-color="#25858e"/><stop offset="0.111" stop-color="#228b8d"/><stop offset="0.126" stop-color="#21908d"/><stop offset="0.142" stop-color="#1f958b"/><stop offset="0.158" stop-color="#1e9b8a"/><stop offset="0.174" stop-color="#1fa187"/><stop offset="0.189" stop-color="#22a785"/><stop offset="0.205" stop-color="#27ad81"/><stop offset="0.221" stop-color="#37b878"/><stop offset="0.237" stop-color="#4ec36b"/><stop offset="0.253" stop-color="#67cc5c"/><stop offset="0.268" stop-color="#84d44b"/><stop offset="0.284" stop-color="#a2da37"/><stop offset="0.300" stop-color="#c2df23"/><stop offset="0.316" stop-color="#dfe318"/><stop offset="0.332" stop-color="#f8e621"/><stop offset="0.347" stop-color="#efe51c"/><stop offset="0.363" stop-color="#d5e21a"/><stop offset="0.379" stop-color="#bade28"/><stop offset="0.395" stop-color="#9dd93b"/><stop offset="0.411" stop-color="#81d34d"/><stop offset="0.426" stop-color="#65cb5e"/><stop offset="0.442" stop-color="#4ec36b"/><stop offset="0.458" stop-color="#38b977"/><stop offset="0.474" stop-color="#28ae80"/><stop offset="0.489" stop-color="#22a884"/><stop offset="0.505" stop-color="#1fa287"/><stop offset="0.521" stop-color="#1e9d89"/><stop offset="0.537" stop-color="#1f978b"/><stop offset="0.553" stop-color="#20928c"/><stop offset="0.568" stop-color="#218e8d"/><stop offset="0.584" stop-color="#23898e"/><stop offset="0.600" stop-color="#25848e"/><stop offset="0.616" stop-color="#27808e"/><stop offset="0.632" stop-color="#29798e"/><stop offset="0.647" stop-color="#2c728e"/><stop offset="0.663" stop-color="#2f6c8e"/><stop offset="0.679" stop-color="#32648e"/><stop offset="0.695" stop-color="#365c8d"/><stop offset="0.711" stop-color="#3b528b"/><stop offset="0.726" stop-color="#3f4889"/><stop offset="0.742" stop-color="#433e85"/><stop offset="0.758" stop-color="#46307e"/><stop offset="0.774" stop-color="#482374"/><stop offset="0.789" stop-color="#471365"/><stop offset="0.805" stop-color="#440154"/><stop offset="0.995" stop-color="#440154"/></linearGradient><linearGradient id="hB9"><stop offset="0.000" stop-color="#38588c"/><stop offset="0.016" stop-color="#33628d"/><stop offset="0.032" stop-color="#306a8e"/><stop offset="0.047" stop-color="#2d718e"/><stop offset="0.063" stop-color="#2a788e"/><stop offset="0.079" stop-color="#27808e"/><stop offset="0.095" stop-color="#25848e"/><stop offset="0.111" stop-color="#238a8d"/><stop offset="0.126" stop-color="#218f8d"/><stop offset="0.142" stop-color="#1f948c"/><stop offset="0.158" stop-color="#1e9b8a"/><stop offset="0.174" stop-color="#1fa188"/><stop offset="0.189" stop-color="#22a785"/><stop offset="0.205" stop-color="#26ad81"/><stop offset="0.221" stop-color="#35b779"/><stop offset="0.237" stop-color="#4cc26c"/><stop offset="0.253" stop-color="#65cb5e"/><stop offset="0.268" stop-color="#84d44b"/><stop offset="0.284" stop-color="#a2da37"/><stop offset="0.300" stop-color="#c2df23"/><stop offset="0.316" stop-color="#dfe318"/><stop offset="0.332" stop-color="#f8e621"/><stop offset="0.347" stop-color="#efe51c"/><stop offset="0.363" stop-color="#d5e21a"/><stop offset="0.379" stop-color="#b8de29"/><stop offset="0.395" stop-color="#9bd93c"/><stop offset="0.411" stop-color="#7fd34e"/><stop offset="0.426" stop-color="#63cb5f"/><stop offset="0.442" stop-color="#4cc26c"/><stop offset="0.458" stop-color="#37b878"/><stop offset="0.474" stop-color="#27ad81"/><stop offset="0.489" stop-color="#22a884"/><stop offset="0.505" stop-color="#1fa287"/><stop offset="0.521" stop-color="#1e9d89"/><stop offset="0.537" stop-color="#1f978b"/><stop offset="0.553" stop-color="#20928c"/><stop offset="0.568" stop-color="#228d8d"/><stop offset="0.584" stop-color="#23888e"/><stop offset="0.600" stop-color="#25838e"/><stop offset="0.616" stop-color="#277e8e"/><stop offset="0.632" stop-color="#2a778e"/><stop offset="0.647" stop-color="#2d708e"/><stop offset="0.663" stop-color="#30698e"/><stop offset="0.679" stop-color="#33628d"/><stop offset="0.695" stop-color="#38598c"/><stop offset="0.711" stop-color="#3d4e8a"/><stop offset="0.726" stop-color="#414487"/><stop offset="0.742" stop-color="#453882"/><stop offset="0.758" stop-color="#472a7a"/><stop offset="0.774" stop-color="#481b6d"/><stop offset="0.789" stop-color="#46085c"/><stop offset="0.805" stop-color="#440154"/><stop offset="0.995" stop-color="#440154"/></linearGradient><linearGradient id="hB10"><stop offset="0.000" stop-color="#3a538b"/><stop offset="0.016" stop-color="#355f8d"/><stop offset="0.032" stop-color="#31678e"/><stop offset="0.047" stop-color="#2e6f8e"/><stop offset="0.063" stop-color="#2a768e"/><stop offset="0.079" stop-color="#277e8e"/><stop offset="0.095" stop-color="#25838e"/><stop offset="0.111" stop-color="#23898e"/><stop offset="0.126" stop-color="#218f8d"/><stop offset="0.142" stop-color="#20938c"/><stop offset="0.158" stop-color="#1f9a8a"/><stop offset="0.174" stop-color="#1fa188"/><stop offset="0.189" stop-color="#21a685"/><stop offset="0.205" stop-color="#26ad81"/><stop offset="0.221" stop-color="#34b679"/><stop offset="0.237" stop-color="#4ac16d"/><stop offset="0.253" stop-color="#65cb5e"/><stop offset="0.268" stop-color="#81d34d"/><stop offset="0.284" stop-color="#a0da39"/><stop offset="0.300" stop-color="#c2df23"/><stop offset="0.316" stop-color="#dfe318"/><stop offset="0.332" stop-color="#f8e621"/><stop offset="0.347" stop-color="#efe51c"/><stop offset="0.363" stop-color="#d5e21a"/><stop offset="0.379" stop-color="#b8de29"/><stop offset="0.395" stop-color="#9bd93c"/><stop offset="0.411" stop-color="#7cd250"/><stop offset="0.426" stop-color="#63cb5f"/><stop offset="0.442" stop-color="#4ac16d"/><stop offset="0.458" stop-color="#35b779"/><stop offset="0.474" stop-color="#27ad81"/><stop offset="0.489" stop-color="#22a884"/><stop offset="0.505" stop-color="#1fa187"/><stop offset="0.521" stop-color="#1e9c89"/><stop offset="0.537" stop-color="#1f968b"/><stop offset="0.553" stop-color="#21918c"/><stop offset="0.568" stop-color="#228c8d"/><stop offset="0.584" stop-color="#24878e"/><stop offset="0.600" stop-color="#26828e"/><stop offset="0.616" stop-color="#287c8e"/><stop offset="0.632" stop-color="#2b748e"/><stop offset="0.647" stop-color="#2e6e8e"/><stop offset="0.663" stop-color="#31678e"/><stop offset="0.679" stop-color="#355e8d"/><stop offset="0.695" stop-color="#3a548c"/><stop offset="0.711" stop-color="#3e4989"/><stop offset="0.726" stop-color="#423f85"/><stop offset="0.742" stop-color="#46327e"/><stop offset="0.758" stop-color="#482374"/><stop offset="0.774" stop-color="#471164"/><stop offset="0.789" stop-color="#440154"/><stop offset="0.995" stop-color="#440154"/></linearGradient><linearGradient id="hB11"><stop offset="0.000" stop-color="#3c508b"/><stop offset="0.016" stop-color="#375b8d"/><stop offset="0.032" stop-color="#32658e"/><stop offset="0.047" stop-color="#2e6d8e"/><stop offset="0.063" stop-color="#2b748e"/><stop offset="0.079" stop-color="#287c8e"/><stop offset="0.095" stop-color="#26828e"/><stop offset="0.111" stop-color="#23888e"/><stop offset="0.126" stop-color="#218e8d"/><stop offset="0.142" stop-color="#20938c"/><stop offset="0.158" stop-color="#1f998a"/><stop offset="0.174" stop-color="#1fa088"/><stop offset="0.189" stop-color="#21a685"/><stop offset="0.205" stop-color="#26ad81"/><stop offset="0.221" stop-color="#32b67a"/><stop offset="0.237" stop-color="#48c16e"/><stop offset="0.253" stop-color="#63cb5f"/><stop offset="0.268" stop-color="#81d34d"/><stop offset="0.284" stop-color="#a0da39"/><stop offset="0.300" stop-color="#c0df25"/><stop offset="0.316" stop-color="#dde318"/><stop offset="0.332" stop-color="#f8e621"/><stop offset="0.347" stop-color="#ece51b"/><stop offset="0.363" stop-color="#d5e21a"/><stop offset="0.379" stop-color="#b8de29"/><stop offset="0.395" stop-color="#98d83e"/><stop offset="0.411" stop-color="#7cd250"/><stop offset="0.426" stop-color="#60ca60"/><stop offset="0.442" stop-color="#48c16e"/><stop offset="0.458" stop-color="#34b679"/><stop offset="0.474" stop-color="#27ad81"/><stop offset="0.489" stop-color="#22a785"/><stop offset="0.505" stop-color="#1fa187"/><stop offset="0.521" stop-color="#1e9b8a"/><stop offset="0.537" stop-color="#1f958b"/><stop offset="0.553" stop-color="#21908d"/><stop offset="0.568" stop-color="#228b8d"/><stop offset="0.584" stop-color="#25858e"/><stop offset="0.600" stop-color="#26818e"/><stop offset="0.616" stop-color="#297a8e"/><stop offset="0.632" stop-color="#2c728e"/><stop offset="0.647" stop-color="#2f6b8e"/><stop offset="0.663" stop-color="#32648e"/><stop offset="0.679" stop-color="#375b8d"/><stop offset="0.695" stop-color="#3c508b"/><stop offset="0.711" stop-color="#404588"/><stop offset="0.726" stop-color="#443a83"/><stop offset="0.742" stop-color="#472a7a"/><stop offset="0.758" stop-color="#481b6d"/><stop offset="0.774" stop-color="#46075a"/><stop offset="0.789" stop-color="#440154"/><stop offset="0.995" stop-color="#440154"/></linearGradient><linearGradient id="hB12"><stop offset="0.000" stop-color="#3e4c8a"/><stop offset="0.016" stop-color="#38588c"/><stop offset="0.032" stop-color="#33628d"/><stop offset="0.047" stop-color="#2f6b8e"/><stop offset="0.063" stop-color="#2c728e"/><stop offset="0.079" stop-color="#297a8e"/><stop offset="0.095" stop-color="#26828e"/><stop offset="0.111" stop-color="#24878e"/><stop offset="0.126" stop-color="#228d8d"/><stop offset="0.142" stop-color="#20928c"/><stop offset="0.158" stop-color="#1f988b"/><stop offset="0.174" stop-color="#1f9f88"/><stop offset="0.189" stop-color="#21a585"/><stop offset="0.205" stop-color="#25ac82"/><stop offset="0.221" stop-color="#31b57b"/><stop offset="0.237" stop-color="#46c06f"/><stop offset="0.253" stop-color="#60ca60"/><stop offset="0.268" stop-color="#7fd34e"/><stop offset="0.284" stop-color="#a0da39"/><stop offset="0.300" stop-color="#c0df25"/><stop offset="0.316" stop-color="#dde318"/><stop offset="0.332" stop-color="#f8e621"/><stop offset="0.347" stop-color="#ece51b"/><stop offset="0.363" stop-color="#d5e21a"/><stop offset="0.379" stop-color="#b5de2b"/><stop offset="0.395" stop-color="#98d83e"/><stop offset="0.411" stop-color="#7ad151"/><stop offset="0.426" stop-color="#5ec962"/><stop offset="0.442" stop-color="#46c06f"/><stop offset="0.458" stop-color="#32b67a"/><stop offset="0.474" stop-color="#26ad81"/><stop offset="0.489" stop-color="#21a685"/><stop offset="0.505" stop-color="#1fa188"/><stop offset="0.521" stop-color="#1f9a8a"/><stop offset="0.537" stop-color="#1f948c"/><stop offset="0.553" stop-color="#218f8d"/><stop offset="0.568" stop-color="#238a8d"/><stop offset="0.584" stop-color="#25848e"/><stop offset="0.600" stop-color="#277f8e"/><stop offset="0.616" stop-color="#2a778e"/><stop offset="0.632" stop-color="#2d718e"/><stop offset="0.647" stop-color="#30698e"/><stop offset="0.663" stop-color="#34618d"/><stop offset="0.679" stop-color="#39568c"/><stop offset="0.695" stop-color="#3e4c8a"/><stop offset="0.711" stop-color="#424086"/><stop offset="0.726" stop-color="#46337f"/><stop offset="0.742" stop-color="#482475"/><stop offset="0.758" stop-color="#471164"/><stop offset="0.774" stop-color="#440154"/><stop offset="0.995" stop-color="#440154"/></linearGradient><linearGradient id="hB13"><stop offset="0.000" stop-color="#3f4889"/><stop offset="0.016" stop-color="#3a538b"/><stop offset="0.032" stop-color="#355f8d"/><stop offset="0.047" stop-color="#31688e"/><stop offset="0.063" stop-color="#2d718e"/><stop offset="0.079" stop-color="#2a788e"/><stop offset="0.095" stop-color="#27808e"/><stop offset="0.111" stop-color="#24868e"/><stop offset="0.126" stop-color="#228c8d"/><stop offset="0.142" stop-color="#20928c"/><stop offset="0.158" stop-color="#1f978b"/><stop offset="0.174" stop-color="#1f9f88"/><stop offset="0.189" stop-color="#21a585"/><stop offset="0.205" stop-color="#25ac82"/><stop offset="0.221" stop-color="#2fb47c"/><stop offset="0.237" stop-color="#44bf70"/><stop offset="0.253" stop-color="#60ca60"/><stop offset="0.268" stop-color="#7fd34e"/><stop offset="0.284" stop-color="#9dd93b"/><stop offset="0.300" stop-color="#c0df25"/><stop offset="0.316" stop-color="#dde318"/><stop offset="0.332" stop-color="#f8e621"/><stop offset="0.347" stop-color="#ece51b"/><stop offset="0.363" stop-color="#d2e21b"/><stop offset="0.379" stop-color="#b5de2b"/><stop offset="0.395" stop-color="#95d840"/><stop offset="0.411" stop-color="#7ad151"/><stop offset="0.426" stop-color="#5cc863"/><stop offset="0.442" stop-color="#44bf70"/><stop offset="0.458" stop-color="#31b57b"/><stop offset="0.474" stop-color="#26ad81"/><stop offset="0.489" stop-color="#21a685"/><stop offset="0.505" stop-color="#1fa088"/><stop offset="0.521" stop-color="#1f998a"/><stop offset="0.537" stop-color="#20938c"/><stop offset="0.553" stop-color="#218e8d"/><stop offset="0.568" stop-color="#23898e"/><stop offset="0.584" stop-color="#25838e"/><stop offset="0.600" stop-color="#287d8e"/><stop offset="0.616" stop-color="#2b758e"/><stop offset="0.632" stop-color="#2e6e8e"/><stop offset="0.647" stop-color="#31668e"/><stop offset="0.663" stop-color="#365d8d"/><stop offset="0.679" stop-color="#3b528b"/><stop offset="0.695" stop-color="#3f4788"/><stop offset="0.711" stop-color="#443b84"/><stop offset="0.726" stop-color="#472d7b"/><stop offset="0.742" stop-color="#481c6e"/><stop offset="0.758" stop-color="#46075a"/><stop offset="0.774" stop-color="#440154"/><stop offset="0.995" stop-color="#440154"/></linearGradient><linearGradient id="hB14"><stop offset="0.000" stop-color="#414487"/><stop offset="0.016" stop-color="#3c508b"/><stop offset="0.032" stop-color="#365c8d"/><stop offset="0.047" stop-color="#31668e"/><stop offset="0.063" stop-color="#2e6e8e"/><stop offset="0.079" stop-color="#2a768e"/><stop offset="0.095" stop-color="#277e8e"/><stop offset="0.111" stop-color="#25858e"/><stop offset="0.126" stop-color="#228b8d"/><stop offset="0.142" stop-color="#21918c"/><stop offset="0.158" stop-color="#1f968b"/><stop offset="0.174" stop-color="#1f9e89"/><stop offset="0.189" stop-color="#20a486"/><stop offset="0.205" stop-color="#25ac82"/><stop offset="0.221" stop-color="#2eb37c"/><stop offset="0.237" stop-color="#44bf70"/><stop offset="0.253" stop-color="#5ec962"/><stop offset="0.268" stop-color="#7cd250"/><stop offset="0.284" stop-color="#9dd93b"/><stop offset="0.300" stop-color="#bddf26"/><stop offset="0.316" stop-color="#dde318"/><stop offset="0.332" stop-color="#f8e621"/><stop offset="0.347" stop-color="#ece51b"/><stop offset="0.363" stop-color="#d2e21b"/><stop offset="0.379" stop-color="#b5de2b"/><stop offset="0.395" stop-color="#95d840"/><stop offset="0.411" stop-color="#77d153"/><stop offset="0.426" stop-color="#5ac864"/><stop offset="0.442" stop-color="#42be71"/><stop offset="0.458" stop-color="#2eb37c"/><stop offset="0.474" stop-color="#25ac82"/><stop offset="0.489" stop-color="#21a585"/><stop offset="0.505" stop-color="#1f9f88"/><stop offset="0.521" stop-color="#1f988b"/><stop offset="0.537" stop-color="#20928c"/><stop offset="0.553" stop-color="#228d8d"/><stop offset="0.568" stop-color="#24878e"/><stop offset="0.584" stop-color="#26828e"/><stop offset="0.600" stop-color="#297b8e"/><stop offset="0.616" stop-color="#2c738e"/><stop offset="0.632" stop-color="#2f6c8e"/><stop offset="0.647" stop-color="#32648e"/><stop offset="0.663" stop-color="#375a8c"/><stop offset="0.679" stop-color="#3c4f8a"/><stop offset="0.695" stop-color="#414287"/><stop offset="0.711" stop-color="#453581"/><stop offset="0.726" stop-color="#482576"/><stop offset="0.742" stop-color="#471365"/><stop offset="0.758" stop-color="#440154"/><stop offset="0.995" stop-color="#440154"/></linearGradient><linearGradient id="hB15"><stop offset="0.000" stop-color="#423f85"/><stop offset="0.016" stop-color="#3e4c8a"/><stop offset="0.032" stop-color="#38588c"/><stop offset="0.047" stop-color="#33638d"/><stop offset="0.063" stop-color="#2f6c8e"/><stop offset="0.079" stop-color="#2b748e"/><stop offset="0.095" stop-color="#287d8e"/><stop offset="0.111" stop-color="#25838e"/><stop offset="0.126" stop-color="#238a8d"/><stop offset="0.142" stop-color="#21908d"/><stop offset="0.158" stop-color="#1f968b"/><stop offset="0.174" stop-color="#1e9d89"/><stop offset="0.189" stop-color="#20a486"/><stop offset="0.205" stop-color="#25ab82"/><stop offset="0.221" stop-color="#2db27d"/><stop offset="0.237" stop-color="#42be71"/><stop offset="0.253" stop-color="#5cc863"/><stop offset="0.268" stop-color="#7cd250"/><stop offset="0.284" stop-color="#9bd93c"/><stop offset="0.300" stop-color="#bddf26"/><stop offset="0.316" stop-color="#dde318"/><stop offset="0.332" stop-color="#f8e621"/><stop offset="0.347" stop-color="#ece51b"/><stop offset="0.363" stop-color="#d2e21b"/><stop offset="0.379" stop-color="#b2dd2d"/><stop offset="0.395" stop-color="#93d741"/><stop offset="0.411" stop-color="#75d054"/><stop offset="0.426" stop-color="#5ac864"/><stop offset="0.442" stop-color="#40bd72"/><stop offset="0.458" stop-color="#2db27d"/><stop offset="0.474" stop-color="#25ac82"/><stop offset="0.489" stop-color="#21a585"/><stop offset="0.505" stop-color="#1f9e89"/><stop offset="0.521" stop-color="#1f978b"/><stop offset="0.537" stop-color="#20928c"/><stop offset="0.553" stop-color="#228c8d"/><stop offset="0.568" stop-color="#24868e"/><stop offset="0.584" stop-color="#26818e"/><stop offset="0.600" stop-color="#29798e"/><stop offset="0.616" stop-color="#2d718e"/><stop offset="0.632" stop-color="#30698e"/><stop offset="0.647" stop-color="#34608d"/><stop offset="0.663" stop-color="#39558c"/><stop offset="0.679" stop-color="#3e4a89"/><stop offset="0.695" stop-color="#433e85"/><stop offset="0.711" stop-color="#472e7c"/><stop offset="0.726" stop-color="#481d6f"/><stop offset="0.742" stop-color="#46085c"/><stop offset="0.758" stop-color="#440154"/><stop offset="0.995" stop-color="#440154"/></linearGradient><linearGradient id="hB16"><stop offset="0.000" stop-color="#443a83"/><stop offset="0.016" stop-color="#3f4788"/><stop offset="0.032" stop-color="#3a548c"/><stop offset="0.047" stop-color="#34608d"/><stop offset="0.063" stop-color="#30698e"/><stop offset="0.079" stop-color="#2c728e"/><stop offset="0.095" stop-color="#297a8e"/><stop offset="0.111" stop-color="#26828e"/><stop offset="0.126" stop-color="#23898e"/><stop offset="0.142" stop-color="#218f8d"/><stop offset="0.158" stop-color="#1f958b"/><stop offset="0.174" stop-color="#1e9c89"/><stop offset="0.189" stop-color="#20a386"/><stop offset="0.205" stop-color="#25ab82"/><stop offset="0.221" stop-color="#2cb17e"/><stop offset="0.237" stop-color="#40bd72"/><stop offset="0.253" stop-color="#5ac864"/><stop offset="0.268" stop-color="#7ad151"/><stop offset="0.284" stop-color="#9bd93c"/><stop offset="0.300" stop-color="#bddf26"/><stop offset="0.316" stop-color="#dde318"/><stop offset="0.332" stop-color="#f8e621"/><stop offset="0.347" stop-color="#ece51b"/><stop offset="0.363" stop-color="#d2e21b"/><stop offset="0.379" stop-color="#b2dd2d"/><stop offset="0.395" stop-color="#93d741"/><stop offset="0.411" stop-color="#75d054"/><stop offset="0.426" stop-color="#58c765"/><stop offset="0.442" stop-color="#3fbc73"/><stop offset="0.458" stop-color="#2cb17e"/><stop offset="0.474" stop-color="#25ab82"/><stop offset="0.489" stop-color="#20a486"/><stop offset="0.505" stop-color="#1f9e89"/><stop offset="0.521" stop-color="#1f978b"/><stop offset="0.537" stop-color="#21918c"/><stop offset="0.553" stop-color="#228b8d"/><stop offset="0.568" stop-color="#25858e"/><stop offset="0.584" stop-color="#277f8e"/><stop offset="0.600" stop-color="#2a768e"/><stop offset="0.616" stop-color="#2e6f8e"/><stop offset="0.632" stop-color="#31668e"/><stop offset="0.647" stop-color="#365d8d"/><stop offset="0.663" stop-color="#3b518b"/><stop offset="0.679" stop-color="#404688"/><stop offset="0.695" stop-color="#453882"/><stop offset="0.711" stop-color="#482677"/><stop offset="0.726" stop-color="#481467"/><stop offset="0.742" stop-color="#440154"/><stop offset="0.995" stop-color="#440154"/></linearGradient><linearGradient id="hB17"><stop offset="0.000" stop-color="#463480"/><stop offset="0.016" stop-color="#414487"/><stop offset="0.032" stop-color="#3c508b"/><stop offset="0.047" stop-color="#365d8d"/><stop offset="0.063" stop-color="#31678e"/><stop offset="0.079" stop-color="#2d708e"/><stop offset="0.095" stop-color="#2a788e"/><stop offset="0.111" stop-color="#26818e"/><stop offset="0.126" stop-color="#24878e"/><stop offset="0.142" stop-color="#218e8d"/><stop offset="0.158" stop-color="#1f948c"/><stop offset="0.174" stop-color="#1e9b8a"/><stop offset="0.189" stop-color="#1fa287"/><stop offset="0.205" stop-color="#24aa83"/><stop offset="0.221" stop-color="#2cb17e"/><stop offset="0.237" stop-color="#3fbc73"/><stop offset="0.253" stop-color="#5ac864"/><stop offset="0.268" stop-color="#77d153"/><stop offset="0.284" stop-color="#9bd93c"/><stop offset="0.300" stop-color="#bddf26"/><stop offset="0.316" stop-color="#dde318"/><stop offset="0.332" stop-color="#f8e621"/><stop offset="0.347" stop-color="#ece51b"/><stop offset="0.363" stop-color="#d2e21b"/><stop offset="0.379" stop-color="#b2dd2d"/><stop offset="0.395" stop-color="#93d741"/><stop offset="0.411" stop-color="#73d056"/><stop offset="0.426" stop-color="#56c667"/><stop offset="0.442" stop-color="#3dbc74"/><stop offset="0.458" stop-color="#2cb17e"/><stop offset="0.474" stop-color="#25ab82"/><stop offset="0.489" stop-color="#20a386"/><stop offset="0.505" stop-color="#1e9d89"/><stop offset="0.521" stop-color="#1f968b"/><stop offset="0.537" stop-color="#21908d"/><stop offset="0.553" stop-color="#238a8d"/><stop offset="0.568" stop-color="#25838e"/><stop offset="0.584" stop-color="#287c8e"/><stop offset="0.600" stop-color="#2b748e"/><stop offset="0.616" stop-color="#2f6c8e"/><stop offset="0.632" stop-color="#33638d"/><stop offset="0.647" stop-color="#38598c"/><stop offset="0.663" stop-color="#3d4d8a"/><stop offset="0.679" stop-color="#424086"/><stop offset="0.695" stop-color="#46307e"/><stop offset="0.711" stop-color="#481f70"/><stop offset="0.726" stop-color="#460a5d"/><stop offset="0.742" stop-color="#440154"/><stop offset="0.995" stop-color="#440154"/></linearGradient><linearGradient id="hB18"><stop offset="0.000" stop-color="#472d7b"/><stop offset="0.016" stop-color="#423f85"/><stop offset="0.032" stop-color="#3e4c8a"/><stop offset="0.047" stop-color="#38598c"/><stop offset="0.063" stop-color="#32648e"/><stop offset="0.079" stop-color="#2e6e8e"/><stop offset="0.095" stop-color="#2a768e"/><stop offset="0.111" stop-color="#277f8e"/><stop offset="0.126" stop-color="#24868e"/><stop offset="0.142" stop-color="#228d8d"/><stop offset="0.158" stop-color="#20938c"/><stop offset="0.174" stop-color="#1f9a8a"/><stop offset="0.189" stop-color="#1fa287"/><stop offset="0.205" stop-color="#24aa83"/><stop offset="0.221" stop-color="#2cb17e"/><stop offset="0.237" stop-color="#3dbc74"/><stop offset="0.253" stop-color="#58c765"/><stop offset="0.268" stop-color="#77d153"/><stop offset="0.284" stop-color="#98d83e"/><stop offset="0.300" stop-color="#bade28"/><stop offset="0.316" stop-color="#dde318"/><stop offset="0.332" stop-color="#f8e621"/><stop offset="0.347" stop-color="#ece51b"/><stop offset="0.363" stop-color="#d0e11c"/><stop offset="0.379" stop-color="#b0dd2f"/><stop offset="0.395" stop-color="#90d743"/><stop offset="0.411" stop-color="#70cf57"/><stop offset="0.426" stop-color="#54c568"/><stop offset="0.442" stop-color="#3bbb75"/><stop offset="0.458" stop-color="#2cb17e"/><stop offset="0.474" stop-color="#24aa83"/><stop offset="0.489" stop-color="#1fa287"/><stop offset="0.505" stop-color="#1e9c89"/><stop offset="0.521" stop-color="#1f958b"/><stop offset="0.537" stop-color="#218f8d"/><stop offset="0.553" stop-color="#23888e"/><stop offset="0.568" stop-color="#26828e"/><stop offset="0.584" stop-color="#297a8e"/><stop offset="0.600" stop-color="#2c718e"/><stop offset="0.616" stop-color="#30698e"/><stop offset="0.632" stop-color="#34608d"/><stop offset="0.647" stop-color="#3a548c"/><stop offset="0.663" stop-color="#3f4889"/><stop offset="0.679" stop-color="#443b84"/><stop offset="0.695" stop-color="#482979"/><stop offset="0.711" stop-color="#481769"/><stop offset="0.726" stop-color="#440154"/><stop offset="0.995" stop-color="#440154"/></linearGradient><linearGradient id="hB19"><stop offset="0.000" stop-color="#482576"/><stop offset="0.016" stop-color="#443983"/><stop offset="0.032" stop-color="#3f4889"/><stop offset="0.047" stop-color="#39558c"/><stop offset="0.063" stop-color="#34618d"/><stop offset="0.079" stop-color="#2f6b8e"/><stop offset="0.095" stop-color="#2b748e"/><stop offset="0.111" stop-color="#287d8e"/><stop offset="0.126" stop-color="#25858e"/><stop offset="0.142" stop-color="#228c8d"/><stop offset="0.158" stop-color="#20928c"/><stop offset="0.174" stop-color="#1f9a8a"/><stop offset="0.189" stop-color="#1fa187"/><stop offset="0.205" stop-color="#23a983"/><stop offset="0.221" stop-color="#2ab07f"/><stop offset="0.237" stop-color="#3bbb75"/><stop offset="0.253" stop-color="#56c667"/><stop offset="0.268" stop-color="#75d054"/><stop offset="0.284" stop-color="#98d83e"/><stop offset="0.300" stop-color="#bade28"/><stop offset="0.316" stop-color="#dae319"/><stop offset="0.332" stop-color="#f8e621"/><stop offset="0.347" stop-color="#ece51b"/><stop offset="0.363" stop-color="#d0e11c"/><stop offset="0.379" stop-color="#b0dd2f"/><stop offset="0.395" stop-color="#90d743"/><stop offset="0.411" stop-color="#6ece58"/><stop offset="0.426" stop-color="#52c569"/><stop offset="0.442" stop-color="#3aba76"/><stop offset="0.458" stop-color="#2ab07f"/><stop offset="0.474" stop-color="#23a983"/><stop offset="0.489" stop-color="#1fa187"/><stop offset="0.505" stop-color="#1e9b8a"/><stop offset="0.521" stop-color="#1f948c"/><stop offset="0.537" stop-color="#218e8d"/><stop offset="0.553" stop-color="#24878e"/><stop offset="0.568" stop-color="#26818e"/><stop offset="0.584" stop-color="#2a788e"/><stop offset="0.600" stop-color="#2d708e"/><stop offset="0.616" stop-color="#31678e"/><stop offset="0.632" stop-color="#365c8d"/><stop offset="0.647" stop-color="#3c508b"/><stop offset="0.663" stop-color="#414487"/><stop offset="0.679" stop-color="#463480"/><stop offset="0.695" stop-color="#482173"/><stop offset="0.711" stop-color="#460b5e"/><stop offset="0.726" stop-color="#440154"/><stop offset="0.995" stop-color="#440154"/></linearGradient><linearGradient id="hB20"><stop offset="0.000" stop-color="#481d6f"/><stop offset="0.016" stop-color="#46337f"/><stop offset="0.032" stop-color="#414487"/><stop offset="0.047" stop-color="#3b518b"/><stop offset="0.063" stop-color="#355e8d"/><stop offset="0.079" stop-color="#30698e"/><stop offset="0.095" stop-color="#2c728e"/><stop offset="0.111" stop-color="#297b8e"/><stop offset="0.126" stop-color="#25838e"/><stop offset="0.142" stop-color="#228b8d"/><stop offset="0.158" stop-color="#20928c"/><stop offset="0.174" stop-color="#1f998a"/><stop offset="0.189" stop-color="#1fa188"/><stop offset="0.205" stop-color="#22a884"/><stop offset="0.221" stop-color="#2ab07f"/><stop offset="0.237" stop-color="#3aba76"/><stop offset="0.253" stop-color="#54c568"/><stop offset="0.268" stop-color="#75d054"/><stop offset="0.284" stop-color="#98d83e"/><stop offset="0.300" stop-color="#bade28"/><stop offset="0.316" stop-color="#dae319"/><stop offset="0.332" stop-color="#f8e621"/><stop offset="0.347" stop-color="#ece51b"/><stop offset="0.363" stop-color="#d0e11c"/><stop offset="0.379" stop-color="#b0dd2f"/><stop offset="0.395" stop-color="#8ed645"/><stop offset="0.411" stop-color="#6ece58"/><stop offset="0.426" stop-color="#50c46a"/><stop offset="0.442" stop-color="#38b977"/><stop offset="0.458" stop-color="#2ab07f"/><stop offset="0.474" stop-color="#23a983"/><stop offset="0.489" stop-color="#1fa187"/><stop offset="0.505" stop-color="#1f9a8a"/><stop offset="0.521" stop-color="#20938c"/><stop offset="0.537" stop-color="#228d8d"/><stop offset="0.553" stop-color="#25858e"/><stop offset="0.568" stop-color="#277e8e"/><stop offset="0.584" stop-color="#2b758e"/><stop offset="0.600" stop-color="#2e6d8e"/><stop offset="0.616" stop-color="#32648e"/><stop offset="0.632" stop-color="#38598c"/><stop offset="0.647" stop-color="#3e4c8a"/><stop offset="0.663" stop-color="#423f85"/><stop offset="0.679" stop-color="#472d7b"/><stop offset="0.695" stop-color="#481a6c"/><stop offset="0.711" stop-color="#440154"/><stop offset="0.995" stop-color="#440154"/></linearGradient><linearGradient id="hB21"><stop offset="0.000" stop-color="#481668"/><stop offset="0.016" stop-color="#472c7a"/><stop offset="0.032" stop-color="#423f85"/><stop offset="0.047" stop-color="#3d4d8a"/><stop offset="0.063" stop-color="#375a8c"/><stop offset="0.079" stop-color="#31668e"/><stop offset="0.095" stop-color="#2d708e"/><stop offset="0.111" stop-color="#29798e"/><stop offset="0.126" stop-color="#26828e"/><stop offset="0.142" stop-color="#238a8d"/><stop offset="0.158" stop-color="#21918c"/><stop offset="0.174" stop-color="#1f988b"/><stop offset="0.189" stop-color="#1fa088"/><stop offset="0.205" stop-color="#22a884"/><stop offset="0.221" stop-color="#29af7f"/><stop offset="0.237" stop-color="#38b977"/><stop offset="0.253" stop-color="#54c568"/><stop offset="0.268" stop-color="#73d056"/><stop offset="0.284" stop-color="#95d840"/><stop offset="0.300" stop-color="#b8de29"/><stop offset="0.316" stop-color="#dae319"/><stop offset="0.332" stop-color="#f6e620"/><stop offset="0.347" stop-color="#ece51b"/><stop offset="0.363" stop-color="#d0e11c"/><stop offset="0.379" stop-color="#addc30"/><stop offset="0.395" stop-color="#8ed645"/><stop offset="0.411" stop-color="#6ccd5a"/><stop offset="0.426" stop-color="#4ec36b"/><stop offset="0.442" stop-color="#37b878"/><stop offset="0.458" stop-color="#29af7f"/><stop offset="0.474" stop-color="#22a884"/><stop offset="0.489" stop-color="#1fa188"/><stop offset="0.505" stop-color="#1f998a"/><stop offset="0.521" stop-color="#20928c"/><stop offset="0.537" stop-color="#228b8d"/><stop offset="0.553" stop-color="#25848e"/><stop offset="0.568" stop-color="#287c8e"/><stop offset="0.584" stop-color="#2c738e"/><stop offset="0.600" stop-color="#306a8e"/><stop offset="0.616" stop-color="#34608d"/><stop offset="0.632" stop-color="#3a548c"/><stop offset="0.647" stop-color="#3f4788"/><stop offset="0.663" stop-color="#453882"/><stop offset="0.679" stop-color="#482576"/><stop offset="0.695" stop-color="#470e61"/><stop offset="0.711" stop-color="#440154"/><stop offset="0.995" stop-color="#440154"/></linearGradient><linearGradient id="hB22"><stop offset="0.000" stop-color="#460b5e"/><stop offset="0.016" stop-color="#482475"/><stop offset="0.032" stop-color="#443983"/><stop offset="0.047" stop-color="#3f4889"/><stop offset="0.063" stop-color="#39568c"/><stop offset="0.079" stop-color="#33638d"/><stop offset="0.095" stop-color="#2e6e8e"/><stop offset="0.111" stop-color="#2a778e"/><stop offset="0.126" stop-color="#26818e"/><stop offset="0.142" stop-color="#23888e"/><stop offset="0.158" stop-color="#21908d"/><stop offset="0.174" stop-color="#1f978b"/><stop offset="0.189" stop-color="#1f9f88"/><stop offset="0.205" stop-color="#22a785"/><stop offset="0.221" stop-color="#29af7f"/><stop offset="0.237" stop-color="#37b878"/><stop offset="0.253" stop-color="#52c569"/><stop offset="0.268" stop-color="#70cf57"/><stop offset="0.284" stop-color="#95d840"/><stop offset="0.300" stop-color="#b8de29"/><stop offset="0.316" stop-color="#dae319"/><stop offset="0.332" stop-color="#f6e620"/><stop offset="0.347" stop-color="#ece51b"/><stop offset="0.363" stop-color="#cde11d"/><stop offset="0.379" stop-color="#addc30"/><stop offset="0.395" stop-color="#8bd646"/><stop offset="0.411" stop-color="#69cd5b"/><stop offset="0.426" stop-color="#4cc26c"/><stop offset="0.442" stop-color="#34b679"/><stop offset="0.458" stop-color="#28ae80"/><stop offset="0.474" stop-color="#22a785"/><stop offset="0.489" stop-color="#1fa088"/><stop offset="0.505" stop-color="#1f988b"/><stop offset="0.521" stop-color="#21918c"/><stop offset="0.537" stop-color="#238a8d"/><stop offset="0.553" stop-color="#26828e"/><stop offset="0.568" stop-color="#297a8e"/><stop offset="0.584" stop-color="#2d718e"/><stop offset="0.600" stop-color="#31678e"/><stop offset="0.616" stop-color="#365c8d"/><stop offset="0.632" stop-color="#3c508b"/><stop offset="0.647" stop-color="#414287"/><stop offset="0.663" stop-color="#46307e"/><stop offset="0.679" stop-color="#481c6e"/><stop offset="0.695" stop-color="#440256"/><stop offset="0.711" stop-color="#440154"/><stop offset="0.995" stop-color="#440154"/></linearGradient><linearGradient id="hB23"><stop offset="0.000" stop-color="#440154"/><stop offset="0.016" stop-color="#481c6e"/><stop offset="0.032" stop-color="#46327e"/><stop offset="0.047" stop-color="#404588"/><stop offset="0.063" stop-color="#3b528b"/><stop offset="0.079" stop-color="#34608d"/><stop offset="0.095" stop-color="#2f6b8e"/><stop offset="0.111" stop-color="#2b748e"/><stop offset="0.126" stop-color="#277f8e"/><stop offset="0.142" stop-color="#24878e"/><stop offset="0.158" stop-color="#218f8d"/><stop offset="0.174" stop-color="#1f968b"/><stop offset="0.189" stop-color="#1f9e89"/><stop offset="0.205" stop-color="#21a685"/><stop offset="0.221" stop-color="#28ae80"/><stop offset="0.237" stop-color="#35b779"/><stop offset="0.253" stop-color="#50c46a"/><stop offset="0.268" stop-color="#70cf57"/><stop offset="0.284" stop-color="#93d741"/><stop offset="0.300" stop-color="#b8de29"/><stop offset="0.316" stop-color="#dae319"/><stop offset="0.332" stop-color="#f6e620"/><stop offset="0.347" stop-color="#eae51a"/><stop offset="0.363" stop-color="#cde11d"/><stop offset="0.379" stop-color="#aadc32"/><stop offset="0.395" stop-color="#89d548"/><stop offset="0.411" stop-color="#67cc5c"/><stop offset="0.426" stop-color="#4ac16d"/><stop offset="0.442" stop-color="#32b67a"/><stop offset="0.458" stop-color="#28ae80"/><stop offset="0.474" stop-color="#21a685"/><stop offset="0.489" stop-color="#1f9f88"/><stop offset="0.505" stop-color="#1f978b"/><stop offset="0.521" stop-color="#21908d"/><stop offset="0.537" stop-color="#23888e"/><stop offset="0.553" stop-color="#26818e"/><stop offset="0.568" stop-color="#2a778e"/><stop offset="0.584" stop-color="#2e6e8e"/><stop offset="0.600" stop-color="#32648e"/><stop offset="0.616" stop-color="#38598c"/><stop offset="0.632" stop-color="#3e4c8a"/><stop offset="0.647" stop-color="#433e85"/><stop offset="0.663" stop-color="#482979"/><stop offset="0.679" stop-color="#471365"/><stop offset="0.695" stop-color="#440154"/><stop offset="0.995" stop-color="#440154"/></linearGradient><linearGradient id="hB24"><stop offset="0.000" stop-color="#440154"/><stop offset="0.016" stop-color="#471365"/><stop offset="0.032" stop-color="#472a7a"/><stop offset="0.047" stop-color="#424086"/><stop offset="0.063" stop-color="#3c4f8a"/><stop offset="0.079" stop-color="#365c8d"/><stop offset="0.095" stop-color="#31688e"/><stop offset="0.111" stop-color="#2c728e"/><stop offset="0.126" stop-color="#287d8e"/><stop offset="0.142" stop-color="#25858e"/><stop offset="0.158" stop-color="#218e8d"/><stop offset="0.174" stop-color="#1f958b"/><stop offset="0.189" stop-color="#1e9d89"/><stop offset="0.205" stop-color="#21a685"/><stop offset="0.221" stop-color="#28ae80"/><stop offset="0.237" stop-color="#34b679"/><stop offset="0.253" stop-color="#4ec36b"/><stop offset="0.268" stop-color="#6ece58"/><stop offset="0.284" stop-color="#93d741"/><stop offset="0.300" stop-color="#b8de29"/><stop offset="0.316" stop-color="#dae319"/><stop offset="0.332" stop-color="#f6e620"/><stop offset="0.347" stop-color="#eae51a"/><stop offset="0.363" stop-color="#cde11d"/><stop offset="0.379" stop-color="#aadc32"/><stop offset="0.395" stop-color="#89d548"/><stop offset="0.411" stop-color="#67cc5c"/><stop offset="0.426" stop-color="#48c16e"/><stop offset="0.442" stop-color="#32b67a"/><stop offset="0.458" stop-color="#27ad81"/><stop offset="0.474" stop-color="#21a585"/><stop offset="0.489" stop-color="#1e9d89"/><stop offset="0.505" stop-color="#1f958b"/><stop offset="0.521" stop-color="#218f8d"/><stop offset="0.537" stop-color="#24878e"/><stop offset="0.553" stop-color="#277f8e"/><stop offset="0.568" stop-color="#2b758e"/><stop offset="0.584" stop-color="#2f6c8e"/><stop offset="0.600" stop-color="#34618d"/><stop offset="0.616" stop-color="#3a548c"/><stop offset="0.632" stop-color="#404688"/><stop offset="0.647" stop-color="#453581"/><stop offset="0.663" stop-color="#482071"/><stop offset="0.679" stop-color="#46075a"/><stop offset="0.695" stop-color="#440154"/><stop offset="0.995" stop-color="#440154"/></linearGradient><linearGradient id="hB25"><stop offset="0.000" stop-color="#440154"/><stop offset="0.016" stop-color="#46085c"/><stop offset="0.032" stop-color="#482374"/><stop offset="0.047" stop-color="#443a83"/><stop offset="0.063" stop-color="#3e4a89"/><stop offset="0.079" stop-color="#38598c"/><stop offset="0.095" stop-color="#31668e"/><stop offset="0.111" stop-color="#2d718e"/><stop offset="0.126" stop-color="#297a8e"/><stop offset="0.142" stop-color="#25848e"/><stop offset="0.158" stop-color="#228c8d"/><stop offset="0.174" stop-color="#1f948c"/><stop offset="0.189" stop-color="#1e9c89"/><stop offset="0.205" stop-color="#21a585"/><stop offset="0.221" stop-color="#27ad81"/><stop offset="0.237" stop-color="#34b679"/><stop offset="0.253" stop-color="#4cc26c"/><stop offset="0.268" stop-color="#6ece58"/><stop offset="0.284" stop-color="#93d741"/><stop offset="0.300" stop-color="#b5de2b"/><stop offset="0.316" stop-color="#dae319"/><stop offset="0.332" stop-color="#f6e620"/><stop offset="0.347" stop-color="#eae51a"/><stop offset="0.363" stop-color="#cde11d"/><stop offset="0.379" stop-color="#aadc32"/><stop offset="0.395" stop-color="#86d549"/><stop offset="0.411" stop-color="#65cb5e"/><stop offset="0.426" stop-color="#46c06f"/><stop offset="0.442" stop-color="#31b57b"/><stop offset="0.458" stop-color="#26ad81"/><stop offset="0.474" stop-color="#20a486"/><stop offset="0.489" stop-color="#1e9c89"/><stop offset="0.505" stop-color="#1f948c"/><stop offset="0.521" stop-color="#228d8d"/><stop offset="0.537" stop-color="#25858e"/><stop offset="0.553" stop-color="#287c8e"/><stop offset="0.568" stop-color="#2c728e"/><stop offset="0.584" stop-color="#30698e"/><stop offset="0.600" stop-color="#365d8d"/><stop offset="0.616" stop-color="#3c508b"/><stop offset="0.632" stop-color="#424186"/><stop offset="0.647" stop-color="#472e7c"/><stop offset="0.663" stop-color="#481769"/><stop offset="0.679" stop-color="#440154"/><stop offset="0.995" stop-color="#440154"/></linearGradient><linearGradient id="hB26"><stop offset="0.000" stop-color="#440154"/><stop offset="0.016" stop-color="#440154"/><stop offset="0.032" stop-color="#481b6d"/><stop offset="0.047" stop-color="#46337f"/><stop offset="0.063" stop-color="#404688"/><stop offset="0.079" stop-color="#3a548c"/><stop offset="0.095" stop-color="#33628d"/><stop offset="0.111" stop-color="#2e6e8e"/><stop offset="0.126" stop-color="#2a788e"/><stop offset="0.142" stop-color="#26828e"/><stop offset="0.158" stop-color="#228b8d"/><stop offset="0.174" stop-color="#20938c"/><stop offset="0.189" stop-color="#1e9b8a"/><stop offset="0.205" stop-color="#20a486"/><stop offset="0.221" stop-color="#27ad81"/><stop offset="0.237" stop-color="#32b67a"/><stop offset="0.253" stop-color="#4ac16d"/><stop offset="0.268" stop-color="#6ccd5a"/><stop offset="0.284" stop-color="#90d743"/><stop offset="0.300" stop-color="#b5de2b"/><stop offset="0.316" stop-color="#d8e219"/><stop offset="0.332" stop-color="#f6e620"/><stop offset="0.347" stop-color="#eae51a"/><stop offset="0.363" stop-color="#cae11f"/><stop offset="0.379" stop-color="#a8db34"/><stop offset="0.395" stop-color="#86d549"/><stop offset="0.411" stop-color="#63cb5f"/><stop offset="0.426" stop-color="#44bf70"/><stop offset="0.442" stop-color="#31b57b"/><stop offset="0.458" stop-color="#26ad81"/><stop offset="0.474" stop-color="#20a386"/><stop offset="0.489" stop-color="#1e9b8a"/><stop offset="0.505" stop-color="#20938c"/><stop offset="0.521" stop-color="#228c8d"/><stop offset="0.537" stop-color="#25838e"/><stop offset="0.553" stop-color="#297a8e"/><stop offset="0.568" stop-color="#2d708e"/><stop offset="0.584" stop-color="#31668e"/><stop offset="0.600" stop-color="#38598c"/><stop offset="0.616" stop-color="#3e4c8a"/><stop offset="0.632" stop-color="#443b84"/><stop offset="0.647" stop-color="#482576"/><stop offset="0.663" stop-color="#470d60"/><stop offset="0.679" stop-color="#440154"/><stop offset="0.995" stop-color="#440154"/></linearGradient><linearGradient id="hB27"><stop offset="0.000" stop-color="#440154"/><stop offset="0.016" stop-color="#440154"/><stop offset="0.032" stop-color="#471164"/><stop offset="0.047" stop-color="#472c7a"/><stop offset="0.063" stop-color="#424186"/><stop offset="0.079" stop-color="#3b518b"/><stop offset="0.095" stop-color="#355f8d"/><stop offset="0.111" stop-color="#2f6b8e"/><stop offset="0.126" stop-color="#2a768e"/><stop offset="0.142" stop-color="#26818e"/><stop offset="0.158" stop-color="#238a8d"/><stop offset="0.174" stop-color="#20928c"/><stop offset="0.189" stop-color="#1f9a8a"/><stop offset="0.205" stop-color="#20a386"/><stop offset="0.221" stop-color="#26ad81"/><stop offset="0.237" stop-color="#32b67a"/><stop offset="0.253" stop-color="#4ac16d"/><stop offset="0.268" stop-color="#69cd5b"/><stop offset="0.284" stop-color="#90d743"/><stop offset="0.300" stop-color="#b5de2b"/><stop offset="0.316" stop-color="#d8e219"/><stop offset="0.332" stop-color="#f6e620"/><stop offset="0.347" stop-color="#eae51a"/><stop offset="0.363" stop-color="#cae11f"/><stop offset="0.379" stop-color="#a8db34"/><stop offset="0.395" stop-color="#84d44b"/><stop offset="0.411" stop-color="#60ca60"/><stop offset="0.426" stop-color="#42be71"/><stop offset="0.442" stop-color="#2fb47c"/><stop offset="0.458" stop-color="#25ac82"/><stop offset="0.474" stop-color="#1fa287"/><stop offset="0.489" stop-color="#1f9a8a"/><stop offset="0.505" stop-color="#20928c"/><stop offset="0.521" stop-color="#238a8d"/><stop offset="0.537" stop-color="#26828e"/><stop offset="0.553" stop-color="#2a778e"/><stop offset="0.568" stop-color="#2e6d8e"/><stop offset="0.584" stop-color="#33628d"/><stop offset="0.600" stop-color="#3a548c"/><stop offset="0.616" stop-color="#404688"/><stop offset="0.632" stop-color="#463480"/><stop offset="0.647" stop-color="#481c6e"/><stop offset="0.663" stop-color="#440154"/><stop offset="0.995" stop-color="#440154"/></linearGradient><linearGradient id="hB28"><stop offset="0.000" stop-color="#440154"/><stop offset="0.016" stop-color="#440154"/><stop offset="0.032" stop-color="#46075a"/><stop offset="0.047" stop-color="#482374"/><stop offset="0.063" stop-color="#443b84"/><stop offset="0.079" stop-color="#3d4d8a"/><stop offset="0.095" stop-color="#365c8d"/><stop offset="0.111" stop-color="#30698e"/><stop offset="0.126" stop-color="#2c738e"/><stop offset="0.142" stop-color="#277f8e"/><stop offset="0.158" stop-color="#23888e"/><stop offset="0.174" stop-color="#21918c"/><stop offset="0.189" stop-color="#1f998a"/><stop offset="0.205" stop-color="#1fa287"/><stop offset="0.221" stop-color="#25ac82"/><stop offset="0.237" stop-color="#31b57b"/><stop offset="0.253" stop-color="#48c16e"/><stop offset="0.268" stop-color="#67cc5c"/><stop offset="0.284" stop-color="#8ed645"/><stop offset="0.300" stop-color="#b2dd2d"/><stop offset="0.316" stop-color="#d8e219"/><stop offset="0.332" stop-color="#f6e620"/><stop offset="0.347" stop-color="#eae51a"/><stop offset="0.363" stop-color="#cae11f"/><stop offset="0.379" stop-color="#a5db36"/><stop offset="0.395" stop-color="#81d34d"/><stop offset="0.411" stop-color="#5ec962"/><stop offset="0.426" stop-color="#40bd72"/><stop offset="0.442" stop-color="#2fb47c"/><stop offset="0.458" stop-color="#25ab82"/><stop offset="0.474" stop-color="#1fa187"/><stop offset="0.489" stop-color="#1f998a"/><stop offset="0.505" stop-color="#21918c"/><stop offset="0.521" stop-color="#23888e"/><stop offset="0.537" stop-color="#27808e"/><stop offset="0.553" stop-color="#2b758e"/><stop offset="0.568" stop-color="#2f6b8e"/><stop offset="0.584" stop-color="#355e8d"/><stop offset="0.600" stop-color="#3c508b"/><stop offset="0.616" stop-color="#424186"/><stop offset="0.632" stop-color="#472c7a"/><stop offset="0.647" stop-color="#471365"/><stop offset="0.663" stop-color="#440154"/><stop offset="0.995" stop-color="#440154"/></linearGradient><linearGradient id="hB29"><stop offset="0.000" stop-color="#440154"/><stop offset="0.032" stop-color="#440154"/><stop offset="0.047" stop-color="#481b6d"/><stop offset="0.063" stop-color="#463480"/><stop offset="0.079" stop-color="#3f4889"/><stop offset="0.095" stop-color="#38588c"/><stop offset="0.111" stop-color="#31668e"/><stop offset="0.126" stop-color="#2c718e"/><stop offset="0.142" stop-color="#287c8e"/><stop offset="0.158" stop-color="#24868e"/><stop offset="0.174" stop-color="#21908d"/><stop offset="0.189" stop-color="#1f988b"/><stop offset="0.205" stop-color="#1fa187"/><stop offset="0.221" stop-color="#25ac82"/><stop offset="0.237" stop-color="#31b57b"/><stop offset="0.253" stop-color="#46c06f"/><stop offset="0.268" stop-color="#67cc5c"/><stop offset="0.284" stop-color="#8ed645"/><stop offset="0.300" stop-color="#b2dd2d"/><stop offset="0.316" stop-color="#d8e219"/><stop offset="0.332" stop-color="#f6e620"/><stop offset="0.347" stop-color="#eae51a"/><stop offset="0.363" stop-color="#cae11f"/><stop offset="0.379" stop-color="#a5db36"/><stop offset="0.395" stop-color="#81d34d"/><stop offset="0.411" stop-color="#5ec962"/><stop offset="0.426" stop-color="#3fbc73"/><stop offset="0.442" stop-color="#2eb37c"/><stop offset="0.458" stop-color="#24aa83"/><stop offset="0.474" stop-color="#1fa188"/><stop offset="0.489" stop-color="#1f988b"/><stop offset="0.505" stop-color="#21908d"/><stop offset="0.521" stop-color="#24878e"/><stop offset="0.537" stop-color="#287d8e"/><stop offset="0.553" stop-color="#2c728e"/><stop offset="0.568" stop-color="#31688e"/><stop offset="0.584" stop-color="#375b8d"/><stop offset="0.600" stop-color="#3e4c8a"/><stop offset="0.616" stop-color="#443b84"/><stop offset="0.632" stop-color="#482374"/><stop offset="0.647" stop-color="#46075a"/><stop offset="0.663" stop-color="#440154"/><stop offset="0.995" stop-color="#440154"/></linearGradient><linearGradient id="hB30"><stop offset="0.000" stop-color="#440154"/><stop offset="0.032" stop-color="#440154"/><stop offset="0.047" stop-color="#471164"/><stop offset="0.063" stop-color="#472d7b"/><stop offset="0.079" stop-color="#414487"/><stop offset="0.095" stop-color="#3a538b"/><stop offset="0.111" stop-color="#33628d"/><stop offset="0.126" stop-color="#2e6f8e"/><stop offset="0.142" stop-color="#297a8e"/><stop offset="0.158" stop-color="#25858e"/><stop offset="0.174" stop-color="#218f8d"/><stop offset="0.189" stop-color="#1f978b"/><stop offset="0.205" stop-color="#1fa188"/><stop offset="0.221" stop-color="#25ab82"/><stop offset="0.237" stop-color="#2fb47c"/><stop offset="0.253" stop-color="#44bf70"/><stop offset="0.268" stop-color="#65cb5e"/><stop offset="0.284" stop-color="#8bd646"/><stop offset="0.300" stop-color="#b2dd2d"/><stop offset="0.316" stop-color="#d8e219"/><stop offset="0.332" stop-color="#f6e620"/><stop offset="0.347" stop-color="#eae51a"/><stop offset="0.363" stop-color="#c8e020"/><stop offset="0.379" stop-color="#a5db36"/><stop offset="0.395" stop-color="#7fd34e"/><stop offset="0.411" stop-color="#5cc863"/><stop offset="0.426" stop-color="#3dbc74"/><stop offset="0.442" stop-color="#2db27d"/><stop offset="0.458" stop-color="#23a983"/><stop offset="0.474" stop-color="#1fa088"/><stop offset="0.489" stop-color="#1f968b"/><stop offset="0.505" stop-color="#218e8d"/><stop offset="0.521" stop-color="#25858e"/><stop offset="0.537" stop-color="#297b8e"/><stop offset="0.553" stop-color="#2d708e"/><stop offset="0.568" stop-color="#32648e"/><stop offset="0.584" stop-color="#39568c"/><stop offset="0.600" stop-color="#3f4788"/><stop offset="0.616" stop-color="#46337f"/><stop offset="0.632" stop-color="#481a6c"/><stop offset="0.647" stop-color="#440154"/><stop offset="0.995" stop-color="#440154"/></linearGradient><linearGradient id="hB31"><stop offset="0.000" stop-color="#440154"/><stop offset="0.032" stop-color="#440154"/><stop offset="0.047" stop-color="#450559"/><stop offset="0.063" stop-color="#482576"/><stop offset="0.079" stop-color="#423f85"/><stop offset="0.095" stop-color="#3c508b"/><stop offset="0.111" stop-color="#355f8d"/><stop offset="0.126" stop-color="#2f6c8e"/><stop offset="0.142" stop-color="#2a788e"/><stop offset="0.158" stop-color="#25838e"/><stop offset="0.174" stop-color="#228d8d"/><stop offset="0.189" stop-color="#1f968b"/><stop offset="0.205" stop-color="#1fa088"/><stop offset="0.221" stop-color="#24aa83"/><stop offset="0.237" stop-color="#2fb47c"/><stop offset="0.253" stop-color="#42be71"/><stop offset="0.268" stop-color="#63cb5f"/><stop offset="0.284" stop-color="#8bd646"/><stop offset="0.300" stop-color="#b0dd2f"/><stop offset="0.316" stop-color="#d8e219"/><stop offset="0.332" stop-color="#f6e620"/><stop offset="0.347" stop-color="#eae51a"/><stop offset="0.363" stop-color="#c8e020"/><stop offset="0.379" stop-color="#a2da37"/><stop offset="0.395" stop-color="#7cd250"/><stop offset="0.411" stop-color="#5ac864"/><stop offset="0.426" stop-color="#3bbb75"/><stop offset="0.442" stop-color="#2db27d"/><stop offset="0.458" stop-color="#22a884"/><stop offset="0.474" stop-color="#1f9f88"/><stop offset="0.489" stop-color="#1f958b"/><stop offset="0.505" stop-color="#228d8d"/><stop offset="0.521" stop-color="#25838e"/><stop offset="0.537" stop-color="#2a788e"/><stop offset="0.553" stop-color="#2e6d8e"/><stop offset="0.568" stop-color="#34618d"/><stop offset="0.584" stop-color="#3b528b"/><stop offset="0.600" stop-color="#414287"/><stop offset="0.616" stop-color="#472a7a"/><stop offset="0.632" stop-color="#470e61"/><stop offset="0.647" stop-color="#440154"/><stop offset="0.995" stop-color="#440154"/></linearGradient><linearGradient id="hB32"><stop offset="0.000" stop-color="#440154"/><stop offset="0.047" stop-color="#440154"/><stop offset="0.063" stop-color="#481c6e"/><stop offset="0.079" stop-color="#453882"/><stop offset="0.095" stop-color="#3e4c8a"/><stop offset="0.111" stop-color="#375b8d"/><stop offset="0.126" stop-color="#30698e"/><stop offset="0.142" stop-color="#2b758e"/><stop offset="0.158" stop-color="#26828e"/><stop offset="0.174" stop-color="#228c8d"/><stop offset="0.189" stop-color="#1f958b"/><stop offset="0.205" stop-color="#1f9f88"/><stop offset="0.221" stop-color="#23a983"/><stop offset="0.237" stop-color="#2eb37c"/><stop offset="0.253" stop-color="#40bd72"/><stop offset="0.268" stop-color="#63cb5f"/><stop offset="0.284" stop-color="#89d548"/><stop offset="0.300" stop-color="#b0dd2f"/><stop offset="0.316" stop-color="#d8e219"/><stop offset="0.332" stop-color="#f6e620"/><stop offset="0.347" stop-color="#eae51a"/><stop offset="0.363" stop-color="#c8e020"/><stop offset="0.379" stop-color="#a2da37"/><stop offset="0.395" stop-color="#7cd250"/><stop offset="0.411" stop-color="#58c765"/><stop offset="0.426" stop-color="#3aba76"/><stop offset="0.442" stop-color="#2cb17e"/><stop offset="0.458" stop-color="#22a785"/><stop offset="0.474" stop-color="#1f9e89"/><stop offset="0.489" stop-color="#1f948c"/><stop offset="0.505" stop-color="#228b8d"/><stop offset="0.521" stop-color="#26818e"/><stop offset="0.537" stop-color="#2b758e"/><stop offset="0.553" stop-color="#306a8e"/><stop offset="0.568" stop-color="#365d8d"/><stop offset="0.584" stop-color="#3d4e8a"/><stop offset="0.600" stop-color="#443b84"/><stop offset="0.616" stop-color="#482173"/><stop offset="0.632" stop-color="#440256"/><stop offset="0.647" stop-color="#440154"/><stop offset="0.995" stop-color="#440154"/></linearGradient><linearGradient id="hB33"><stop offset="0.000" stop-color="#440154"/><stop offset="0.047" stop-color="#440154"/><stop offset="0.063" stop-color="#471365"/><stop offset="0.079" stop-color="#472f7d"/><stop offset="0.095" stop-color="#3f4788"/><stop offset="0.111" stop-color="#38588c"/><stop offset="0.126" stop-color="#31678e"/><stop offset="0.142" stop-color="#2c738e"/><stop offset="0.158" stop-color="#277f8e"/><stop offset="0.174" stop-color="#238a8d"/><stop offset="0.189" stop-color="#20938c"/><stop offset="0.205" stop-color="#1f9e89"/><stop offset="0.221" stop-color="#22a884"/><stop offset="0.237" stop-color="#2db27d"/><stop offset="0.253" stop-color="#3fbc73"/><stop offset="0.268" stop-color="#60ca60"/><stop offset="0.284" stop-color="#89d548"/><stop offset="0.300" stop-color="#b0dd2f"/><stop offset="0.316" stop-color="#d5e21a"/><stop offset="0.332" stop-color="#f6e620"/><stop offset="0.347" stop-color="#eae51a"/><stop offset="0.363" stop-color="#c8e020"/><stop offset="0.379" stop-color="#a2da37"/><stop offset="0.395" stop-color="#7ad151"/><stop offset="0.411" stop-color="#56c667"/><stop offset="0.426" stop-color="#3aba76"/><stop offset="0.442" stop-color="#2ab07f"/><stop offset="0.458" stop-color="#21a685"/><stop offset="0.474" stop-color="#1e9c89"/><stop offset="0.489" stop-color="#20928c"/><stop offset="0.505" stop-color="#23898e"/><stop offset="0.521" stop-color="#277f8e"/><stop offset="0.537" stop-color="#2c728e"/><stop offset="0.553" stop-color="#31678e"/><stop offset="0.568" stop-color="#38598c"/><stop offset="0.584" stop-color="#3f4889"/><stop offset="0.600" stop-color="#46337f"/><stop offset="0.616" stop-color="#48186a"/><stop offset="0.632" stop-color="#440154"/><stop offset="0.995" stop-color="#440154"/></linearGradient><linearGradient id="hB34"><stop offset="0.000" stop-color="#440154"/><stop offset="0.047" stop-color="#440154"/><stop offset="0.063" stop-color="#46075a"/><stop offset="0.079" stop-color="#482878"/><stop offset="0.095" stop-color="#414287"/><stop offset="0.111" stop-color="#3a538b"/><stop offset="0.126" stop-color="#33638d"/><stop offset="0.142" stop-color="#2d718e"/><stop offset="0.158" stop-color="#287d8e"/><stop offset="0.174" stop-color="#23888e"/><stop offset="0.189" stop-color="#20928c"/><stop offset="0.205" stop-color="#1e9d89"/><stop offset="0.221" stop-color="#22a785"/><stop offset="0.237" stop-color="#2db27d"/><stop offset="0.253" stop-color="#3dbc74"/><stop offset="0.268" stop-color="#5ec962"/><stop offset="0.284" stop-color="#86d549"/><stop offset="0.300" stop-color="#b0dd2f"/><stop offset="0.316" stop-color="#d5e21a"/><stop offset="0.332" stop-color="#f6e620"/><stop offset="0.347" stop-color="#e7e419"/><stop offset="0.363" stop-color="#c5e021"/><stop offset="0.379" stop-color="#a0da39"/><stop offset="0.395" stop-color="#77d153"/><stop offset="0.411" stop-color="#54c568"/><stop offset="0.426" stop-color="#38b977"/><stop offset="0.442" stop-color="#29af7f"/><stop offset="0.458" stop-color="#21a585"/><stop offset="0.474" stop-color="#1e9b8a"/><stop offset="0.489" stop-color="#20928c"/><stop offset="0.505" stop-color="#24878e"/><stop offset="0.521" stop-color="#287c8e"/><stop offset="0.537" stop-color="#2d718e"/><stop offset="0.553" stop-color="#33638d"/><stop offset="0.568" stop-color="#3a548c"/><stop offset="0.584" stop-color="#414487"/><stop offset="0.600" stop-color="#472c7a"/><stop offset="0.616" stop-color="#470d60"/><stop offset="0.632" stop-color="#440154"/><stop offset="0.995" stop-color="#440154"/></linearGradient><linearGradient id="hB35"><stop offset="0.000" stop-color="#440154"/><stop offset="0.063" stop-color="#440154"/><stop offset="0.079" stop-color="#481f70"/><stop offset="0.095" stop-color="#433d84"/><stop offset="0.111" stop-color="#3c4f8a"/><stop offset="0.126" stop-color="#34608d"/><stop offset="0.142" stop-color="#2e6e8e"/><stop offset="0.158" stop-color="#297b8e"/><stop offset="0.174" stop-color="#24878e"/><stop offset="0.189" stop-color="#20928c"/><stop offset="0.205" stop-color="#1e9c89"/><stop offset="0.221" stop-color="#21a685"/><stop offset="0.237" stop-color="#2cb17e"/><stop offset="0.253" stop-color="#3dbc74"/><stop offset="0.268" stop-color="#5cc863"/><stop offset="0.284" stop-color="#84d44b"/><stop offset="0.300" stop-color="#addc30"/><stop offset="0.316" stop-color="#d5e21a"/><stop offset="0.332" stop-color="#f6e620"/><stop offset="0.347" stop-color="#e7e419"/><stop offset="0.363" stop-color="#c5e021"/><stop offset="0.379" stop-color="#a0da39"/><stop offset="0.395" stop-color="#77d153"/><stop offset="0.411" stop-color="#52c569"/><stop offset="0.426" stop-color="#38b977"/><stop offset="0.442" stop-color="#28ae80"/><stop offset="0.458" stop-color="#20a486"/><stop offset="0.474" stop-color="#1f9a8a"/><stop offset="0.489" stop-color="#21908d"/><stop offset="0.505" stop-color="#25858e"/><stop offset="0.521" stop-color="#297a8e"/><stop offset="0.537" stop-color="#2e6e8e"/><stop offset="0.553" stop-color="#34608d"/><stop offset="0.568" stop-color="#3c508b"/><stop offset="0.584" stop-color="#433e85"/><stop offset="0.600" stop-color="#482173"/><stop offset="0.616" stop-color="#440154"/><stop offset="0.995" stop-color="#440154"/></linearGradient><linearGradient id="hB36"><stop offset="0.000" stop-color="#440154"/><stop offset="0.063" stop-color="#440154"/><stop offset="0.079" stop-color="#481668"/><stop offset="0.095" stop-color="#463480"/><stop offset="0.111" stop-color="#3e4c8a"/><stop offset="0.126" stop-color="#365c8d"/><stop offset="0.142" stop-color="#2f6b8e"/><stop offset="0.158" stop-color="#2a788e"/><stop offset="0.174" stop-color="#25858e"/><stop offset="0.189" stop-color="#21908d"/><stop offset="0.205" stop-color="#1f9a8a"/><stop offset="0.221" stop-color="#21a585"/><stop offset="0.237" stop-color="#2ab07f"/><stop offset="0.253" stop-color="#3dbc74"/><stop offset="0.268" stop-color="#5cc863"/><stop offset="0.284" stop-color="#84d44b"/><stop offset="0.300" stop-color="#addc30"/><stop offset="0.316" stop-color="#d5e21a"/><stop offset="0.332" stop-color="#f6e620"/><stop offset="0.347" stop-color="#e7e419"/><stop offset="0.363" stop-color="#c5e021"/><stop offset="0.379" stop-color="#9dd93b"/><stop offset="0.395" stop-color="#75d054"/><stop offset="0.411" stop-color="#50c46a"/><stop offset="0.426" stop-color="#37b878"/><stop offset="0.442" stop-color="#27ad81"/><stop offset="0.458" stop-color="#1fa287"/><stop offset="0.474" stop-color="#1f988b"/><stop offset="0.489" stop-color="#218e8d"/><stop offset="0.505" stop-color="#25838e"/><stop offset="0.521" stop-color="#2a778e"/><stop offset="0.537" stop-color="#2f6b8e"/><stop offset="0.553" stop-color="#365c8d"/><stop offset="0.568" stop-color="#3e4c8a"/><stop offset="0.584" stop-color="#453581"/><stop offset="0.600" stop-color="#48186a"/><stop offset="0.616" stop-color="#440154"/><stop offset="0.995" stop-color="#440154"/></linearGradient><linearGradient id="hB37"><stop offset="0.000" stop-color="#440154"/><stop offset="0.063" stop-color="#440154"/><stop offset="0.079" stop-color="#460b5e"/><stop offset="0.095" stop-color="#472d7b"/><stop offset="0.111" stop-color="#3f4788"/><stop offset="0.126" stop-color="#38598c"/><stop offset="0.142" stop-color="#30698e"/><stop offset="0.158" stop-color="#2a768e"/><stop offset="0.174" stop-color="#26828e"/><stop offset="0.189" stop-color="#218f8d"/><stop offset="0.205" stop-color="#1f998a"/><stop offset="0.221" stop-color="#20a486"/><stop offset="0.237" stop-color="#2ab07f"/><stop offset="0.253" stop-color="#3bbb75"/><stop offset="0.268" stop-color="#5ac864"/><stop offset="0.284" stop-color="#81d34d"/><stop offset="0.300" stop-color="#addc30"/><stop offset="0.316" stop-color="#d5e21a"/><stop offset="0.332" stop-color="#f6e620"/><stop offset="0.347" stop-color="#e7e419"/><stop offset="0.363" stop-color="#c2df23"/><stop offset="0.379" stop-color="#9dd93b"/><stop offset="0.395" stop-color="#73d056"/><stop offset="0.411" stop-color="#4ec36b"/><stop offset="0.426" stop-color="#35b779"/><stop offset="0.442" stop-color="#26ad81"/><stop offset="0.458" stop-color="#1fa187"/><stop offset="0.474" stop-color="#1f978b"/><stop offset="0.489" stop-color="#228d8d"/><stop offset="0.505" stop-color="#26818e"/><stop offset="0.521" stop-color="#2b748e"/><stop offset="0.537" stop-color="#31678e"/><stop offset="0.553" stop-color="#38588c"/><stop offset="0.568" stop-color="#404688"/><stop offset="0.584" stop-color="#472d7b"/><stop offset="0.600" stop-color="#470d60"/><stop offset="0.616" stop-color="#440154"/><stop offset="0.995" stop-color="#440154"/></linearGradient><linearGradient id="hB38"><stop offset="0.000" stop-color="#440154"/><stop offset="0.079" stop-color="#440154"/><stop offset="0.095" stop-color="#482475"/><stop offset="0.111" stop-color="#414287"/><stop offset="0.126" stop-color="#3a548c"/><stop offset="0.142" stop-color="#32658e"/><stop offset="0.158" stop-color="#2c738e"/><stop offset="0.174" stop-color="#26818e"/><stop offset="0.189" stop-color="#228d8d"/><stop offset="0.205" stop-color="#1f988b"/><stop offset="0.221" stop-color="#20a386"/><stop offset="0.237" stop-color="#29af7f"/><stop offset="0.253" stop-color="#3aba76"/><stop offset="0.268" stop-color="#58c765"/><stop offset="0.284" stop-color="#81d34d"/><stop offset="0.300" stop-color="#addc30"/><stop offset="0.316" stop-color="#d2e21b"/><stop offset="0.332" stop-color="#f6e620"/><stop offset="0.347" stop-color="#e7e419"/><stop offset="0.363" stop-color="#c2df23"/><stop offset="0.379" stop-color="#9dd93b"/><stop offset="0.395" stop-color="#70cf57"/><stop offset="0.411" stop-color="#4cc26c"/><stop offset="0.426" stop-color="#35b779"/><stop offset="0.442" stop-color="#25ac82"/><stop offset="0.458" stop-color="#1fa188"/><stop offset="0.474" stop-color="#1f958b"/><stop offset="0.489" stop-color="#228b8d"/><stop offset="0.505" stop-color="#277f8e"/><stop offset="0.521" stop-color="#2c718e"/><stop offset="0.537" stop-color="#32648e"/><stop offset="0.553" stop-color="#3a538b"/><stop offset="0.568" stop-color="#424186"/><stop offset="0.584" stop-color="#482475"/><stop offset="0.600" stop-color="#440154"/><stop offset="0.995" stop-color="#440154"/></linearGradient><linearGradient id="hB39"><stop offset="0.000" stop-color="#440154"/><stop offset="0.079" stop-color="#440154"/><stop offset="0.095" stop-color="#481b6d"/><stop offset="0.111" stop-color="#443b84"/><stop offset="0.126" stop-color="#3c508b"/><stop offset="0.142" stop-color="#33628d"/><stop offset="0.158" stop-color="#2d718e"/><stop offset="0.174" stop-color="#277f8e"/><stop offset="0.189" stop-color="#228b8d"/><stop offset="0.205" stop-color="#1f978b"/><stop offset="0.221" stop-color="#1fa287"/><stop offset="0.237" stop-color="#28ae80"/><stop offset="0.253" stop-color="#3aba76"/><stop offset="0.268" stop-color="#56c667"/><stop offset="0.284" stop-color="#7fd34e"/><stop offset="0.300" stop-color="#aadc32"/><stop offset="0.316" stop-color="#d2e21b"/><stop offset="0.332" stop-color="#f6e620"/><stop offset="0.347" stop-color="#e7e419"/><stop offset="0.363" stop-color="#c2df23"/><stop offset="0.379" stop-color="#9bd93c"/><stop offset="0.395" stop-color="#70cf57"/><stop offset="0.411" stop-color="#4ac16d"/><stop offset="0.426" stop-color="#34b679"/><stop offset="0.442" stop-color="#25ab82"/><stop offset="0.458" stop-color="#1fa088"/><stop offset="0.474" stop-color="#1f948c"/><stop offset="0.489" stop-color="#23898e"/><stop offset="0.505" stop-color="#287c8e"/><stop offset="0.521" stop-color="#2e6f8e"/><stop offset="0.537" stop-color="#34608d"/><stop offset="0.553" stop-color="#3c4f8a"/><stop offset="0.568" stop-color="#443983"/><stop offset="0.584" stop-color="#481a6c"/><stop offset="0.600" stop-color="#440154"/><stop offset="0.995" stop-color="#440154"/></linearGradient><linearGradient id="hB40"><stop offset="0.000" stop-color="#440154"/><stop offset="0.079" stop-color="#440154"/><stop offset="0.095" stop-color="#471164"/><stop offset="0.111" stop-color="#463480"/><stop offset="0.126" stop-color="#3d4d8a"/><stop offset="0.142" stop-color="#355f8d"/><stop offset="0.158" stop-color="#2e6f8e"/><stop offset="0.174" stop-color="#287d8e"/><stop offset="0.189" stop-color="#238a8d"/><stop offset="0.205" stop-color="#1f958b"/><stop offset="0.221" stop-color="#1fa187"/><stop offset="0.237" stop-color="#27ad81"/><stop offset="0.253" stop-color="#38b977"/><stop offset="0.268" stop-color="#56c667"/><stop offset="0.284" stop-color="#7fd34e"/><stop offset="0.300" stop-color="#aadc32"/><stop offset="0.316" stop-color="#d2e21b"/><stop offset="0.332" stop-color="#f6e620"/><stop offset="0.347" stop-color="#e7e419"/><stop offset="0.363" stop-color="#c2df23"/><stop offset="0.379" stop-color="#9bd93c"/><stop offset="0.395" stop-color="#6ece58"/><stop offset="0.411" stop-color="#48c16e"/><stop offset="0.426" stop-color="#32b67a"/><stop offset="0.442" stop-color="#24aa83"/><stop offset="0.458" stop-color="#1f9e89"/><stop offset="0.474" stop-color="#20928c"/><stop offset="0.489" stop-color="#24878e"/><stop offset="0.505" stop-color="#297a8e"/><stop offset="0.521" stop-color="#2f6c8e"/><stop offset="0.537" stop-color="#365c8d"/><stop offset="0.553" stop-color="#3e4a89"/><stop offset="0.568" stop-color="#46307e"/><stop offset="0.584" stop-color="#470e61"/><stop offset="0.600" stop-color="#440154"/><stop offset="0.995" stop-color="#440154"/></linearGradient><linearGradient id="hB41"><stop offset="0.000" stop-color="#440154"/><stop offset="0.079" stop-color="#440154"/><stop offset="0.095" stop-color="#450559"/><stop offset="0.111" stop-color="#472c7a"/><stop offset="0.126" stop-color="#3f4889"/><stop offset="0.142" stop-color="#375b8d"/><stop offset="0.158" stop-color="#2f6c8e"/><stop offset="0.174" stop-color="#297a8e"/><stop offset="0.189" stop-color="#23888e"/><stop offset="0.205" stop-color="#1f948c"/><stop offset="0.221" stop-color="#1fa188"/><stop offset="0.237" stop-color="#26ad81"/><stop offset="0.253" stop-color="#38b977"/><stop offset="0.268" stop-color="#54c568"/><stop offset="0.284" stop-color="#7cd250"/><stop offset="0.300" stop-color="#aadc32"/><stop offset="0.316" stop-color="#d2e21b"/><stop offset="0.332" stop-color="#f6e620"/><stop offset="0.347" stop-color="#e7e419"/><stop offset="0.363" stop-color="#c0df25"/><stop offset="0.379" stop-color="#98d83e"/><stop offset="0.395" stop-color="#6ccd5a"/><stop offset="0.411" stop-color="#46c06f"/><stop offset="0.426" stop-color="#31b57b"/><stop offset="0.442" stop-color="#23a983"/><stop offset="0.458" stop-color="#1e9d89"/><stop offset="0.474" stop-color="#21918c"/><stop offset="0.489" stop-color="#25848e"/><stop offset="0.505" stop-color="#2a778e"/><stop offset="0.521" stop-color="#30698e"/><stop offset="0.537" stop-color="#38588c"/><stop offset="0.553" stop-color="#404688"/><stop offset="0.568" stop-color="#482878"/><stop offset="0.584" stop-color="#440256"/><stop offset="0.600" stop-color="#440154"/><stop offset="0.995" stop-color="#440154"/></linearGradient><linearGradient id="hB42"><stop offset="0.000" stop-color="#440154"/><stop offset="0.095" stop-color="#440154"/><stop offset="0.111" stop-color="#482374"/><stop offset="0.126" stop-color="#414487"/><stop offset="0.142" stop-color="#38588c"/><stop offset="0.158" stop-color="#30698e"/><stop offset="0.174" stop-color="#2a778e"/><stop offset="0.189" stop-color="#24868e"/><stop offset="0.205" stop-color="#20928c"/><stop offset="0.221" stop-color="#1f9f88"/><stop offset="0.237" stop-color="#25ac82"/><stop offset="0.253" stop-color="#37b878"/><stop offset="0.268" stop-color="#52c569"/><stop offset="0.284" stop-color="#7cd250"/><stop offset="0.300" stop-color="#aadc32"/><stop offset="0.316" stop-color="#d2e21b"/><stop offset="0.332" stop-color="#f6e620"/><stop offset="0.347" stop-color="#e7e419"/><stop offset="0.363" stop-color="#c0df25"/><stop offset="0.379" stop-color="#98d83e"/><stop offset="0.395" stop-color="#6ccd5a"/><stop offset="0.411" stop-color="#46c06f"/><stop offset="0.426" stop-color="#2fb47c"/><stop offset="0.442" stop-color="#22a884"/><stop offset="0.458" stop-color="#1e9b8a"/><stop offset="0.474" stop-color="#21908d"/><stop offset="0.489" stop-color="#26828e"/><stop offset="0.505" stop-color="#2b748e"/><stop offset="0.521" stop-color="#32658e"/><stop offset="0.537" stop-color="#3a538b"/><stop offset="0.553" stop-color="#423f85"/><stop offset="0.568" stop-color="#481f70"/><stop offset="0.584" stop-color="#440154"/><stop offset="0.995" stop-color="#440154"/></linearGradient><linearGradient id="hB43"><stop offset="0.000" stop-color="#440154"/><stop offset="0.095" stop-color="#440154"/><stop offset="0.111" stop-color="#481a6c"/><stop offset="0.126" stop-color="#433d84"/><stop offset="0.142" stop-color="#3a538b"/><stop offset="0.158" stop-color="#31668e"/><stop offset="0.174" stop-color="#2b758e"/><stop offset="0.189" stop-color="#25838e"/><stop offset="0.205" stop-color="#20928c"/><stop offset="0.221" stop-color="#1f9e89"/><stop offset="0.237" stop-color="#25ab82"/><stop offset="0.253" stop-color="#35b779"/><stop offset="0.268" stop-color="#50c46a"/><stop offset="0.284" stop-color="#7ad151"/><stop offset="0.300" stop-color="#a8db34"/><stop offset="0.316" stop-color="#d2e21b"/><stop offset="0.332" stop-color="#f6e620"/><stop offset="0.347" stop-color="#e7e419"/><stop offset="0.363" stop-color="#c0df25"/><stop offset="0.379" stop-color="#95d840"/><stop offset="0.395" stop-color="#69cd5b"/><stop offset="0.411" stop-color="#44bf70"/><stop offset="0.426" stop-color="#2eb37c"/><stop offset="0.442" stop-color="#21a685"/><stop offset="0.458" stop-color="#1f9a8a"/><stop offset="0.474" stop-color="#218e8d"/><stop offset="0.489" stop-color="#26818e"/><stop offset="0.505" stop-color="#2c718e"/><stop offset="0.521" stop-color="#33628d"/><stop offset="0.537" stop-color="#3c4f8a"/><stop offset="0.553" stop-color="#453781"/><stop offset="0.568" stop-color="#481467"/><stop offset="0.584" stop-color="#440154"/><stop offset="0.995" stop-color="#440154"/></linearGradient><linearGradient id="hB44"><stop offset="0.000" stop-color="#440154"/><stop offset="0.095" stop-color="#440154"/><stop offset="0.111" stop-color="#471063"/><stop offset="0.126" stop-color="#453581"/><stop offset="0.142" stop-color="#3c4f8a"/><stop offset="0.158" stop-color="#33628d"/><stop offset="0.174" stop-color="#2c728e"/><stop offset="0.189" stop-color="#26828e"/><stop offset="0.205" stop-color="#21908d"/><stop offset="0.221" stop-color="#1e9d89"/><stop offset="0.237" stop-color="#24aa83"/><stop offset="0.253" stop-color="#34b679"/><stop offset="0.268" stop-color="#50c46a"/><stop offset="0.284" stop-color="#77d153"/><stop offset="0.300" stop-color="#a8db34"/><stop offset="0.316" stop-color="#d0e11c"/><stop offset="0.332" stop-color="#f6e620"/><stop offset="0.347" stop-color="#e5e419"/><stop offset="0.363" stop-color="#c0df25"/><stop offset="0.379" stop-color="#95d840"/><stop offset="0.395" stop-color="#67cc5c"/><stop offset="0.411" stop-color="#44bf70"/><stop offset="0.426" stop-color="#2db27d"/><stop offset="0.442" stop-color="#21a585"/><stop offset="0.458" stop-color="#1f988b"/><stop offset="0.474" stop-color="#228c8d"/><stop offset="0.489" stop-color="#277e8e"/><stop offset="0.505" stop-color="#2e6f8e"/><stop offset="0.521" stop-color="#355e8d"/><stop offset="0.537" stop-color="#3e4a89"/><stop offset="0.553" stop-color="#472e7c"/><stop offset="0.568" stop-color="#46085c"/><stop offset="0.584" stop-color="#440154"/><stop offset="0.995" stop-color="#440154"/></linearGradient><linearGradient id="hB45"><stop offset="0.000" stop-color="#440154"/><stop offset="0.095" stop-color="#440154"/><stop offset="0.111" stop-color="#450457"/><stop offset="0.126" stop-color="#472d7b"/><stop offset="0.142" stop-color="#3e4c8a"/><stop offset="0.158" stop-color="#355f8d"/><stop offset="0.174" stop-color="#2d708e"/><stop offset="0.189" stop-color="#27808e"/><stop offset="0.205" stop-color="#218e8d"/><stop offset="0.221" stop-color="#1e9b8a"/><stop offset="0.237" stop-color="#23a983"/><stop offset="0.253" stop-color="#34b679"/><stop offset="0.268" stop-color="#4ec36b"/><stop offset="0.284" stop-color="#77d153"/><stop offset="0.300" stop-color="#a8db34"/><stop offset="0.316" stop-color="#d0e11c"/><stop offset="0.332" stop-color="#f6e620"/><stop offset="0.347" stop-color="#e5e419"/><stop offset="0.363" stop-color="#c0df25"/><stop offset="0.379" stop-color="#93d741"/><stop offset="0.395" stop-color="#65cb5e"/><stop offset="0.411" stop-color="#42be71"/><stop offset="0.426" stop-color="#2cb17e"/><stop offset="0.442" stop-color="#20a486"/><stop offset="0.458" stop-color="#1f978b"/><stop offset="0.474" stop-color="#238a8d"/><stop offset="0.489" stop-color="#297b8e"/><stop offset="0.505" stop-color="#2f6c8e"/><stop offset="0.521" stop-color="#375a8c"/><stop offset="0.537" stop-color="#404688"/><stop offset="0.553" stop-color="#482576"/><stop offset="0.568" stop-color="#440154"/><stop offset="0.995" stop-color="#440154"/></linearGradient><linearGradient id="hB46"><stop offset="0.000" stop-color="#440154"/><stop offset="0.111" stop-color="#440154"/><stop offset="0.126" stop-color="#482475"/><stop offset="0.142" stop-color="#3f4788"/><stop offset="0.158" stop-color="#375b8d"/><stop offset="0.174" stop-color="#2e6e8e"/><stop offset="0.189" stop-color="#277e8e"/><stop offset="0.205" stop-color="#228c8d"/><stop offset="0.221" stop-color="#1f9a8a"/><stop offset="0.237" stop-color="#22a884"/><stop offset="0.253" stop-color="#32b67a"/><stop offset="0.268" stop-color="#4cc26c"/><stop offset="0.284" stop-color="#75d054"/><stop offset="0.300" stop-color="#a8db34"/><stop offset="0.316" stop-color="#d0e11c"/><stop offset="0.332" stop-color="#f6e620"/><stop offset="0.347" stop-color="#e5e419"/><stop offset="0.363" stop-color="#bddf26"/><stop offset="0.379" stop-color="#93d741"/><stop offset="0.395" stop-color="#65cb5e"/><stop offset="0.411" stop-color="#40bd72"/><stop offset="0.426" stop-color="#2ab07f"/><stop offset="0.442" stop-color="#1fa287"/><stop offset="0.458" stop-color="#1f958b"/><stop offset="0.474" stop-color="#23888e"/><stop offset="0.489" stop-color="#2a788e"/><stop offset="0.505" stop-color="#30698e"/><stop offset="0.521" stop-color="#39558c"/><stop offset="0.537" stop-color="#424086"/><stop offset="0.553" stop-color="#481b6d"/><stop offset="0.568" stop-color="#440154"/><stop offset="0.995" stop-color="#440154"/></linearGradient><linearGradient id="hB47"><stop offset="0.000" stop-color="#440154"/><stop offset="0.111" stop-color="#440154"/><stop offset="0.126" stop-color="#481c6e"/><stop offset="0.142" stop-color="#424186"/><stop offset="0.158" stop-color="#38588c"/><stop offset="0.174" stop-color="#2f6b8e"/><stop offset="0.189" stop-color="#297b8e"/><stop offset="0.205" stop-color="#228b8d"/><stop offset="0.221" stop-color="#1f998a"/><stop offset="0.237" stop-color="#21a685"/><stop offset="0.253" stop-color="#31b57b"/><stop offset="0.268" stop-color="#4cc26c"/><stop offset="0.284" stop-color="#75d054"/><stop offset="0.300" stop-color="#a5db36"/><stop offset="0.316" stop-color="#d0e11c"/><stop offset="0.332" stop-color="#f6e620"/><stop offset="0.347" stop-color="#e5e419"/><stop offset="0.363" stop-color="#bddf26"/><stop offset="0.379" stop-color="#90d743"/><stop offset="0.395" stop-color="#63cb5f"/><stop offset="0.411" stop-color="#40bd72"/><stop offset="0.426" stop-color="#29af7f"/><stop offset="0.442" stop-color="#1fa187"/><stop offset="0.458" stop-color="#20938c"/><stop offset="0.474" stop-color="#25858e"/><stop offset="0.489" stop-color="#2a768e"/><stop offset="0.505" stop-color="#32658e"/><stop offset="0.521" stop-color="#3b528b"/><stop offset="0.537" stop-color="#453882"/><stop offset="0.553" stop-color="#471164"/><stop offset="0.568" stop-color="#440154"/><stop offset="0.995" stop-color="#440154"/></linearGradient><linearGradient id="hB48"><stop offset="0.000" stop-color="#440154"/><stop offset="0.111" stop-color="#440154"/><stop offset="0.126" stop-color="#471164"/><stop offset="0.142" stop-color="#443a83"/><stop offset="0.158" stop-color="#3a548c"/><stop offset="0.174" stop-color="#31688e"/><stop offset="0.189" stop-color="#29798e"/><stop offset="0.205" stop-color="#23898e"/><stop offset="0.221" stop-color="#1f978b"/><stop offset="0.237" stop-color="#21a585"/><stop offset="0.253" stop-color="#2fb47c"/><stop offset="0.268" stop-color="#4ac16d"/><stop offset="0.284" stop-color="#73d056"/><stop offset="0.300" stop-color="#a5db36"/><stop offset="0.316" stop-color="#d0e11c"/><stop offset="0.332" stop-color="#f6e620"/><stop offset="0.347" stop-color="#e5e419"/><stop offset="0.363" stop-color="#bddf26"/><stop offset="0.379" stop-color="#90d743"/><stop offset="0.395" stop-color="#60ca60"/><stop offset="0.411" stop-color="#3fbc73"/><stop offset="0.426" stop-color="#28ae80"/><stop offset="0.442" stop-color="#1fa188"/><stop offset="0.458" stop-color="#20928c"/><stop offset="0.474" stop-color="#25838e"/><stop offset="0.489" stop-color="#2c738e"/><stop offset="0.505" stop-color="#33628d"/><stop offset="0.521" stop-color="#3d4e8a"/><stop offset="0.537" stop-color="#472f7d"/><stop offset="0.553" stop-color="#450457"/><stop offset="0.568" stop-color="#440154"/><stop offset="0.995" stop-color="#440154"/></linearGradient><linearGradient id="hB49"><stop offset="0.000" stop-color="#440154"/><stop offset="0.111" stop-color="#440154"/><stop offset="0.126" stop-color="#46075a"/><stop offset="0.142" stop-color="#46327e"/><stop offset="0.158" stop-color="#3c508b"/><stop offset="0.174" stop-color="#32648e"/><stop offset="0.189" stop-color="#2a768e"/><stop offset="0.205" stop-color="#24878e"/><stop offset="0.221" stop-color="#1f968b"/><stop offset="0.237" stop-color="#20a486"/><stop offset="0.253" stop-color="#2eb37c"/><stop offset="0.268" stop-color="#4ac16d"/><stop offset="0.284" stop-color="#73d056"/><stop offset="0.300" stop-color="#a5db36"/><stop offset="0.316" stop-color="#d0e11c"/><stop offset="0.332" stop-color="#f6e620"/><stop offset="0.347" stop-color="#e5e419"/><stop offset="0.363" stop-color="#bddf26"/><stop offset="0.379" stop-color="#8ed645"/><stop offset="0.395" stop-color="#5ec962"/><stop offset="0.411" stop-color="#3dbc74"/><stop offset="0.426" stop-color="#27ad81"/><stop offset="0.442" stop-color="#1f9f88"/><stop offset="0.458" stop-color="#21918c"/><stop offset="0.474" stop-color="#26828e"/><stop offset="0.489" stop-color="#2d718e"/><stop offset="0.505" stop-color="#355e8d"/><stop offset="0.521" stop-color="#3e4989"/><stop offset="0.537" stop-color="#482677"/><stop offset="0.553" stop-color="#440154"/><stop offset="0.995" stop-color="#440154"/></linearGradient><linearGradient id="hB50"><stop offset="0.000" stop-color="#440154"/><stop offset="0.126" stop-color="#440154"/><stop offset="0.142" stop-color="#472a7a"/><stop offset="0.158" stop-color="#3e4c8a"/><stop offset="0.174" stop-color="#34618d"/><stop offset="0.189" stop-color="#2c738e"/><stop offset="0.205" stop-color="#25848e"/><stop offset="0.221" stop-color="#1f948c"/><stop offset="0.237" stop-color="#20a386"/><stop offset="0.253" stop-color="#2db27d"/><stop offset="0.268" stop-color="#48c16e"/><stop offset="0.284" stop-color="#70cf57"/><stop offset="0.300" stop-color="#a2da37"/><stop offset="0.316" stop-color="#d0e11c"/><stop offset="0.332" stop-color="#f6e620"/><stop offset="0.347" stop-color="#e5e419"/><stop offset="0.363" stop-color="#bddf26"/><stop offset="0.379" stop-color="#8bd646"/><stop offset="0.395" stop-color="#5ec962"/><stop offset="0.411" stop-color="#3bbb75"/><stop offset="0.426" stop-color="#26ad81"/><stop offset="0.442" stop-color="#1f9e89"/><stop offset="0.458" stop-color="#218f8d"/><stop offset="0.474" stop-color="#277f8e"/><stop offset="0.489" stop-color="#2e6e8e"/><stop offset="0.505" stop-color="#375b8d"/><stop offset="0.521" stop-color="#404588"/><stop offset="0.537" stop-color="#481c6e"/><stop offset="0.553" stop-color="#440154"/><stop offset="0.995" stop-color="#440154"/></linearGradient><linearGradient id="hB51"><stop offset="0.000" stop-color="#440154"/><stop offset="0.126" stop-color="#440154"/><stop offset="0.142" stop-color="#482173"/><stop offset="0.158" stop-color="#3f4889"/><stop offset="0.174" stop-color="#355e8d"/><stop offset="0.189" stop-color="#2c718e"/><stop offset="0.205" stop-color="#26828e"/><stop offset="0.221" stop-color="#20928c"/><stop offset="0.237" stop-color="#1fa287"/><stop offset="0.253" stop-color="#2db27d"/><stop offset="0.268" stop-color="#48c16e"/><stop offset="0.284" stop-color="#70cf57"/><stop offset="0.300" stop-color="#a2da37"/><stop offset="0.316" stop-color="#d0e11c"/><stop offset="0.332" stop-color="#f6e620"/><stop offset="0.347" stop-color="#e5e419"/><stop offset="0.363" stop-color="#bade28"/><stop offset="0.379" stop-color="#8bd646"/><stop offset="0.395" stop-color="#5cc863"/><stop offset="0.411" stop-color="#3aba76"/><stop offset="0.426" stop-color="#25ac82"/><stop offset="0.442" stop-color="#1e9c89"/><stop offset="0.458" stop-color="#228d8d"/><stop offset="0.474" stop-color="#287c8e"/><stop offset="0.489" stop-color="#2f6b8e"/><stop offset="0.505" stop-color="#39568c"/><stop offset="0.521" stop-color="#433d84"/><stop offset="0.537" stop-color="#471365"/><stop offset="0.553" stop-color="#440154"/><stop offset="0.995" stop-color="#440154"/></linearGradient><linearGradient id="hB52"><stop offset="0.000" stop-color="#440154"/><stop offset="0.126" stop-color="#440154"/><stop offset="0.142" stop-color="#48186a"/><stop offset="0.158" stop-color="#414487"/><stop offset="0.174" stop-color="#375b8d"/><stop offset="0.189" stop-color="#2e6f8e"/><stop offset="0.205" stop-color="#26818e"/><stop offset="0.221" stop-color="#20928c"/><stop offset="0.237" stop-color="#1fa188"/><stop offset="0.253" stop-color="#2cb17e"/><stop offset="0.268" stop-color="#46c06f"/><stop offset="0.284" stop-color="#6ece58"/><stop offset="0.300" stop-color="#a2da37"/><stop offset="0.316" stop-color="#cde11d"/><stop offset="0.332" stop-color="#f6e620"/><stop offset="0.347" stop-color="#e5e419"/><stop offset="0.363" stop-color="#bade28"/><stop offset="0.379" stop-color="#8bd646"/><stop offset="0.395" stop-color="#5ac864"/><stop offset="0.411" stop-color="#3aba76"/><stop offset="0.426" stop-color="#24aa83"/><stop offset="0.442" stop-color="#1e9b8a"/><stop offset="0.458" stop-color="#228b8d"/><stop offset="0.474" stop-color="#297a8e"/><stop offset="0.489" stop-color="#31688e"/><stop offset="0.505" stop-color="#3b528b"/><stop offset="0.521" stop-color="#463480"/><stop offset="0.537" stop-color="#46075a"/><stop offset="0.553" stop-color="#440154"/><stop offset="0.995" stop-color="#440154"/></linearGradient><linearGradient id="hB53"><stop offset="0.000" stop-color="#440154"/><stop offset="0.126" stop-color="#440154"/><stop offset="0.142" stop-color="#470e61"/><stop offset="0.158" stop-color="#443b84"/><stop offset="0.174" stop-color="#39568c"/><stop offset="0.189" stop-color="#2f6c8e"/><stop offset="0.205" stop-color="#277f8e"/><stop offset="0.221" stop-color="#21908d"/><stop offset="0.237" stop-color="#1fa088"/><stop offset="0.253" stop-color="#2ab07f"/><stop offset="0.268" stop-color="#44bf70"/><stop offset="0.284" stop-color="#6ece58"/><stop offset="0.300" stop-color="#a0da39"/><stop offset="0.316" stop-color="#cde11d"/><stop offset="0.332" stop-color="#f6e620"/><stop offset="0.347" stop-color="#e5e419"/><stop offset="0.363" stop-color="#bade28"/><stop offset="0.379" stop-color="#89d548"/><stop offset="0.395" stop-color="#5ac864"/><stop offset="0.411" stop-color="#38b977"/><stop offset="0.426" stop-color="#23a983"/><stop offset="0.442" stop-color="#1f998a"/><stop offset="0.458" stop-color="#23898e"/><stop offset="0.474" stop-color="#2a778e"/><stop offset="0.489" stop-color="#32648e"/><stop offset="0.505" stop-color="#3c4f8a"/><stop offset="0.521" stop-color="#472c7a"/><stop offset="0.537" stop-color="#440154"/><stop offset="0.995" stop-color="#440154"/></linearGradient><linearGradient id="hB54"><stop offset="0.000" stop-color="#440154"/><stop offset="0.126" stop-color="#440154"/><stop offset="0.142" stop-color="#450457"/><stop offset="0.158" stop-color="#463480"/><stop offset="0.174" stop-color="#3a538b"/><stop offset="0.189" stop-color="#30698e"/><stop offset="0.205" stop-color="#287c8e"/><stop offset="0.221" stop-color="#218e8d"/><stop offset="0.237" stop-color="#1f9f88"/><stop offset="0.253" stop-color="#29af7f"/><stop offset="0.268" stop-color="#44bf70"/><stop offset="0.284" stop-color="#6ccd5a"/><stop offset="0.300" stop-color="#a0da39"/><stop offset="0.316" stop-color="#cde11d"/><stop offset="0.332" stop-color="#f6e620"/><stop offset="0.347" stop-color="#e5e419"/><stop offset="0.363" stop-color="#bade28"/><stop offset="0.379" stop-color="#89d548"/><stop offset="0.395" stop-color="#58c765"/><stop offset="0.411" stop-color="#37b878"/><stop offset="0.426" stop-color="#22a884"/><stop offset="0.442" stop-color="#1f978b"/><stop offset="0.458" stop-color="#24878e"/><stop offset="0.474" stop-color="#2b748e"/><stop offset="0.489" stop-color="#34618d"/><stop offset="0.505" stop-color="#3e4a89"/><stop offset="0.521" stop-color="#482374"/><stop offset="0.537" stop-color="#440154"/><stop offset="0.995" stop-color="#440154"/></linearGradient><linearGradient id="hB55"><stop offset="0.000" stop-color="#440154"/><stop offset="0.142" stop-color="#440154"/><stop offset="0.158" stop-color="#472c7a"/><stop offset="0.174" stop-color="#3c508b"/><stop offset="0.189" stop-color="#31668e"/><stop offset="0.205" stop-color="#297a8e"/><stop offset="0.221" stop-color="#228c8d"/><stop offset="0.237" stop-color="#1e9d89"/><stop offset="0.253" stop-color="#28ae80"/><stop offset="0.268" stop-color="#42be71"/><stop offset="0.284" stop-color="#6ccd5a"/><stop offset="0.300" stop-color="#a0da39"/><stop offset="0.316" stop-color="#cde11d"/><stop offset="0.332" stop-color="#f4e61e"/><stop offset="0.347" stop-color="#e5e419"/><stop offset="0.363" stop-color="#bade28"/><stop offset="0.379" stop-color="#86d549"/><stop offset="0.395" stop-color="#56c667"/><stop offset="0.411" stop-color="#35b779"/><stop offset="0.426" stop-color="#22a785"/><stop offset="0.442" stop-color="#1f968b"/><stop offset="0.458" stop-color="#25848e"/><stop offset="0.474" stop-color="#2c718e"/><stop offset="0.489" stop-color="#355e8d"/><stop offset="0.505" stop-color="#404688"/><stop offset="0.521" stop-color="#481a6c"/><stop offset="0.537" stop-color="#440154"/><stop offset="0.995" stop-color="#440154"/></linearGradient><linearGradient id="hB56"><stop offset="0.000" stop-color="#440154"/><stop offset="0.142" stop-color="#440154"/><stop offset="0.158" stop-color="#482475"/><stop offset="0.174" stop-color="#3d4d8a"/><stop offset="0.189" stop-color="#33638d"/><stop offset="0.205" stop-color="#2a778e"/><stop offset="0.221" stop-color="#238a8d"/><stop offset="0.237" stop-color="#1e9c89"/><stop offset="0.253" stop-color="#27ad81"/><stop offset="0.268" stop-color="#40bd72"/><stop offset="0.284" stop-color="#69cd5b"/><stop offset="0.300" stop-color="#9dd93b"/><stop offset="0.316" stop-color="#cde11d"/><stop offset="0.332" stop-color="#f4e61e"/><stop offset="0.347" stop-color="#e2e418"/><stop offset="0.363" stop-color="#bade28"/><stop offset="0.379" stop-color="#86d549"/><stop offset="0.395" stop-color="#56c667"/><stop offset="0.411" stop-color="#34b679"/><stop offset="0.426" stop-color="#21a585"/><stop offset="0.442" stop-color="#1f948c"/><stop offset="0.458" stop-color="#26828e"/><stop offset="0.474" stop-color="#2d708e"/><stop offset="0.489" stop-color="#375a8c"/><stop offset="0.505" stop-color="#423f85"/><stop offset="0.521" stop-color="#471063"/><stop offset="0.537" stop-color="#440154"/><stop offset="0.995" stop-color="#440154"/></linearGradient><linearGradient id="hB57"><stop offset="0.000" stop-color="#440154"/><stop offset="0.142" stop-color="#440154"/><stop offset="0.158" stop-color="#481b6d"/><stop offset="0.174" stop-color="#3f4889"/><stop offset="0.189" stop-color="#34608d"/><stop offset="0.205" stop-color="#2b758e"/><stop offset="0.221" stop-color="#23898e"/><stop offset="0.237" stop-color="#1e9b8a"/><stop offset="0.253" stop-color="#26ad81"/><stop offset="0.268" stop-color="#40bd72"/><stop offset="0.284" stop-color="#69cd5b"/><stop offset="0.300" stop-color="#9dd93b"/><stop offset="0.316" stop-color="#cde11d"/><stop offset="0.332" stop-color="#f4e61e"/><stop offset="0.347" stop-color="#e2e418"/><stop offset="0.363" stop-color="#bade28"/><stop offset="0.379" stop-color="#84d44b"/><stop offset="0.395" stop-color="#54c568"/><stop offset="0.411" stop-color="#32b67a"/><stop offset="0.426" stop-color="#20a486"/><stop offset="0.442" stop-color="#20928c"/><stop offset="0.458" stop-color="#26818e"/><stop offset="0.474" stop-color="#2e6d8e"/><stop offset="0.489" stop-color="#39568c"/><stop offset="0.505" stop-color="#453882"/><stop offset="0.521" stop-color="#450457"/><stop offset="0.537" stop-color="#440154"/><stop offset="0.995" stop-color="#440154"/></linearGradient><linearGradient id="hB58"><stop offset="0.000" stop-color="#440154"/><stop offset="0.142" stop-color="#440154"/><stop offset="0.158" stop-color="#471365"/><stop offset="0.174" stop-color="#414487"/><stop offset="0.189" stop-color="#365d8d"/><stop offset="0.205" stop-color="#2c728e"/><stop offset="0.221" stop-color="#24878e"/><stop offset="0.237" stop-color="#1f998a"/><stop offset="0.253" stop-color="#25ab82"/><stop offset="0.268" stop-color="#3fbc73"/><stop offset="0.284" stop-color="#67cc5c"/><stop offset="0.300" stop-color="#9dd93b"/><stop offset="0.316" stop-color="#cde11d"/><stop offset="0.332" stop-color="#f4e61e"/><stop offset="0.347" stop-color="#e2e418"/><stop offset="0.363" stop-color="#bade28"/><stop offset="0.379" stop-color="#84d44b"/><stop offset="0.395" stop-color="#54c568"/><stop offset="0.411" stop-color="#31b57b"/><stop offset="0.426" stop-color="#20a386"/><stop offset="0.442" stop-color="#20928c"/><stop offset="0.458" stop-color="#277f8e"/><stop offset="0.474" stop-color="#306a8e"/><stop offset="0.489" stop-color="#3a538b"/><stop offset="0.505" stop-color="#472f7d"/><stop offset="0.521" stop-color="#440154"/><stop offset="0.995" stop-color="#440154"/></linearGradient><linearGradient id="hB59"><stop offset="0.000" stop-color="#440154"/><stop offset="0.142" stop-color="#440154"/><stop offset="0.158" stop-color="#46085c"/><stop offset="0.174" stop-color="#433d84"/><stop offset="0.189" stop-color="#375a8c"/><stop offset="0.205" stop-color="#2d718e"/><stop offset="0.221" stop-color="#25858e"/><stop offset="0.237" stop-color="#1f988b"/><stop offset="0.253" stop-color="#24aa83"/><stop offset="0.268" stop-color="#3dbc74"/><stop offset="0.284" stop-color="#67cc5c"/><stop offset="0.300" stop-color="#9bd93c"/><stop offset="0.316" stop-color="#cde11d"/><stop offset="0.332" stop-color="#f4e61e"/><stop offset="0.347" stop-color="#e2e418"/><stop offset="0.363" stop-color="#bade28"/><stop offset="0.379" stop-color="#81d34d"/><stop offset="0.395" stop-color="#52c569"/><stop offset="0.411" stop-color="#2fb47c"/><stop offset="0.426" stop-color="#1fa287"/><stop offset="0.442" stop-color="#21908d"/><stop offset="0.458" stop-color="#287c8e"/><stop offset="0.474" stop-color="#31678e"/><stop offset="0.489" stop-color="#3c508b"/><stop offset="0.505" stop-color="#482677"/><stop offset="0.521" stop-color="#440154"/><stop offset="0.995" stop-color="#440154"/></linearGradient><linearGradient id="hB60"><stop offset="0.000" stop-color="#440154"/><stop offset="0.158" stop-color="#440154"/><stop offset="0.174" stop-color="#453581"/><stop offset="0.189" stop-color="#38588c"/><stop offset="0.205" stop-color="#2e6e8e"/><stop offset="0.221" stop-color="#25838e"/><stop offset="0.237" stop-color="#1f968b"/><stop offset="0.253" stop-color="#23a983"/><stop offset="0.268" stop-color="#3dbc74"/><stop offset="0.284" stop-color="#65cb5e"/><stop offset="0.300" stop-color="#9bd93c"/><stop offset="0.316" stop-color="#cde11d"/><stop offset="0.332" stop-color="#f4e61e"/><stop offset="0.347" stop-color="#e2e418"/><stop offset="0.363" stop-color="#bade28"/><stop offset="0.379" stop-color="#81d34d"/><stop offset="0.395" stop-color="#52c569"/><stop offset="0.411" stop-color="#2eb37c"/><stop offset="0.426" stop-color="#1fa188"/><stop offset="0.442" stop-color="#218e8d"/><stop offset="0.458" stop-color="#297a8e"/><stop offset="0.474" stop-color="#32648e"/><stop offset="0.489" stop-color="#3e4c8a"/><stop offset="0.505" stop-color="#481f70"/><stop offset="0.521" stop-color="#440154"/><stop offset="0.995" stop-color="#440154"/></linearGradient><linearGradient id="hB61"><stop offset="0.000" stop-color="#440154"/><stop offset="0.158" stop-color="#440154"/><stop offset="0.174" stop-color="#472e7c"/><stop offset="0.189" stop-color="#3a548c"/><stop offset="0.205" stop-color="#2f6c8e"/><stop offset="0.221" stop-color="#26828e"/><stop offset="0.237" stop-color="#1f958b"/><stop offset="0.253" stop-color="#22a884"/><stop offset="0.268" stop-color="#3bbb75"/><stop offset="0.284" stop-color="#65cb5e"/><stop offset="0.300" stop-color="#9bd93c"/><stop offset="0.316" stop-color="#cde11d"/><stop offset="0.332" stop-color="#f4e61e"/><stop offset="0.347" stop-color="#e2e418"/><stop offset="0.363" stop-color="#b8de29"/><stop offset="0.379" stop-color="#81d34d"/><stop offset="0.395" stop-color="#50c46a"/><stop offset="0.411" stop-color="#2db27d"/><stop offset="0.426" stop-color="#1fa088"/><stop offset="0.442" stop-color="#228c8d"/><stop offset="0.458" stop-color="#2a778e"/><stop offset="0.474" stop-color="#34618d"/><stop offset="0.489" stop-color="#3f4889"/><stop offset="0.505" stop-color="#481668"/><stop offset="0.521" stop-color="#440154"/><stop offset="0.995" stop-color="#440154"/></linearGradient><linearGradient id="hB62"><stop offset="0.000" stop-color="#440154"/><stop offset="0.158" stop-color="#440154"/><stop offset="0.174" stop-color="#482677"/><stop offset="0.189" stop-color="#3b518b"/><stop offset="0.205" stop-color="#30698e"/><stop offset="0.221" stop-color="#27808e"/><stop offset="0.237" stop-color="#20938c"/><stop offset="0.253" stop-color="#22a785"/><stop offset="0.268" stop-color="#3aba76"/><stop offset="0.284" stop-color="#63cb5f"/><stop offset="0.300" stop-color="#9bd93c"/><stop offset="0.316" stop-color="#cde11d"/><stop offset="0.332" stop-color="#f4e61e"/><stop offset="0.347" stop-color="#e2e418"/><stop offset="0.363" stop-color="#b8de29"/><stop offset="0.379" stop-color="#7fd34e"/><stop offset="0.395" stop-color="#50c46a"/><stop offset="0.411" stop-color="#2db27d"/><stop offset="0.426" stop-color="#1f9f88"/><stop offset="0.442" stop-color="#238a8d"/><stop offset="0.458" stop-color="#2b758e"/><stop offset="0.474" stop-color="#355f8d"/><stop offset="0.489" stop-color="#414287"/><stop offset="0.505" stop-color="#470d60"/><stop offset="0.521" stop-color="#440154"/><stop offset="0.995" stop-color="#440154"/></linearGradient><linearGradient id="hB63"><stop offset="0.000" stop-color="#440154"/><stop offset="0.158" stop-color="#440154"/><stop offset="0.174" stop-color="#481f70"/><stop offset="0.189" stop-color="#3d4e8a"/><stop offset="0.205" stop-color="#31678e"/><stop offset="0.221" stop-color="#287d8e"/><stop offset="0.237" stop-color="#20928c"/><stop offset="0.253" stop-color="#21a685"/><stop offset="0.268" stop-color="#3aba76"/><stop offset="0.284" stop-color="#63cb5f"/><stop offset="0.300" stop-color="#98d83e"/><stop offset="0.316" stop-color="#cde11d"/><stop offset="0.332" stop-color="#f4e61e"/><stop offset="0.347" stop-color="#e2e418"/><stop offset="0.363" stop-color="#b8de29"/><stop offset="0.379" stop-color="#7fd34e"/><stop offset="0.395" stop-color="#4ec36b"/><stop offset="0.411" stop-color="#2cb17e"/><stop offset="0.426" stop-color="#1e9d89"/><stop offset="0.442" stop-color="#23898e"/><stop offset="0.458" stop-color="#2c738e"/><stop offset="0.474" stop-color="#365c8d"/><stop offset="0.489" stop-color="#443b84"/><stop offset="0.505" stop-color="#440256"/><stop offset="0.521" stop-color="#440154"/><stop offset="0.995" stop-color="#440154"/></linearGradient><linearGradient id="hB64"><stop offset="0.000" stop-color="#440154"/><stop offset="0.158" stop-color="#440154"/><stop offset="0.174" stop-color="#481769"/><stop offset="0.189" stop-color="#3e4a89"/><stop offset="0.205" stop-color="#32648e"/><stop offset="0.221" stop-color="#297b8e"/><stop offset="0.237" stop-color="#21918c"/><stop offset="0.253" stop-color="#21a585"/><stop offset="0.268" stop-color="#38b977"/><stop offset="0.284" stop-color="#63cb5f"/><stop offset="0.300" stop-color="#98d83e"/><stop offset="0.316" stop-color="#cde11d"/><stop offset="0.332" stop-color="#f4e61e"/><stop offset="0.347" stop-color="#e2e418"/><stop offset="0.363" stop-color="#b8de29"/><stop offset="0.379" stop-color="#7fd34e"/><stop offset="0.395" stop-color="#4ec36b"/><stop offset="0.411" stop-color="#2ab07f"/><stop offset="0.426" stop-color="#1e9c89"/><stop offset="0.442" stop-color="#24878e"/><stop offset="0.458" stop-color="#2d718e"/><stop offset="0.474" stop-color="#38598c"/><stop offset="0.489" stop-color="#463480"/><stop offset="0.505" stop-color="#440154"/><stop offset="0.995" stop-color="#440154"/></linearGradient><linearGradient id="hB65"><stop offset="0.000" stop-color="#440154"/><stop offset="0.158" stop-color="#440154"/><stop offset="0.174" stop-color="#470e61"/><stop offset="0.189" stop-color="#3f4788"/><stop offset="0.205" stop-color="#33628d"/><stop offset="0.221" stop-color="#29798e"/><stop offset="0.237" stop-color="#21908d"/><stop offset="0.253" stop-color="#20a486"/><stop offset="0.268" stop-color="#37b878"/><stop offset="0.284" stop-color="#63cb5f"/><stop offset="0.300" stop-color="#98d83e"/><stop offset="0.316" stop-color="#cde11d"/><stop offset="0.332" stop-color="#f4e61e"/><stop offset="0.347" stop-color="#e2e418"/><stop offset="0.363" stop-color="#b8de29"/><stop offset="0.379" stop-color="#7fd34e"/><stop offset="0.395" stop-color="#4cc26c"/><stop offset="0.411" stop-color="#29af7f"/><stop offset="0.426" stop-color="#1e9b8a"/><stop offset="0.442" stop-color="#25858e"/><stop offset="0.458" stop-color="#2e6f8e"/><stop offset="0.474" stop-color="#39568c"/><stop offset="0.489" stop-color="#472e7c"/><stop offset="0.505" stop-color="#440154"/><stop offset="0.995" stop-color="#440154"/></linearGradient><linearGradient id="hB66"><stop offset="0.000" stop-color="#440154"/><stop offset="0.158" stop-color="#440154"/><stop offset="0.174" stop-color="#450559"/><stop offset="0.189" stop-color="#424086"/><stop offset="0.205" stop-color="#34608d"/><stop offset="0.221" stop-color="#2a778e"/><stop offset="0.237" stop-color="#218e8d"/><stop offset="0.253" stop-color="#20a386"/><stop offset="0.268" stop-color="#37b878"/><stop offset="0.284" stop-color="#60ca60"/><stop offset="0.300" stop-color="#98d83e"/><stop offset="0.316" stop-color="#cde11d"/><stop offset="0.332" stop-color="#f4e61e"/><stop offset="0.347" stop-color="#e2e418"/><stop offset="0.363" stop-color="#b8de29"/><stop offset="0.379" stop-color="#7cd250"/><stop offset="0.395" stop-color="#4cc26c"/><stop offset="0.411" stop-color="#28ae80"/><stop offset="0.426" stop-color="#1f998a"/><stop offset="0.442" stop-color="#25838e"/><stop offset="0.458" stop-color="#2e6d8e"/><stop offset="0.474" stop-color="#3a538b"/><stop offset="0.489" stop-color="#482677"/><stop offset="0.505" stop-color="#440154"/><stop offset="0.995" stop-color="#440154"/></linearGradient><linearGradient id="cbv" x1="0" y1="0" x2="0" y2="1"><stop offset="0.00" stop-color="#fde725"/><stop offset="0.10" stop-color="#bddf26"/><stop offset="0.20" stop-color="#7ad151"/><stop offset="0.30" stop-color="#44bf70"/><stop offset="0.40" stop-color="#22a884"/><stop offset="0.50" stop-color="#21918c"/><stop offset="0.60" stop-color="#2a788e"/><stop offset="0.70" stop-color="#355f8d"/><stop offset="0.80" stop-color="#414487"/><stop offset="0.90" stop-color="#482475"/><stop offset="1.00" stop-color="#440154"/></linearGradient><clipPath id="cf"><rect x="295.0" y="149.3" width="192.3" height="65.79999999999998"/></clipPath></defs><g id="pa"><rect x="5" y="6" width="67.7" height="60.8" fill="#a9b1d1"/><rect x="5" y="41" width="67.7" height="11" fill="#a68dbd"/><rect x="5" y="52" width="67.7" height="14.8" fill="#727ca8"/><polygon points="23.5,20 56.3,20 61.6,41.2 17.8,41.2" fill="#a18ab9"/><g stroke="#222" stroke-width="0.7" fill="#222"><line x1="25.5" y1="18.6" x2="54.5" y2="18.6"/><polygon points="23.8,18.6 26.8,17.4 26.8,19.8" stroke="none"/><polygon points="56.2,18.6 53.2,17.4 53.2,19.8" stroke="none"/><line x1="62.4" y1="22" x2="62.4" y2="49"/><polygon points="62.4,20.2 61.2,23.2 63.6,23.2" stroke="none"/><polygon points="62.4,50.8 61.2,47.8 63.6,47.8" stroke="none"/><line x1="7.6" y1="43.5" x2="7.6" y2="49"/><polygon points="7.6,41.5 6.5,44.3 8.7,44.3" stroke="none"/><polygon points="7.6,51 6.5,48.2 8.7,48.2" stroke="none"/></g><text x="35.4" y="17.1" style="font-family:'Liberation Sans',Arial,sans-serif;font-size:9px" fill="#1a1a1a" stroke="#1a1a1a" stroke-width="0.3">w</text><text x="64.9" y="38.4" style="font-family:'Liberation Sans',Arial,sans-serif;font-size:8.9px" fill="#1a1a1a" stroke="#1a1a1a" stroke-width="0.3">h</text><text x="22.5" y="39.2" style="font-family:'Liberation Sans',Arial,sans-serif;font-size:9px" fill="#1a1a1a" stroke="#1a1a1a" stroke-width="0.3">θ</text><path d="M18.9,39.5 Q19.2,36 21,34.3" stroke="#1a1a1a" stroke-width="0.7" fill="none"/><path d="M19,39.9 H28" stroke="#e8e4f0" stroke-width="0.6" fill="none"/><text x="10.9" y="48.6" style="font-family:'Liberation Sans',Arial,sans-serif;font-size:8.8px" fill="#1a1a1a" stroke="#1a1a1a" stroke-width="0.3">t</text><text x="13.4" y="50.8" style="font-family:'Liberation Sans',Arial,sans-serif;font-size:4.6px" fill="#1a1a1a" stroke="#1a1a1a" stroke-width="0.3">slab</text><text x="6.8" y="14.7" style="font-family:'Liberation Sans',Arial,sans-serif;font-size:8.2px;font-weight:bold" fill="#1a1a1a" stroke="#1a1a1a" stroke-width="0.3">(a)</text></g><g clip-path="url(#cb)"><rect x="74.5" y="6.1" width="74.6" height="61" fill="url(#bgb)"/><ellipse cx="110.0" cy="35.4" rx="31.5" ry="21.5" fill="url(#mb)"/><ellipse cx="110.0" cy="34.8" rx="19.5" ry="12.4" fill="url(#mbi)"/><path d="M74.5,39.9 H84.4 L96.6,20.8 H127.4 L136.9,39.9 H149.1 M74.5,51.3 H149.1" stroke="#2a2a4a" stroke-width="0.8" fill="none"/></g><text x="76.3" y="14.7" style="font-family:'Liberation Sans',Arial,sans-serif;font-size:8.2px;font-weight:bold" fill="#1a1a1a" stroke="#1a1a1a" stroke-width="0.3">(b)</text><text x="146.8" y="13.7" text-anchor="end" style="font-family:'Liberation Sans',Arial,sans-serif;font-size:8.7px" fill="#222" stroke="#222" stroke-width="0.3">Design A</text><text x="76.4" y="65.4" style="font-family:'Liberation Sans',Arial,sans-serif;font-size:8.7px" fill="#222" stroke="#222" stroke-width="0.3">θ = 60°</text><g clip-path="url(#cc)"><rect x="150.3" y="6.1" width="74.4" height="61" fill="url(#bgc)"/><ellipse cx="186.5" cy="35.0" rx="26.5" ry="22.8" fill="url(#mc)"/><ellipse cx="186.7" cy="35.3" rx="16.5" ry="14" fill="url(#mci)"/><path d="M150.3,50.4 H164.1 L171.6,20.5 H202.5 L210.2,50.4 H224.7" stroke="#2a2a4a" stroke-width="0.8" fill="none"/><path d="M150.3,50.4 H224.7" stroke="#2a2a4a" stroke-width="0.8" fill="none"/></g><text x="152.2" y="14.7" style="font-family:'Liberation Sans',Arial,sans-serif;font-size:8.2px;font-weight:bold" fill="#1a1a1a" stroke="#1a1a1a" stroke-width="0.3">(c)</text><text x="222.4" y="13.7" text-anchor="end" style="font-family:'Liberation Sans',Arial,sans-serif;font-size:8.7px" fill="#222" stroke="#222" stroke-width="0.3">Design B</text><text x="152.2" y="65.4" style="font-family:'Liberation Sans',Arial,sans-serif;font-size:8.7px" fill="#222" stroke="#222" stroke-width="0.3">θ = 75°</text><rect x="227.6" y="19.6" width="6.2" height="31" fill="url(#cbm)" stroke="#6a6a78" stroke-width="0.5"/><text x="235.6" y="24.5" style="font-family:'Liberation Sans',Arial,sans-serif;font-size:8.7px" fill="#222" stroke="#222" stroke-width="0.3">1</text><text x="235.6" y="39" style="font-family:'Liberation Sans',Arial,sans-serif;font-size:8.7px" fill="#222" stroke="#222" stroke-width="0.3">a.u.</text><text x="235.6" y="53.6" style="font-family:'Liberation Sans',Arial,sans-serif;font-size:8.7px" fill="#222" stroke="#222" stroke-width="0.3">0</text><rect x="36.8" y="77.6" width="200.5" height="89.4" fill="#fef1e3"/><rect x="36.8" y="167" width="200.5" height="48.5" fill="#f0edf7"/><line x1="36.8" y1="167" x2="237.3" y2="167" stroke="#9c9898" stroke-width="1"/><g clip-path="url(#cd)" fill="none" stroke-width="1.15"><path d="M37.00,134.32 L38.50,135.47 L40.00,136.61 L41.50,137.74 L43.00,138.87 L44.50,139.98 L46.00,141.08 L47.50,142.17 L49.00,143.25 L50.50,144.32 L52.00,145.37 L53.50,146.41 L55.00,147.44 L56.50,148.45 L58.00,149.45 L59.50,150.44 L61.00,151.41 L62.50,152.36 L64.00,153.30 L65.50,154.22 L67.00,155.12 L68.50,156.01 L70.00,156.88 L71.50,157.73 L73.00,158.56 L74.50,159.37 L76.00,160.15 L77.50,160.92 L79.00,161.67 L80.50,162.40 L82.00,163.10 L83.50,163.79 L85.00,164.44 L86.50,165.08 L88.00,165.69 L89.50,166.28 L91.00,166.84 L92.50,167.38 L94.00,167.89 L95.50,168.37 L97.00,168.83 L98.50,169.26 L100.00,169.67 L101.50,170.04 L103.00,170.39 L104.50,170.70 L106.00,170.99 L107.50,171.25 L109.00,171.47 L110.50,171.67 L112.00,171.83 L113.50,171.96 L115.00,172.06 L116.50,172.13 L118.00,172.16 L119.50,172.16 L121.00,172.12 L122.50,172.05 L124.00,171.94 L125.50,171.80 L127.00,171.62 L128.50,171.41 L130.00,171.15 L131.50,170.86 L133.00,170.53 L134.50,170.16 L136.00,169.76 L137.50,169.31 L139.00,168.82 L140.50,168.30 L142.00,167.73 L143.50,167.12 L145.00,166.46 L146.50,165.77 L148.00,165.03 L149.50,164.25 L151.00,163.42 L152.50,162.55 L154.00,161.63 L155.50,160.67 L157.00,159.67 L158.50,158.61 L160.00,157.51 L161.50,156.36 L163.00,155.17 L164.50,153.92 L166.00,152.63 L167.50,151.29 L169.00,149.90 L170.50,148.46 L172.00,146.96 L173.50,145.42 L175.00,143.82 L176.50,142.17 L178.00,140.47 L179.50,138.72 L181.00,136.91 L182.50,135.05 L184.00,133.14 L185.50,131.16 L187.00,129.14 L188.50,127.05 L190.00,124.92 L191.50,122.72 L193.00,120.47 L194.50,118.16 L196.00,115.79 L197.50,113.36 L199.00,110.87 L200.50,108.32 L202.00,105.71 L203.50,103.04 L205.00,100.31 L206.50,97.52 L208.00,94.67 L209.50,91.75 L211.00,88.77 L212.50,85.73 L214.00,82.62 L215.50,79.45 L217.00,76.21 L218.50,72.91 L220.00,69.54" stroke="#3874b0" stroke-dasharray="2.9,1.8"/><path d="M37.00,134.50 L38.50,135.63 L40.00,136.76 L41.50,137.87 L43.00,138.98 L44.50,140.07 L46.00,141.15 L47.50,142.22 L49.00,143.28 L50.50,144.33 L52.00,145.37 L53.50,146.39 L55.00,147.40 L56.50,148.40 L58.00,149.38 L59.50,150.35 L61.00,151.31 L62.50,152.26 L64.00,153.19 L65.50,154.10 L67.00,155.00 L68.50,155.89 L70.00,156.76 L71.50,157.62 L73.00,158.46 L74.50,159.29 L76.00,160.10 L77.50,160.89 L79.00,161.67 L80.50,162.43 L82.00,163.17 L83.50,163.90 L85.00,164.61 L86.50,165.30 L88.00,165.98 L89.50,166.64 L91.00,167.28 L92.50,167.90 L94.00,168.50 L95.50,169.08 L97.00,169.65 L98.50,170.19 L100.00,170.72 L101.50,171.22 L103.00,171.71 L104.50,172.17 L106.00,172.62 L107.50,173.04 L109.00,173.45 L110.50,173.83 L112.00,174.19 L113.50,174.53 L115.00,174.85 L116.50,175.14 L118.00,175.41 L119.50,175.66 L121.00,175.89 L122.50,176.10 L124.00,176.28 L125.50,176.44 L127.00,176.57 L128.50,176.68 L130.00,176.77 L131.50,176.83 L133.00,176.86 L134.50,176.88 L136.00,176.86 L137.50,176.82 L139.00,176.76 L140.50,176.67 L142.00,176.55 L143.50,176.41 L145.00,176.24 L146.50,176.05 L148.00,175.83 L149.50,175.58 L151.00,175.30 L152.50,174.99 L154.00,174.66 L155.50,174.30 L157.00,173.91 L158.50,173.49 L160.00,173.03 L161.50,172.55 L163.00,172.03 L164.50,171.48 L166.00,170.89 L167.50,170.27 L169.00,169.61 L170.50,168.92 L172.00,168.18 L173.50,167.41 L175.00,166.60 L176.50,165.75 L178.00,164.86 L179.50,163.92 L181.00,162.94 L182.50,161.90 L184.00,160.82 L185.50,159.68 L187.00,158.48 L188.50,157.23 L190.00,155.91 L191.50,154.53 L193.00,153.08 L194.50,151.56 L196.00,149.97 L197.50,148.30 L199.00,146.56 L200.50,144.74 L202.00,142.85 L203.50,140.89 L205.00,138.87 L206.50,136.80 L208.00,134.67 L209.50,132.50 L211.00,130.28 L212.50,128.03 L214.00,125.74 L215.50,123.42 L217.00,121.07 L218.50,118.71 L220.00,116.32 L221.50,113.93 L223.00,111.53 L224.50,109.13 L226.00,106.73 L227.50,104.34 L229.00,101.96 L230.50,99.60 L232.00,97.25 L233.50,94.93 L235.00,92.64 L236.50,90.39 L238.00,88.17 L239.50,86.00 L240.00,85.29" stroke="#c43848" stroke-dasharray="2.9,1.8"/><path d="M37.00,134.98 L38.50,136.03 L40.00,137.07 L41.50,138.11 L43.00,139.14 L44.50,140.16 L46.00,141.18 L47.50,142.19 L49.00,143.20 L50.50,144.19 L52.00,145.18 L53.50,146.16 L55.00,147.14 L56.50,148.10 L58.00,149.06 L59.50,150.01 L61.00,150.94 L62.50,151.87 L64.00,152.79 L65.50,153.70 L67.00,154.60 L68.50,155.49 L70.00,156.37 L71.50,157.24 L73.00,158.09 L74.50,158.94 L76.00,159.77 L77.50,160.59 L79.00,161.40 L80.50,162.19 L82.00,162.97 L83.50,163.74 L85.00,164.50 L86.50,165.24 L88.00,165.97 L89.50,166.68 L91.00,167.38 L92.50,168.06 L94.00,168.73 L95.50,169.38 L97.00,170.02 L98.50,170.64 L100.00,171.25 L101.50,171.84 L103.00,172.41 L104.50,172.96 L106.00,173.50 L107.50,174.02 L109.00,174.52 L110.50,175.01 L112.00,175.47 L113.50,175.92 L115.00,176.35 L116.50,176.75 L118.00,177.14 L119.50,177.51 L121.00,177.86 L122.50,178.19 L124.00,178.50 L125.50,178.79 L127.00,179.05 L128.50,179.30 L130.00,179.52 L131.50,179.72 L133.00,179.90 L134.50,180.05 L136.00,180.19 L137.50,180.30 L139.00,180.39 L140.50,180.45 L142.00,180.49 L143.50,180.50 L145.00,180.49 L146.50,180.46 L148.00,180.40 L149.50,180.32 L151.00,180.21 L152.50,180.07 L154.00,179.91 L155.50,179.72 L157.00,179.51 L158.50,179.27 L160.00,179.00 L161.50,178.70 L163.00,178.38 L164.50,178.02 L166.00,177.64 L167.50,177.24 L169.00,176.80 L170.50,176.33 L172.00,175.84 L173.50,175.31 L175.00,174.75 L176.50,174.17 L178.00,173.55 L179.50,172.90 L181.00,172.23 L182.50,171.52 L184.00,170.78 L185.50,170.00 L187.00,169.20 L188.50,168.36 L190.00,167.49 L191.50,166.59 L193.00,165.65 L194.50,164.68 L196.00,163.68 L197.50,162.64 L199.00,161.57 L200.50,160.47 L202.00,159.33 L203.50,158.15 L205.00,156.94 L206.50,155.69 L208.00,154.41 L209.50,153.09 L211.00,151.73 L212.50,150.34 L214.00,148.91 L215.50,147.45 L217.00,145.94 L218.50,144.40 L220.00,142.82 L221.50,141.20 L223.00,139.54 L224.50,137.85 L226.00,136.11 L227.50,134.34 L229.00,132.52 L230.50,130.67 L232.00,128.77 L233.50,126.84 L235.00,124.86 L236.50,122.84 L238.00,120.78 L239.50,118.68 L240.00,117.97" stroke="#3e9e4a" stroke-dasharray="2.9,1.8"/><path d="M37.00,134.50 L38.50,135.63 L40.00,136.76 L41.50,137.87 L43.00,138.98 L44.50,140.07 L46.00,141.15 L47.50,142.22 L49.00,143.28 L50.50,144.33 L52.00,145.37 L53.50,146.39 L55.00,147.40 L56.50,148.40 L58.00,149.38 L59.50,150.35 L61.00,151.31 L62.50,152.26 L64.00,153.19 L65.50,154.10 L67.00,155.00 L68.50,155.89 L70.00,156.76 L71.50,157.62 L73.00,158.46 L74.50,159.29 L76.00,160.10 L77.50,160.89 L79.00,161.67 L80.50,162.43 L82.00,163.17 L83.50,163.90 L85.00,164.61 L86.50,165.30 L88.00,165.98 L89.50,166.64 L91.00,167.28 L92.50,167.90 L94.00,168.50 L95.50,169.08" stroke="#8a8088" stroke-width="1.9" stroke-dasharray="2.9,1.8"/><path d="M37.00,142.75 L38.50,144.08 L40.00,145.41 L41.50,146.75 L43.00,148.09 L44.50,149.44 L46.00,150.79 L47.50,152.13 L49.00,153.48 L50.50,154.82 L52.00,156.17 L53.50,157.50 L55.00,158.84 L56.50,160.17 L58.00,161.49 L59.50,162.81 L61.00,164.12 L62.50,165.42 L64.00,166.71 L65.50,167.99 L67.00,169.26 L68.50,170.51 L70.00,171.76 L71.50,172.99 L73.00,174.20 L74.50,175.40 L76.00,176.58 L77.50,177.74 L79.00,178.88 L80.50,180.01 L82.00,181.11 L83.50,182.19 L85.00,183.25 L86.50,184.29 L88.00,185.30 L89.50,186.29 L91.00,187.25 L92.50,188.18 L94.00,189.09 L95.50,189.97 L97.00,190.81 L98.50,191.63 L100.00,192.41 L101.50,193.17 L103.00,193.89 L104.50,194.57 L106.00,195.22 L107.50,195.84 L109.00,196.41 L110.50,196.95 L112.00,197.45 L113.50,197.91 L115.00,198.33 L116.50,198.71 L118.00,199.05 L119.50,199.34 L121.00,199.59 L122.50,199.79 L124.00,199.95 L125.50,200.06 L127.00,200.12 L128.50,200.13 L130.00,200.09 L131.50,200.00 L133.00,199.87 L134.50,199.67 L136.00,199.43 L137.50,199.13 L139.00,198.77 L140.50,198.36 L142.00,197.89 L143.50,197.37 L145.00,196.77 L146.50,196.12 L148.00,195.40 L149.50,194.60 L151.00,193.74 L152.50,192.80 L154.00,191.78 L155.50,190.68 L157.00,189.51 L158.50,188.24 L160.00,186.90 L161.50,185.46 L163.00,183.93 L164.50,182.30 L166.00,180.58 L167.50,178.76 L169.00,176.84 L170.50,174.82 L172.00,172.69 L173.50,170.45 L175.00,168.10 L176.50,165.64 L178.00,163.06 L179.50,160.36 L181.00,157.54 L182.50,154.60 L184.00,151.54 L185.50,148.34 L187.00,145.02 L188.50,141.56 L190.00,137.96 L191.50,134.23 L193.00,130.36 L194.50,126.35 L196.00,122.19 L197.50,117.88 L199.00,113.43 L200.50,108.82 L202.00,104.05 L203.50,99.13 L205.00,94.05 L206.50,88.81 L208.00,83.41 L209.50,77.83 L211.00,72.09 L212.00,68.17" stroke="#3874b0"/><path d="M37.00,139.93 L38.50,141.04 L40.00,142.17 L41.50,143.30 L43.00,144.44 L44.50,145.59 L46.00,146.75 L47.50,147.91 L49.00,149.08 L50.50,150.25 L52.00,151.43 L53.50,152.61 L55.00,153.80 L56.50,154.99 L58.00,156.17 L59.50,157.36 L61.00,158.55 L62.50,159.75 L64.00,160.94 L65.50,162.12 L67.00,163.31 L68.50,164.49 L70.00,165.67 L71.50,166.85 L73.00,168.02 L74.50,169.19 L76.00,170.35 L77.50,171.50 L79.00,172.64 L80.50,173.78 L82.00,174.91 L83.50,176.03 L85.00,177.14 L86.50,178.24 L88.00,179.33 L89.50,180.41 L91.00,181.47 L92.50,182.52 L94.00,183.56 L95.50,184.58 L97.00,185.59 L98.50,186.58 L100.00,187.55 L101.50,188.51 L103.00,189.45 L104.50,190.37 L106.00,191.28 L107.50,192.16 L109.00,193.02 L110.50,193.86 L112.00,194.68 L113.50,195.48 L115.00,196.26 L116.50,197.01 L118.00,197.73 L119.50,198.44 L121.00,199.11 L122.50,199.76 L124.00,200.39 L125.50,200.98 L127.00,201.55 L128.50,202.09 L130.00,202.60 L131.50,203.08 L133.00,203.53 L134.50,203.94 L136.00,204.33 L137.50,204.68 L139.00,205.00 L140.50,205.29 L142.00,205.54 L143.50,205.75 L145.00,205.93 L146.50,206.07 L148.00,206.18 L149.50,206.24 L151.00,206.26 L152.50,206.24 L154.00,206.18 L155.50,206.07 L157.00,205.91 L158.50,205.70 L160.00,205.44 L161.50,205.13 L163.00,204.77 L164.50,204.36 L166.00,203.89 L167.50,203.36 L169.00,202.77 L170.50,202.12 L172.00,201.42 L173.50,200.64 L175.00,199.81 L176.50,198.91 L178.00,197.94 L179.50,196.89 L181.00,195.78 L182.50,194.59 L184.00,193.31 L185.50,191.95 L187.00,190.51 L188.50,188.97 L190.00,187.34 L191.50,185.61 L193.00,183.78 L194.50,181.84 L196.00,179.80 L197.50,177.64 L199.00,175.38 L200.50,172.99 L202.00,170.49 L203.50,167.87 L205.00,165.15 L206.50,162.32 L208.00,159.40 L209.50,156.39 L211.00,153.29 L212.50,150.11 L214.00,146.86 L215.50,143.54 L217.00,140.15 L218.50,136.71 L220.00,133.21 L221.50,129.66 L223.00,126.07 L224.50,122.45 L226.00,118.79 L227.50,115.11 L229.00,111.40 L230.50,107.68 L232.00,103.95 L233.50,100.22 L235.00,96.48 L236.50,92.75 L238.00,89.04 L239.50,85.34 L240.00,84.11" stroke="#c43848"/><path d="M37.00,138.93 L38.50,139.89 L40.00,140.86 L41.50,141.83 L43.00,142.82 L44.50,143.81 L46.00,144.81 L47.50,145.81 L49.00,146.82 L50.50,147.84 L52.00,148.86 L53.50,149.88 L55.00,150.91 L56.50,151.95 L58.00,152.98 L59.50,154.02 L61.00,155.06 L62.50,156.11 L64.00,157.15 L65.50,158.20 L67.00,159.24 L68.50,160.29 L70.00,161.33 L71.50,162.38 L73.00,163.42 L74.50,164.46 L76.00,165.50 L77.50,166.54 L79.00,167.57 L80.50,168.60 L82.00,169.63 L83.50,170.65 L85.00,171.67 L86.50,172.68 L88.00,173.69 L89.50,174.69 L91.00,175.68 L92.50,176.67 L94.00,177.65 L95.50,178.62 L97.00,179.58 L98.50,180.53 L100.00,181.47 L101.50,182.41 L103.00,183.33 L104.50,184.24 L106.00,185.15 L107.50,186.04 L109.00,186.91 L110.50,187.78 L112.00,188.63 L113.50,189.47 L115.00,190.30 L116.50,191.11 L118.00,191.90 L119.50,192.68 L121.00,193.45 L122.50,194.20 L124.00,194.93 L125.50,195.65 L127.00,196.35 L128.50,197.03 L130.00,197.69 L131.50,198.33 L133.00,198.95 L134.50,199.56 L136.00,200.14 L137.50,200.71 L139.00,201.25 L140.50,201.77 L142.00,202.27 L143.50,202.74 L145.00,203.20 L146.50,203.63 L148.00,204.04 L149.50,204.42 L151.00,204.77 L152.50,205.10 L154.00,205.40 L155.50,205.68 L157.00,205.92 L158.50,206.14 L160.00,206.32 L161.50,206.47 L163.00,206.59 L164.50,206.68 L166.00,206.73 L167.50,206.75 L169.00,206.73 L170.50,206.67 L172.00,206.58 L173.50,206.44 L175.00,206.27 L176.50,206.06 L178.00,205.80 L179.50,205.50 L181.00,205.16 L182.50,204.78 L184.00,204.35 L185.50,203.88 L187.00,203.35 L188.50,202.79 L190.00,202.17 L191.50,201.50 L193.00,200.78 L194.50,200.02 L196.00,199.20 L197.50,198.33 L199.00,197.40 L200.50,196.42 L202.00,195.38 L203.50,194.29 L205.00,193.14 L206.50,191.94 L208.00,190.67 L209.50,189.35 L211.00,187.96 L212.50,186.51 L214.00,185.00 L215.50,183.43 L217.00,181.79 L218.50,180.09 L220.00,178.32 L221.50,176.49 L223.00,174.58 L224.50,172.61 L226.00,170.57 L227.50,168.46 L229.00,166.28 L230.50,164.03 L232.00,161.70 L233.50,159.30 L235.00,156.83 L236.50,154.28 L238.00,151.65 L239.50,148.95 L240.00,148.03" stroke="#3e9e4a"/></g><text x="92.8" y="150.6" style="font-family:'Liberation Sans',Arial,sans-serif;font-size:8.7px" fill="#f29848" stroke="#f29848" stroke-width="0.3">normal dispersion</text><text x="43.8" y="190.6" style="font-family:'Liberation Sans',Arial,sans-serif;font-size:8.7px" fill="#9272c8" stroke="#9272c8" stroke-width="0.3">anomalous</text><text x="43.8" y="199.4" style="font-family:'Liberation Sans',Arial,sans-serif;font-size:8.7px" fill="#9272c8" stroke="#9272c8" stroke-width="0.3">dispersion</text><rect x="40.6" y="82.2" width="70" height="38.4" rx="1.5" fill="#fffdfa" fill-opacity="0.85" stroke="#d8d4d0" stroke-width="0.6"/><line x1="44.3" y1="88.8" x2="57.3" y2="88.8" stroke="#3874b0" stroke-width="0.95"/><text x="64" y="91.90" style="font-family:'Liberation Sans',Arial,sans-serif;font-size:8.7px" fill="#1a1a1a" stroke="#1a1a1a" stroke-width="0.3">w = 0.8 µm</text><line x1="44.3" y1="101.25" x2="57.3" y2="101.25" stroke="#c43848" stroke-width="0.95"/><text x="64" y="104.35" style="font-family:'Liberation Sans',Arial,sans-serif;font-size:8.7px" fill="#1a1a1a" stroke="#1a1a1a" stroke-width="0.3">w = 1.0 µm</text><line x1="44.3" y1="113.69999999999999" x2="57.3" y2="113.69999999999999" stroke="#3e9e4a" stroke-width="0.95"/><text x="64" y="116.80" style="font-family:'Liberation Sans',Arial,sans-serif;font-size:8.7px" fill="#1a1a1a" stroke="#1a1a1a" stroke-width="0.3">w = 1.2 µm</text><rect x="114.6" y="81.3" width="60.2" height="27.9" rx="1.5" fill="#fffdfa" fill-opacity="0.85" stroke="#d8d4d0" stroke-width="0.6"/><line x1="117.6" y1="88.4" x2="130.5" y2="88.4" stroke="#333" stroke-width="0.95" stroke-dasharray="2.9,1.8"/><line x1="117.6" y1="101.2" x2="130.5" y2="101.2" stroke="#333" stroke-width="0.95"/><text x="137.5" y="91.5" style="font-family:'Liberation Sans',Arial,sans-serif;font-size:8.7px" fill="#1a1a1a" stroke="#1a1a1a" stroke-width="0.3">Design A</text><text x="137.5" y="104.3" style="font-family:'Liberation Sans',Arial,sans-serif;font-size:8.7px" fill="#1a1a1a" stroke="#1a1a1a" stroke-width="0.3">Design B</text><rect x="36.8" y="77.6" width="200.5" height="137.9" fill="none" stroke="#2a2a2a" stroke-width="0.9"/><text x="33" y="88.90" text-anchor="end" style="font-family:'Liberation Sans',Arial,sans-serif;font-size:8.7px" fill="#1a1a1a" stroke="#1a1a1a" stroke-width="0.3">500</text><text x="33" y="129.50" text-anchor="end" style="font-family:'Liberation Sans',Arial,sans-serif;font-size:8.7px" fill="#1a1a1a" stroke="#1a1a1a" stroke-width="0.3">250</text><text x="33" y="170.10" text-anchor="end" style="font-family:'Liberation Sans',Arial,sans-serif;font-size:8.7px" fill="#1a1a1a" stroke="#1a1a1a" stroke-width="0.3">0</text><text x="33" y="210.70" text-anchor="end" style="font-family:'Liberation Sans',Arial,sans-serif;font-size:8.7px" fill="#1a1a1a" stroke="#1a1a1a" stroke-width="0.3">−250</text><text x="51.00" y="226.4" text-anchor="middle" style="font-family:'Liberation Sans',Arial,sans-serif;font-size:8.7px" fill="#1a1a1a" stroke="#1a1a1a" stroke-width="0.3">1.00</text><text x="85.47" y="226.4" text-anchor="middle" style="font-family:'Liberation Sans',Arial,sans-serif;font-size:8.7px" fill="#1a1a1a" stroke="#1a1a1a" stroke-width="0.3">1.25</text><text x="119.95" y="226.4" text-anchor="middle" style="font-family:'Liberation Sans',Arial,sans-serif;font-size:8.7px" fill="#1a1a1a" stroke="#1a1a1a" stroke-width="0.3">1.50</text><text x="154.43" y="226.4" text-anchor="middle" style="font-family:'Liberation Sans',Arial,sans-serif;font-size:8.7px" fill="#1a1a1a" stroke="#1a1a1a" stroke-width="0.3">1.75</text><text x="188.90" y="226.4" text-anchor="middle" style="font-family:'Liberation Sans',Arial,sans-serif;font-size:8.7px" fill="#1a1a1a" stroke="#1a1a1a" stroke-width="0.3">2.00</text><text x="223.38" y="226.4" text-anchor="middle" style="font-family:'Liberation Sans',Arial,sans-serif;font-size:8.7px" fill="#1a1a1a" stroke="#1a1a1a" stroke-width="0.3">2.25</text><path d="M36.8,85.80h2 M36.8,126.40h2 M36.8,167.00h2 M36.8,207.60h2 M51.00,215.5v-2 M85.47,215.5v-2 M119.95,215.5v-2 M154.43,215.5v-2 M188.90,215.5v-2 M223.38,215.5v-2" stroke="#2a2a2a" stroke-width="0.8"/><text x="137" y="237.8" text-anchor="middle" style="font-family:'Liberation Sans',Arial,sans-serif;font-size:8.7px" fill="#1a1a1a" stroke="#1a1a1a" stroke-width="0.3">Wavelength (µm)</text><text transform="translate(7.6 146.4) rotate(-90)" text-anchor="middle" style="font-family:'Liberation Sans',Arial,sans-serif;font-size:8.7px" fill="#1a1a1a" stroke="#1a1a1a" stroke-width="0.3">GVD (fs²/mm)</text><text x="0.6" y="82.6" style="font-family:'Liberation Sans',Arial,sans-serif;font-size:8.4px;font-weight:bold" fill="#1a1a1a" stroke="#1a1a1a" stroke-width="0.3">(d)</text><g clip-path="url(#hAc)" shape-rendering="crispEdges"><rect x="293.8" y="25" width="95.59999999999997" height="1" fill="url(#hA0)"/><rect x="293.8" y="26" width="95.59999999999997" height="1" fill="url(#hA1)"/><rect x="293.8" y="27" width="95.59999999999997" height="1" fill="url(#hA2)"/><rect x="293.8" y="28" width="95.59999999999997" height="1" fill="url(#hA3)"/><rect x="293.8" y="29" width="95.59999999999997" height="1" fill="url(#hA4)"/><rect x="293.8" y="30" width="95.59999999999997" height="1" fill="url(#hA5)"/><rect x="293.8" y="31" width="95.59999999999997" height="1" fill="url(#hA6)"/><rect x="293.8" y="32" width="95.59999999999997" height="1" fill="url(#hA7)"/><rect x="293.8" y="33" width="95.59999999999997" height="1" fill="url(#hA8)"/><rect x="293.8" y="34" width="95.59999999999997" height="1" fill="url(#hA9)"/><rect x="293.8" y="35" width="95.59999999999997" height="1" fill="url(#hA10)"/><rect x="293.8" y="36" width="95.59999999999997" height="1" fill="url(#hA11)"/><rect x="293.8" y="37" width="95.59999999999997" height="1" fill="url(#hA12)"/><rect x="293.8" y="38" width="95.59999999999997" height="1" fill="url(#hA13)"/><rect x="293.8" y="39" width="95.59999999999997" height="1" fill="url(#hA14)"/><rect x="293.8" y="40" width="95.59999999999997" height="1" fill="url(#hA15)"/><rect x="293.8" y="41" width="95.59999999999997" height="1" fill="url(#hA16)"/><rect x="293.8" y="42" width="95.59999999999997" height="1" fill="url(#hA17)"/><rect x="293.8" y="43" width="95.59999999999997" height="1" fill="url(#hA18)"/><rect x="293.8" y="44" width="95.59999999999997" height="1" fill="url(#hA19)"/><rect x="293.8" y="45" width="95.59999999999997" height="1" fill="url(#hA20)"/><rect x="293.8" y="46" width="95.59999999999997" height="1" fill="url(#hA21)"/><rect x="293.8" y="47" width="95.59999999999997" height="1" fill="url(#hA22)"/><rect x="293.8" y="48" width="95.59999999999997" height="1" fill="url(#hA23)"/><rect x="293.8" y="49" width="95.59999999999997" height="1" fill="url(#hA24)"/><rect x="293.8" y="50" width="95.59999999999997" height="1" fill="url(#hA25)"/><rect x="293.8" y="51" width="95.59999999999997" height="1" fill="url(#hA26)"/><rect x="293.8" y="52" width="95.59999999999997" height="1" fill="url(#hA27)"/><rect x="293.8" y="53" width="95.59999999999997" height="1" fill="url(#hA28)"/><rect x="293.8" y="54" width="95.59999999999997" height="1" fill="url(#hA29)"/><rect x="293.8" y="55" width="95.59999999999997" height="1" fill="url(#hA30)"/><rect x="293.8" y="56" width="95.59999999999997" height="1" fill="url(#hA31)"/><rect x="293.8" y="57" width="95.59999999999997" height="1" fill="url(#hA32)"/><rect x="293.8" y="58" width="95.59999999999997" height="1" fill="url(#hA33)"/><rect x="293.8" y="59" width="95.59999999999997" height="1" fill="url(#hA34)"/><rect x="293.8" y="60" width="95.59999999999997" height="1" fill="url(#hA35)"/><rect x="293.8" y="61" width="95.59999999999997" height="1" fill="url(#hA36)"/><rect x="293.8" y="62" width="95.59999999999997" height="1" fill="url(#hA37)"/><rect x="293.8" y="63" width="95.59999999999997" height="1" fill="url(#hA38)"/><rect x="293.8" y="64" width="95.59999999999997" height="1" fill="url(#hA39)"/><rect x="293.8" y="65" width="95.59999999999997" height="1" fill="url(#hA40)"/><rect x="293.8" y="66" width="95.59999999999997" height="1" fill="url(#hA41)"/><rect x="293.8" y="67" width="95.59999999999997" height="1" fill="url(#hA42)"/><rect x="293.8" y="68" width="95.59999999999997" height="1" fill="url(#hA43)"/><rect x="293.8" y="69" width="95.59999999999997" height="1" fill="url(#hA44)"/><rect x="293.8" y="70" width="95.59999999999997" height="1" fill="url(#hA45)"/><rect x="293.8" y="71" width="95.59999999999997" height="1" fill="url(#hA46)"/><rect x="293.8" y="72" width="95.59999999999997" height="1" fill="url(#hA47)"/><rect x="293.8" y="73" width="95.59999999999997" height="1" fill="url(#hA48)"/><rect x="293.8" y="74" width="95.59999999999997" height="1" fill="url(#hA49)"/><rect x="293.8" y="75" width="95.59999999999997" height="1" fill="url(#hA50)"/><rect x="293.8" y="76" width="95.59999999999997" height="1" fill="url(#hA51)"/><rect x="293.8" y="77" width="95.59999999999997" height="1" fill="url(#hA52)"/><rect x="293.8" y="78" width="95.59999999999997" height="1" fill="url(#hA53)"/><rect x="293.8" y="79" width="95.59999999999997" height="1" fill="url(#hA54)"/><rect x="293.8" y="80" width="95.59999999999997" height="1" fill="url(#hA55)"/><rect x="293.8" y="81" width="95.59999999999997" height="1" fill="url(#hA56)"/><rect x="293.8" y="82" width="95.59999999999997" height="1" fill="url(#hA57)"/><rect x="293.8" y="83" width="95.59999999999997" height="1" fill="url(#hA58)"/><rect x="293.8" y="84" width="95.59999999999997" height="1" fill="url(#hA59)"/><rect x="293.8" y="85" width="95.59999999999997" height="1" fill="url(#hA60)"/><rect x="293.8" y="86" width="95.59999999999997" height="1" fill="url(#hA61)"/><rect x="293.8" y="87" width="95.59999999999997" height="1" fill="url(#hA62)"/><rect x="293.8" y="88" width="95.59999999999997" height="1" fill="url(#hA63)"/><rect x="293.8" y="89" width="95.59999999999997" height="1" fill="url(#hA64)"/><rect x="293.8" y="90" width="95.59999999999997" height="1" fill="url(#hA65)"/><rect x="293.8" y="91" width="95.59999999999997" height="1" fill="url(#hA66)"/></g><g clip-path="url(#hBc)" shape-rendering="crispEdges"><rect x="395.7" y="25" width="95.0" height="1" fill="url(#hB0)"/><rect x="395.7" y="26" width="95.0" height="1" fill="url(#hB1)"/><rect x="395.7" y="27" width="95.0" height="1" fill="url(#hB2)"/><rect x="395.7" y="28" width="95.0" height="1" fill="url(#hB3)"/><rect x="395.7" y="29" width="95.0" height="1" fill="url(#hB4)"/><rect x="395.7" y="30" width="95.0" height="1" fill="url(#hB5)"/><rect x="395.7" y="31" width="95.0" height="1" fill="url(#hB6)"/><rect x="395.7" y="32" width="95.0" height="1" fill="url(#hB7)"/><rect x="395.7" y="33" width="95.0" height="1" fill="url(#hB8)"/><rect x="395.7" y="34" width="95.0" height="1" fill="url(#hB9)"/><rect x="395.7" y="35" width="95.0" height="1" fill="url(#hB10)"/><rect x="395.7" y="36" width="95.0" height="1" fill="url(#hB11)"/><rect x="395.7" y="37" width="95.0" height="1" fill="url(#hB12)"/><rect x="395.7" y="38" width="95.0" height="1" fill="url(#hB13)"/><rect x="395.7" y="39" width="95.0" height="1" fill="url(#hB14)"/><rect x="395.7" y="40" width="95.0" height="1" fill="url(#hB15)"/><rect x="395.7" y="41" width="95.0" height="1" fill="url(#hB16)"/><rect x="395.7" y="42" width="95.0" height="1" fill="url(#hB17)"/><rect x="395.7" y="43" width="95.0" height="1" fill="url(#hB18)"/><rect x="395.7" y="44" width="95.0" height="1" fill="url(#hB19)"/><rect x="395.7" y="45" width="95.0" height="1" fill="url(#hB20)"/><rect x="395.7" y="46" width="95.0" height="1" fill="url(#hB21)"/><rect x="395.7" y="47" width="95.0" height="1" fill="url(#hB22)"/><rect x="395.7" y="48" width="95.0" height="1" fill="url(#hB23)"/><rect x="395.7" y="49" width="95.0" height="1" fill="url(#hB24)"/><rect x="395.7" y="50" width="95.0" height="1" fill="url(#hB25)"/><rect x="395.7" y="51" width="95.0" height="1" fill="url(#hB26)"/><rect x="395.7" y="52" width="95.0" height="1" fill="url(#hB27)"/><rect x="395.7" y="53" width="95.0" height="1" fill="url(#hB28)"/><rect x="395.7" y="54" width="95.0" height="1" fill="url(#hB29)"/><rect x="395.7" y="55" width="95.0" height="1" fill="url(#hB30)"/><rect x="395.7" y="56" width="95.0" height="1" fill="url(#hB31)"/><rect x="395.7" y="57" width="95.0" height="1" fill="url(#hB32)"/><rect x="395.7" y="58" width="95.0" height="1" fill="url(#hB33)"/><rect x="395.7" y="59" width="95.0" height="1" fill="url(#hB34)"/><rect x="395.7" y="60" width="95.0" height="1" fill="url(#hB35)"/><rect x="395.7" y="61" width="95.0" height="1" fill="url(#hB36)"/><rect x="395.7" y="62" width="95.0" height="1" fill="url(#hB37)"/><rect x="395.7" y="63" width="95.0" height="1" fill="url(#hB38)"/><rect x="395.7" y="64" width="95.0" height="1" fill="url(#hB39)"/><rect x="395.7" y="65" width="95.0" height="1" fill="url(#hB40)"/><rect x="395.7" y="66" width="95.0" height="1" fill="url(#hB41)"/><rect x="395.7" y="67" width="95.0" height="1" fill="url(#hB42)"/><rect x="395.7" y="68" width="95.0" height="1" fill="url(#hB43)"/><rect x="395.7" y="69" width="95.0" height="1" fill="url(#hB44)"/><rect x="395.7" y="70" width="95.0" height="1" fill="url(#hB45)"/><rect x="395.7" y="71" width="95.0" height="1" fill="url(#hB46)"/><rect x="395.7" y="72" width="95.0" height="1" fill="url(#hB47)"/><rect x="395.7" y="73" width="95.0" height="1" fill="url(#hB48)"/><rect x="395.7" y="74" width="95.0" height="1" fill="url(#hB49)"/><rect x="395.7" y="75" width="95.0" height="1" fill="url(#hB50)"/><rect x="395.7" y="76" width="95.0" height="1" fill="url(#hB51)"/><rect x="395.7" y="77" width="95.0" height="1" fill="url(#hB52)"/><rect x="395.7" y="78" width="95.0" height="1" fill="url(#hB53)"/><rect x="395.7" y="79" width="95.0" height="1" fill="url(#hB54)"/><rect x="395.7" y="80" width="95.0" height="1" fill="url(#hB55)"/><rect x="395.7" y="81" width="95.0" height="1" fill="url(#hB56)"/><rect x="395.7" y="82" width="95.0" height="1" fill="url(#hB57)"/><rect x="395.7" y="83" width="95.0" height="1" fill="url(#hB58)"/><rect x="395.7" y="84" width="95.0" height="1" fill="url(#hB59)"/><rect x="395.7" y="85" width="95.0" height="1" fill="url(#hB60)"/><rect x="395.7" y="86" width="95.0" height="1" fill="url(#hB61)"/><rect x="395.7" y="87" width="95.0" height="1" fill="url(#hB62)"/><rect x="395.7" y="88" width="95.0" height="1" fill="url(#hB63)"/><rect x="395.7" y="89" width="95.0" height="1" fill="url(#hB64)"/><rect x="395.7" y="90" width="95.0" height="1" fill="url(#hB65)"/><rect x="395.7" y="91" width="95.0" height="1" fill="url(#hB66)"/></g><text x="383.6" y="84.9" text-anchor="end" style="font-family:'Liberation Sans',Arial,sans-serif;font-size:8.7px" fill="#f3e4f2" stroke="#f3e4f2" stroke-width="0.3">Design A</text><text x="485.6" y="84.9" text-anchor="end" style="font-family:'Liberation Sans',Arial,sans-serif;font-size:8.7px" fill="#f3e4f2" stroke="#f3e4f2" stroke-width="0.3">Design B</text><rect x="293.8" y="25.3" width="95.6" height="66.3" fill="none" stroke="#1a1a1a" stroke-width="0.8"/><rect x="395.7" y="25.3" width="95" height="66.3" fill="none" stroke="#1a1a1a" stroke-width="0.8"/><text x="305.74" y="104.2" text-anchor="middle" style="font-family:'Liberation Sans',Arial,sans-serif;font-size:8.7px" fill="#1a1a1a" stroke="#1a1a1a" stroke-width="0.3">150</text><text x="329.61" y="104.2" text-anchor="middle" style="font-family:'Liberation Sans',Arial,sans-serif;font-size:8.7px" fill="#1a1a1a" stroke="#1a1a1a" stroke-width="0.3">200</text><text x="353.49" y="104.2" text-anchor="middle" style="font-family:'Liberation Sans',Arial,sans-serif;font-size:8.7px" fill="#1a1a1a" stroke="#1a1a1a" stroke-width="0.3">250</text><text x="377.36" y="104.2" text-anchor="middle" style="font-family:'Liberation Sans',Arial,sans-serif;font-size:8.7px" fill="#1a1a1a" stroke="#1a1a1a" stroke-width="0.3">300</text><text x="305.69" y="18.9" text-anchor="middle" style="font-family:'Liberation Sans',Arial,sans-serif;font-size:8.7px" fill="#1a1a1a" stroke="#1a1a1a" stroke-width="0.3">2.0</text><text x="329.55" y="18.9" text-anchor="middle" style="font-family:'Liberation Sans',Arial,sans-serif;font-size:8.7px" fill="#1a1a1a" stroke="#1a1a1a" stroke-width="0.3">1.5</text><text x="353.40" y="18.9" text-anchor="middle" style="font-family:'Liberation Sans',Arial,sans-serif;font-size:8.7px" fill="#1a1a1a" stroke="#1a1a1a" stroke-width="0.3">1.2</text><text x="377.26" y="18.9" text-anchor="middle" style="font-family:'Liberation Sans',Arial,sans-serif;font-size:8.7px" fill="#1a1a1a" stroke="#1a1a1a" stroke-width="0.3">1.0</text><text x="341.6" y="116.3" text-anchor="middle" style="font-family:'Liberation Sans',Arial,sans-serif;font-size:8.7px" fill="#1a1a1a" stroke="#1a1a1a" stroke-width="0.3">Frequency (THz)</text><text x="341.6" y="8.0" text-anchor="middle" style="font-family:'Liberation Sans',Arial,sans-serif;font-size:8.7px" fill="#1a1a1a" stroke="#1a1a1a" stroke-width="0.3">Wavelength (µm)</text><text x="407.64" y="104.2" text-anchor="middle" style="font-family:'Liberation Sans',Arial,sans-serif;font-size:8.7px" fill="#1a1a1a" stroke="#1a1a1a" stroke-width="0.3">150</text><text x="431.51" y="104.2" text-anchor="middle" style="font-family:'Liberation Sans',Arial,sans-serif;font-size:8.7px" fill="#1a1a1a" stroke="#1a1a1a" stroke-width="0.3">200</text><text x="455.39" y="104.2" text-anchor="middle" style="font-family:'Liberation Sans',Arial,sans-serif;font-size:8.7px" fill="#1a1a1a" stroke="#1a1a1a" stroke-width="0.3">250</text><text x="479.26" y="104.2" text-anchor="middle" style="font-family:'Liberation Sans',Arial,sans-serif;font-size:8.7px" fill="#1a1a1a" stroke="#1a1a1a" stroke-width="0.3">300</text><text x="407.59" y="18.9" text-anchor="middle" style="font-family:'Liberation Sans',Arial,sans-serif;font-size:8.7px" fill="#1a1a1a" stroke="#1a1a1a" stroke-width="0.3">2.0</text><text x="431.45" y="18.9" text-anchor="middle" style="font-family:'Liberation Sans',Arial,sans-serif;font-size:8.7px" fill="#1a1a1a" stroke="#1a1a1a" stroke-width="0.3">1.5</text><text x="455.30" y="18.9" text-anchor="middle" style="font-family:'Liberation Sans',Arial,sans-serif;font-size:8.7px" fill="#1a1a1a" stroke="#1a1a1a" stroke-width="0.3">1.2</text><text x="479.16" y="18.9" text-anchor="middle" style="font-family:'Liberation Sans',Arial,sans-serif;font-size:8.7px" fill="#1a1a1a" stroke="#1a1a1a" stroke-width="0.3">1.0</text><text x="443.2" y="116.3" text-anchor="middle" style="font-family:'Liberation Sans',Arial,sans-serif;font-size:8.7px" fill="#1a1a1a" stroke="#1a1a1a" stroke-width="0.3">Frequency (THz)</text><text x="443.2" y="8.0" text-anchor="middle" style="font-family:'Liberation Sans',Arial,sans-serif;font-size:8.7px" fill="#1a1a1a" stroke="#1a1a1a" stroke-width="0.3">Wavelength (µm)</text><text x="288.2" y="28.40" text-anchor="end" style="font-family:'Liberation Sans',Arial,sans-serif;font-size:8.7px" fill="#1a1a1a" stroke="#1a1a1a" stroke-width="0.3">5.0</text><text x="288.2" y="61.55" text-anchor="end" style="font-family:'Liberation Sans',Arial,sans-serif;font-size:8.7px" fill="#1a1a1a" stroke="#1a1a1a" stroke-width="0.3">2.5</text><text x="288.2" y="94.70" text-anchor="end" style="font-family:'Liberation Sans',Arial,sans-serif;font-size:8.7px" fill="#1a1a1a" stroke="#1a1a1a" stroke-width="0.3">0.0</text><path d="M305.74,91.6v2 M329.61,91.6v2 M353.49,91.6v2 M377.36,91.6v2 M305.69,25.3v-2 M329.55,25.3v-2 M353.40,25.3v-2 M377.26,25.3v-2 M407.64,91.6v2 M431.51,91.6v2 M455.39,91.6v2 M479.26,91.6v2 M407.59,25.3v-2 M431.45,25.3v-2 M455.30,25.3v-2 M479.16,25.3v-2 M293.8,25.30h-2 M293.8,58.45h-2 M293.8,91.60h-2" stroke="#1a1a1a" stroke-width="0.8"/><text transform="translate(270 58.0) rotate(-90)" text-anchor="middle" style="font-family:'Liberation Sans',Arial,sans-serif;font-size:8.5px" fill="#1a1a1a" stroke="#1a1a1a" stroke-width="0.3">Propagation distance (mm)</text><text x="251" y="6.3" style="font-family:'Liberation Sans',Arial,sans-serif;font-size:8.4px" fill="#1a1a1a" stroke="#1a1a1a" stroke-width="0.45">(e)</text><rect x="495.3" y="25.3" width="6" height="66.3" fill="url(#cbv)" stroke="#1a1a1a" stroke-width="0.6"/><path d="M501.3,38.56h-1.6 M501.3,51.82h-1.6 M501.3,65.08h-1.6 M501.3,78.34h-1.6" stroke="#1a1a1a" stroke-width="0.7"/><text transform="translate(514 57.5) rotate(-90)" text-anchor="middle" style="font-family:'Liberation Sans',Arial,sans-serif;font-size:8.7px" fill="#1a1a1a" stroke="#1a1a1a" stroke-width="0.3">Intensity (20 dB/div)</text><rect x="295.0" y="149.3" width="192.3" height="65.79999999999998" fill="#ffffff"/><g clip-path="url(#cf)" fill="none" stroke-width="1.2"><path d="M336.5,216 L359.6,155.2 L382.6,216" stroke="#c83444"/><path d="M313.50,217.00C314.25,215.92 316.13,213.33 318.00,210.50C319.87,207.67 322.03,204.17 324.70,200.00C327.37,195.83 331.45,189.37 334.00,185.50C336.55,181.63 338.17,179.38 340.00,176.80C341.83,174.22 343.50,171.97 345.00,170.00C346.50,168.03 347.83,166.33 349.00,165.00C350.17,163.67 351.00,162.78 352.00,162.00C353.00,161.22 354.00,160.62 355.00,160.30C356.00,159.98 357.00,159.98 358.00,160.10C359.00,160.22 359.83,160.42 361.00,161.00C362.17,161.58 363.50,162.47 365.00,163.60C366.50,164.73 368.33,166.35 370.00,167.80C371.67,169.25 373.33,170.80 375.00,172.30C376.67,173.80 377.83,174.68 380.00,176.80C382.17,178.92 385.33,182.10 388.00,185.00C390.67,187.90 393.33,191.03 396.00,194.20C398.67,197.37 401.67,201.03 404.00,204.00C406.33,206.97 408.42,209.83 410.00,212.00C411.58,214.17 412.92,216.17 413.50,217.00" stroke="#2f6ea4" stroke-dasharray="2.9,1.8"/><path d="M295.00,194.90C296.00,194.62 298.88,193.92 301.00,193.20C303.12,192.48 305.55,191.57 307.70,190.60C309.85,189.63 311.63,188.67 313.90,187.40C316.17,186.13 318.95,184.53 321.30,183.00C323.65,181.47 325.88,179.68 328.00,178.20C330.12,176.72 332.00,175.58 334.00,174.10C336.00,172.62 338.17,170.77 340.00,169.30C341.83,167.83 343.50,166.47 345.00,165.30C346.50,164.13 347.83,163.12 349.00,162.30C350.17,161.48 351.00,160.88 352.00,160.40C353.00,159.92 354.00,159.58 355.00,159.40C356.00,159.22 357.00,159.23 358.00,159.30C359.00,159.37 359.83,159.48 361.00,159.80C362.17,160.12 363.50,160.53 365.00,161.20C366.50,161.87 368.33,162.87 370.00,163.80C371.67,164.73 373.33,165.80 375.00,166.80C376.67,167.80 377.50,168.17 380.00,169.80C382.50,171.43 385.83,173.82 390.00,176.60C394.17,179.38 400.00,183.22 405.00,186.50C410.00,189.78 415.00,193.05 420.00,196.30C425.00,199.55 430.17,202.83 435.00,206.00C439.83,209.17 446.17,213.42 449.00,215.30C451.83,217.18 451.50,216.97 452.00,217.30" stroke="#2f6ea4"/></g><text x="359.8" y="195.6" text-anchor="middle" style="font-family:'Liberation Sans',Arial,sans-serif;font-size:8.7px" fill="#c83444" stroke="#c83444" stroke-width="0.3">Input</text><text x="431.1" y="202.6" style="font-family:'Liberation Sans',Arial,sans-serif;font-size:8.7px" fill="#2f6ea4" stroke="#2f6ea4" stroke-width="0.3">Output</text><rect x="420.8" y="153.4" width="62.2" height="27.4" rx="1.5" fill="#ffffff" stroke="#dcdcdc" stroke-width="0.6"/><line x1="424.2" y1="160.3" x2="436.5" y2="160.3" stroke="#6aa0d0" stroke-width="0.95" stroke-dasharray="2.9,1.8"/><line x1="424.2" y1="172.3" x2="436.5" y2="172.3" stroke="#6aa0d0" stroke-width="0.95"/><text x="444.2" y="163.4" style="font-family:'Liberation Sans',Arial,sans-serif;font-size:8.7px" fill="#1a1a1a" stroke="#1a1a1a" stroke-width="0.3">Design A</text><text x="444.2" y="175.4" style="font-family:'Liberation Sans',Arial,sans-serif;font-size:8.7px" fill="#1a1a1a" stroke="#1a1a1a" stroke-width="0.3">Design B</text><rect x="295.0" y="149.3" width="192.3" height="65.79999999999998" fill="none" stroke="#1a1a1a" stroke-width="0.9"/><text x="318.60" y="226" text-anchor="middle" style="font-family:'Liberation Sans',Arial,sans-serif;font-size:8.7px" fill="#1a1a1a" stroke="#1a1a1a" stroke-width="0.3">150</text><text x="366.74" y="226" text-anchor="middle" style="font-family:'Liberation Sans',Arial,sans-serif;font-size:8.7px" fill="#1a1a1a" stroke="#1a1a1a" stroke-width="0.3">200</text><text x="414.87" y="226" text-anchor="middle" style="font-family:'Liberation Sans',Arial,sans-serif;font-size:8.7px" fill="#1a1a1a" stroke="#1a1a1a" stroke-width="0.3">250</text><text x="463.00" y="226" text-anchor="middle" style="font-family:'Liberation Sans',Arial,sans-serif;font-size:8.7px" fill="#1a1a1a" stroke="#1a1a1a" stroke-width="0.3">300</text><text x="318.50" y="144.8" text-anchor="middle" style="font-family:'Liberation Sans',Arial,sans-serif;font-size:8.7px" fill="#1a1a1a" stroke="#1a1a1a" stroke-width="0.3">2.0</text><text x="366.60" y="144.8" text-anchor="middle" style="font-family:'Liberation Sans',Arial,sans-serif;font-size:8.7px" fill="#1a1a1a" stroke="#1a1a1a" stroke-width="0.3">1.5</text><text x="414.70" y="144.8" text-anchor="middle" style="font-family:'Liberation Sans',Arial,sans-serif;font-size:8.7px" fill="#1a1a1a" stroke="#1a1a1a" stroke-width="0.3">1.2</text><text x="462.80" y="144.8" text-anchor="middle" style="font-family:'Liberation Sans',Arial,sans-serif;font-size:8.7px" fill="#1a1a1a" stroke="#1a1a1a" stroke-width="0.3">1.0</text><path d="M318.60,215.1v-1.8 M366.74,215.1v-1.8 M414.87,215.1v-1.8 M463.00,215.1v-1.8 M318.50,149.3v1.8 M366.60,149.3v1.8 M414.70,149.3v1.8 M462.80,149.3v1.8 M295.0,155.90h1.8 M295.0,169.20h1.8 M295.0,182.50h1.8 M295.0,195.80h1.8 M295.0,209.10h1.8" stroke="#1a1a1a" stroke-width="0.8"/><text x="391.1" y="238" text-anchor="middle" style="font-family:'Liberation Sans',Arial,sans-serif;font-size:8.7px" fill="#1a1a1a" stroke="#1a1a1a" stroke-width="0.3">Frequency (THz)</text><text x="391.1" y="134.0" text-anchor="middle" style="font-family:'Liberation Sans',Arial,sans-serif;font-size:8.7px" fill="#1a1a1a" stroke="#1a1a1a" stroke-width="0.3">Wavelength (µm)</text><text transform="translate(287 182.2) rotate(-90)" text-anchor="middle" style="font-family:'Liberation Sans',Arial,sans-serif;font-size:8.7px" fill="#1a1a1a" stroke="#1a1a1a" stroke-width="0.3">Intensity (20 dB/div)</text><text x="263.6" y="132.6" style="font-family:'Liberation Sans',Arial,sans-serif;font-size:8.4px" fill="#1a1a1a" stroke="#1a1a1a" stroke-width="0.45">(f)</text></svg></body></html>
